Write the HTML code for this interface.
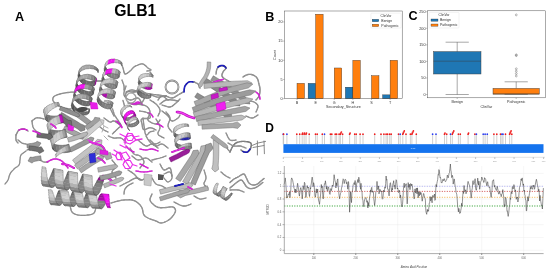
<!DOCTYPE html>
<html><head><meta charset="utf-8"><title>GLB1</title>
<style>html,body{margin:0;padding:0;background:#fff;width:550px;height:274px;overflow:hidden}
svg{display:block} text{font-family:'Liberation Sans', Arial, sans-serif}</style></head>
<body><svg width="550" height="274" viewBox="0 0 550 274">
<rect width="550" height="274" fill="#fff"/>
<text x="19.6" y="20.7" font-size="12.6" font-weight="bold" text-anchor="middle" fill="#000">A</text>
<text x="135.3" y="15.9" font-size="15.8" font-weight="bold" text-anchor="middle" fill="#000">GLB1</text>
<text x="269.8" y="20.7" font-size="12.6" font-weight="bold" text-anchor="middle" fill="#000">B</text>
<text x="413" y="20.4" font-size="12.6" font-weight="bold" text-anchor="middle" fill="#000">C</text>
<text x="269.6" y="131.8" font-size="12" font-weight="bold" text-anchor="middle" fill="#000">D</text>
<path d="M126.0,86.0 L125.7,87.0 L125.2,88.5 L124.6,90.2 L124.1,92.0 L123.9,93.6 L124.0,95.0 L124.5,96.1 L125.3,97.2 L126.4,98.2 L127.6,99.0 L128.8,99.6 L130.0,100.0 L131.3,100.0 L132.7,99.6 L134.1,98.9 L135.6,98.3 L136.9,98.0 L138.0,98.0 L138.9,98.6 L139.8,99.6 L140.5,100.9 L141.1,102.1 L141.6,103.3 L142.0,104.0" fill="none" stroke="#777777" stroke-width="1.30" stroke-linecap="round" stroke-linejoin="round"/><path d="M126.0,86.0 L125.7,87.0 L125.2,88.5 L124.6,90.2 L124.1,92.0 L123.9,93.6 L124.0,95.0 L124.5,96.1 L125.3,97.2 L126.4,98.2 L127.6,99.0 L128.8,99.6 L130.0,100.0 L131.3,100.0 L132.7,99.6 L134.1,98.9 L135.6,98.3 L136.9,98.0 L138.0,98.0 L138.9,98.6 L139.8,99.6 L140.5,100.9 L141.1,102.1 L141.6,103.3 L142.0,104.0" fill="none" stroke="#b4b4b4" stroke-width="0.50" stroke-linecap="round" stroke-linejoin="round"/>
<path d="M150.0,94.0 L150.7,94.4 L151.7,94.9 L152.9,95.6 L154.3,96.2 L155.6,96.7 L157.0,97.0 L158.5,97.1 L160.2,96.9 L161.9,96.7 L163.6,96.4 L165.0,96.2 L166.0,96.0" fill="none" stroke="#777777" stroke-width="1.30" stroke-linecap="round" stroke-linejoin="round"/><path d="M150.0,94.0 L150.7,94.4 L151.7,94.9 L152.9,95.6 L154.3,96.2 L155.6,96.7 L157.0,97.0 L158.5,97.1 L160.2,96.9 L161.9,96.7 L163.6,96.4 L165.0,96.2 L166.0,96.0" fill="none" stroke="#b4b4b4" stroke-width="0.50" stroke-linecap="round" stroke-linejoin="round"/>
<path d="M133.0,92.0 L133.8,91.7 L134.8,91.2 L136.0,90.7 L137.3,90.2 L138.7,90.0 L140.0,90.0 L141.4,90.5 L142.9,91.3 L144.4,92.4 L145.9,93.4 L147.1,94.4 L148.0,95.0" fill="none" stroke="#777777" stroke-width="1.30" stroke-linecap="round" stroke-linejoin="round"/><path d="M133.0,92.0 L133.8,91.7 L134.8,91.2 L136.0,90.7 L137.3,90.2 L138.7,90.0 L140.0,90.0 L141.4,90.5 L142.9,91.3 L144.4,92.4 L145.9,93.4 L147.1,94.4 L148.0,95.0" fill="none" stroke="#b4b4b4" stroke-width="0.50" stroke-linecap="round" stroke-linejoin="round"/>
<path d="M136.0,104.0 L137.2,104.2 L138.8,104.4 L140.8,104.6 L142.7,105.0 L144.6,105.4 L146.0,106.0 L147.1,106.7 L148.0,107.6 L148.8,108.6 L149.3,109.7 L149.8,110.8 L150.0,112.0 L149.9,113.3 L149.4,114.7 L148.8,116.1 L148.1,117.6 L147.8,118.9 L148.0,120.0 L148.8,121.0 L150.1,121.9 L151.6,122.8 L153.3,123.4 L154.8,123.8 L156.0,124.0 L156.9,123.8 L157.8,123.1 L158.5,122.2 L159.1,121.3 L159.6,120.5 L160.0,120.0" fill="none" stroke="#777777" stroke-width="1.30" stroke-linecap="round" stroke-linejoin="round"/><path d="M136.0,104.0 L137.2,104.2 L138.8,104.4 L140.8,104.6 L142.7,105.0 L144.6,105.4 L146.0,106.0 L147.1,106.7 L148.0,107.6 L148.8,108.6 L149.3,109.7 L149.8,110.8 L150.0,112.0 L149.9,113.3 L149.4,114.7 L148.8,116.1 L148.1,117.6 L147.8,118.9 L148.0,120.0 L148.8,121.0 L150.1,121.9 L151.6,122.8 L153.3,123.4 L154.8,123.8 L156.0,124.0 L156.9,123.8 L157.8,123.1 L158.5,122.2 L159.1,121.3 L159.6,120.5 L160.0,120.0" fill="none" stroke="#b4b4b4" stroke-width="0.50" stroke-linecap="round" stroke-linejoin="round"/>
<path d="M134.0,104.0 L134.4,103.7 L135.0,103.3 L135.8,102.9 L136.5,102.4 L137.3,102.1 L138.0,102.0 L138.7,102.1 L139.5,102.4 L140.2,102.9 L141.0,103.3 L141.6,103.7 L142.0,104.0" fill="none" stroke="#c010c0" stroke-width="1.40" stroke-linecap="round" stroke-linejoin="round"/><path d="M134.0,104.0 L134.4,103.7 L135.0,103.3 L135.8,102.9 L136.5,102.4 L137.3,102.1 L138.0,102.0 L138.7,102.1 L139.5,102.4 L140.2,102.9 L141.0,103.3 L141.6,103.7 L142.0,104.0" fill="none" stroke="#f040f0" stroke-width="0.55" stroke-linecap="round" stroke-linejoin="round"/>
<path d="M148.0,113.0 L148.3,113.1 L148.8,113.2 L149.4,113.3 L150.0,113.5 L150.5,113.7 L151.0,114.0 L151.4,114.4 L151.8,115.0 L152.2,115.6 L152.5,116.1 L152.8,116.7 L153.0,117.0" fill="none" stroke="#c010c0" stroke-width="1.40" stroke-linecap="round" stroke-linejoin="round"/><path d="M148.0,113.0 L148.3,113.1 L148.8,113.2 L149.4,113.3 L150.0,113.5 L150.5,113.7 L151.0,114.0 L151.4,114.4 L151.8,115.0 L152.2,115.6 L152.5,116.1 L152.8,116.7 L153.0,117.0" fill="none" stroke="#f040f0" stroke-width="0.55" stroke-linecap="round" stroke-linejoin="round"/>
<path d="M143.0,118.0 L143.1,118.9 L143.2,120.0 L143.4,121.4 L143.6,123.0 L143.8,124.5 L144.0,126.0 L144.3,127.6 L144.5,129.4 L144.8,131.2 L145.1,132.9 L145.5,134.2 L146.0,135.0 L146.6,135.2 L147.2,134.8 L147.9,134.1 L148.6,133.3 L149.3,132.5 L150.0,132.0 L150.7,131.7 L151.5,131.5 L152.2,131.3 L153.0,131.2 L153.6,131.1 L154.0,131.0" fill="none" stroke="#777777" stroke-width="1.30" stroke-linecap="round" stroke-linejoin="round"/><path d="M143.0,118.0 L143.1,118.9 L143.2,120.0 L143.4,121.4 L143.6,123.0 L143.8,124.5 L144.0,126.0 L144.3,127.6 L144.5,129.4 L144.8,131.2 L145.1,132.9 L145.5,134.2 L146.0,135.0 L146.6,135.2 L147.2,134.8 L147.9,134.1 L148.6,133.3 L149.3,132.5 L150.0,132.0 L150.7,131.7 L151.5,131.5 L152.2,131.3 L153.0,131.2 L153.6,131.1 L154.0,131.0" fill="none" stroke="#b4b4b4" stroke-width="0.50" stroke-linecap="round" stroke-linejoin="round"/>
<path d="M156.0,119.0 L156.5,119.9 L157.3,121.1 L158.1,122.6 L159.0,124.1 L159.6,125.6 L160.0,127.0 L159.9,128.3 L159.5,129.5 L158.9,130.8 L158.3,131.9 L157.9,133.0 L158.0,134.0 L158.6,134.9 L159.6,135.7 L160.9,136.4 L162.1,137.1 L163.3,137.6 L164.0,138.0" fill="none" stroke="#777777" stroke-width="1.30" stroke-linecap="round" stroke-linejoin="round"/><path d="M156.0,119.0 L156.5,119.9 L157.3,121.1 L158.1,122.6 L159.0,124.1 L159.6,125.6 L160.0,127.0 L159.9,128.3 L159.5,129.5 L158.9,130.8 L158.3,131.9 L157.9,133.0 L158.0,134.0 L158.6,134.9 L159.6,135.7 L160.9,136.4 L162.1,137.1 L163.3,137.6 L164.0,138.0" fill="none" stroke="#b4b4b4" stroke-width="0.50" stroke-linecap="round" stroke-linejoin="round"/>
<path d="M157.0,124.0 L157.3,124.1 L157.8,124.2 L158.3,124.4 L158.9,124.6 L159.5,124.8 L160.0,125.0 L160.5,125.3 L161.1,125.7 L161.7,126.1 L162.2,126.4 L162.7,126.8 L163.0,127.0" fill="none" stroke="#c010c0" stroke-width="1.40" stroke-linecap="round" stroke-linejoin="round"/><path d="M157.0,124.0 L157.3,124.1 L157.8,124.2 L158.3,124.4 L158.9,124.6 L159.5,124.8 L160.0,125.0 L160.5,125.3 L161.1,125.7 L161.7,126.1 L162.2,126.4 L162.7,126.8 L163.0,127.0" fill="none" stroke="#f040f0" stroke-width="0.55" stroke-linecap="round" stroke-linejoin="round"/>
<path d="M162.0,105.0 L162.9,105.3 L164.1,105.7 L165.6,106.2 L167.2,106.7 L168.7,107.0 L170.0,107.0 L171.1,106.7 L172.2,106.1 L173.2,105.4 L174.2,104.6 L175.1,103.7 L176.0,103.0 L176.8,102.3 L177.6,101.5 L178.4,100.8 L179.0,100.0 L179.6,99.4 L180.0,99.0" fill="none" stroke="#777777" stroke-width="1.30" stroke-linecap="round" stroke-linejoin="round"/><path d="M162.0,105.0 L162.9,105.3 L164.1,105.7 L165.6,106.2 L167.2,106.7 L168.7,107.0 L170.0,107.0 L171.1,106.7 L172.2,106.1 L173.2,105.4 L174.2,104.6 L175.1,103.7 L176.0,103.0 L176.8,102.3 L177.6,101.5 L178.4,100.8 L179.0,100.0 L179.6,99.4 L180.0,99.0" fill="none" stroke="#b4b4b4" stroke-width="0.50" stroke-linecap="round" stroke-linejoin="round"/>
<path d="M162.0,111.0 L162.7,111.5 L163.6,112.3 L164.8,113.2 L165.9,114.1 L167.0,115.1 L168.0,116.0 L168.8,116.9 L169.4,118.0 L170.0,119.0 L170.6,119.9 L171.2,120.6 L172.0,121.0 L172.9,121.0 L174.0,120.6 L175.1,120.0 L176.2,119.3 L177.2,118.6 L178.0,118.0 L178.6,117.5 L179.0,116.9 L179.4,116.3 L179.6,115.8 L179.8,115.3 L180.0,115.0" fill="none" stroke="#777777" stroke-width="1.30" stroke-linecap="round" stroke-linejoin="round"/><path d="M162.0,111.0 L162.7,111.5 L163.6,112.3 L164.8,113.2 L165.9,114.1 L167.0,115.1 L168.0,116.0 L168.8,116.9 L169.4,118.0 L170.0,119.0 L170.6,119.9 L171.2,120.6 L172.0,121.0 L172.9,121.0 L174.0,120.6 L175.1,120.0 L176.2,119.3 L177.2,118.6 L178.0,118.0 L178.6,117.5 L179.0,116.9 L179.4,116.3 L179.6,115.8 L179.8,115.3 L180.0,115.0" fill="none" stroke="#b4b4b4" stroke-width="0.50" stroke-linecap="round" stroke-linejoin="round"/>
<path d="M104.0,118.0 L104.7,118.5 L105.6,119.2 L106.8,120.1 L107.9,120.9 L109.0,121.6 L110.0,122.0 L110.8,122.1 L111.4,121.9 L112.0,121.5 L112.6,121.1 L113.2,120.9 L114.0,121.0 L115.0,121.4 L116.1,122.1 L117.2,122.9 L118.4,123.8 L119.3,124.5 L120.0,125.0" fill="none" stroke="#777777" stroke-width="1.30" stroke-linecap="round" stroke-linejoin="round"/><path d="M104.0,118.0 L104.7,118.5 L105.6,119.2 L106.8,120.1 L107.9,120.9 L109.0,121.6 L110.0,122.0 L110.8,122.1 L111.4,121.9 L112.0,121.5 L112.6,121.1 L113.2,120.9 L114.0,121.0 L115.0,121.4 L116.1,122.1 L117.2,122.9 L118.4,123.8 L119.3,124.5 L120.0,125.0" fill="none" stroke="#b4b4b4" stroke-width="0.50" stroke-linecap="round" stroke-linejoin="round"/>
<path d="M116.0,121.0 L116.3,121.2 L116.8,121.4 L117.3,121.8 L117.9,122.1 L118.5,122.5 L119.0,123.0 L119.5,123.6 L120.1,124.3 L120.7,125.1 L121.2,125.9 L121.7,126.5 L122.0,127.0" fill="none" stroke="#c010c0" stroke-width="1.40" stroke-linecap="round" stroke-linejoin="round"/><path d="M116.0,121.0 L116.3,121.2 L116.8,121.4 L117.3,121.8 L117.9,122.1 L118.5,122.5 L119.0,123.0 L119.5,123.6 L120.1,124.3 L120.7,125.1 L121.2,125.9 L121.7,126.5 L122.0,127.0" fill="none" stroke="#f040f0" stroke-width="0.55" stroke-linecap="round" stroke-linejoin="round"/>
<path d="M108.0,103.0 L108.3,103.8 L108.8,104.9 L109.3,106.1 L109.9,107.5 L110.5,108.8 L111.0,110.0 L111.5,111.1 L112.1,112.3 L112.7,113.4 L113.2,114.5 L113.7,115.4 L114.0,116.0" fill="none" stroke="#777777" stroke-width="1.30" stroke-linecap="round" stroke-linejoin="round"/><path d="M108.0,103.0 L108.3,103.8 L108.8,104.9 L109.3,106.1 L109.9,107.5 L110.5,108.8 L111.0,110.0 L111.5,111.1 L112.1,112.3 L112.7,113.4 L113.2,114.5 L113.7,115.4 L114.0,116.0" fill="none" stroke="#b4b4b4" stroke-width="0.50" stroke-linecap="round" stroke-linejoin="round"/>
<path d="M138.0,140.0 L138.9,140.7 L140.1,141.9 L141.6,143.1 L143.2,144.4 L144.7,145.4 L146.0,146.0 L147.1,146.1 L148.1,145.7 L149.1,145.1 L150.1,144.5 L151.0,144.1 L152.0,144.0 L153.1,144.4 L154.2,145.0 L155.4,145.9 L156.4,146.7 L157.3,147.5 L158.0,148.0" fill="none" stroke="#777777" stroke-width="1.30" stroke-linecap="round" stroke-linejoin="round"/><path d="M138.0,140.0 L138.9,140.7 L140.1,141.9 L141.6,143.1 L143.2,144.4 L144.7,145.4 L146.0,146.0 L147.1,146.1 L148.1,145.7 L149.1,145.1 L150.1,144.5 L151.0,144.1 L152.0,144.0 L153.1,144.4 L154.2,145.0 L155.4,145.9 L156.4,146.7 L157.3,147.5 L158.0,148.0" fill="none" stroke="#b4b4b4" stroke-width="0.50" stroke-linecap="round" stroke-linejoin="round"/>
<path d="M140.0,149.0 L140.7,149.1 L141.6,149.3 L142.6,149.6 L143.8,149.8 L144.9,149.9 L146.0,150.0 L147.0,149.9 L148.0,149.7 L149.0,149.4 L150.0,149.2 L151.0,149.0 L152.0,149.0 L153.1,149.2 L154.2,149.5 L155.4,149.9 L156.4,150.4 L157.3,150.7 L158.0,151.0" fill="none" stroke="#c010c0" stroke-width="1.40" stroke-linecap="round" stroke-linejoin="round"/><path d="M140.0,149.0 L140.7,149.1 L141.6,149.3 L142.6,149.6 L143.8,149.8 L144.9,149.9 L146.0,150.0 L147.0,149.9 L148.0,149.7 L149.0,149.4 L150.0,149.2 L151.0,149.0 L152.0,149.0 L153.1,149.2 L154.2,149.5 L155.4,149.9 L156.4,150.4 L157.3,150.7 L158.0,151.0" fill="none" stroke="#f040f0" stroke-width="0.55" stroke-linecap="round" stroke-linejoin="round"/>
<path d="M132.0,156.0 L132.6,156.5 L133.5,157.3 L134.5,158.1 L135.6,159.0 L136.8,159.6 L138.0,160.0 L139.2,159.9 L140.6,159.6 L142.0,159.0 L143.4,158.4 L144.8,158.1 L146.0,158.0 L147.2,158.4 L148.4,159.0 L149.5,159.9 L150.5,160.7 L151.4,161.5 L152.0,162.0" fill="none" stroke="#777777" stroke-width="1.30" stroke-linecap="round" stroke-linejoin="round"/><path d="M132.0,156.0 L132.6,156.5 L133.5,157.3 L134.5,158.1 L135.6,159.0 L136.8,159.6 L138.0,160.0 L139.2,159.9 L140.6,159.6 L142.0,159.0 L143.4,158.4 L144.8,158.1 L146.0,158.0 L147.2,158.4 L148.4,159.0 L149.5,159.9 L150.5,160.7 L151.4,161.5 L152.0,162.0" fill="none" stroke="#b4b4b4" stroke-width="0.50" stroke-linecap="round" stroke-linejoin="round"/>
<path d="M136.0,171.0 L136.9,171.1 L138.1,171.3 L139.5,171.6 L141.0,171.8 L142.6,171.9 L144.0,172.0 L145.4,171.9 L147.0,171.8 L148.5,171.6 L149.9,171.3 L151.1,171.1 L152.0,171.0" fill="none" stroke="#c010c0" stroke-width="1.40" stroke-linecap="round" stroke-linejoin="round"/><path d="M136.0,171.0 L136.9,171.1 L138.1,171.3 L139.5,171.6 L141.0,171.8 L142.6,171.9 L144.0,172.0 L145.4,171.9 L147.0,171.8 L148.5,171.6 L149.9,171.3 L151.1,171.1 L152.0,171.0" fill="none" stroke="#f040f0" stroke-width="0.55" stroke-linecap="round" stroke-linejoin="round"/>
<path d="M152.0,160.0 L152.9,159.8 L154.1,159.5 L155.6,159.1 L157.2,158.7 L158.7,158.4 L160.0,158.0 L161.2,157.6 L162.4,157.3 L163.5,156.9 L164.5,156.5 L165.4,156.2 L166.0,156.0" fill="none" stroke="#777777" stroke-width="1.30" stroke-linecap="round" stroke-linejoin="round"/><path d="M152.0,160.0 L152.9,159.8 L154.1,159.5 L155.6,159.1 L157.2,158.7 L158.7,158.4 L160.0,158.0 L161.2,157.6 L162.4,157.3 L163.5,156.9 L164.5,156.5 L165.4,156.2 L166.0,156.0" fill="none" stroke="#b4b4b4" stroke-width="0.50" stroke-linecap="round" stroke-linejoin="round"/>
<path d="M120.0,186.0 L120.9,185.6 L122.1,185.0 L123.5,184.2 L125.0,183.5 L126.6,182.7 L128.0,182.0 L129.4,181.3 L130.7,180.4 L132.1,179.6 L133.5,178.9 L134.8,178.3 L136.0,178.0 L137.2,178.0 L138.4,178.3 L139.5,178.8 L140.5,179.3 L141.4,179.7 L142.0,180.0" fill="none" stroke="#777777" stroke-width="1.30" stroke-linecap="round" stroke-linejoin="round"/><path d="M120.0,186.0 L120.9,185.6 L122.1,185.0 L123.5,184.2 L125.0,183.5 L126.6,182.7 L128.0,182.0 L129.4,181.3 L130.7,180.4 L132.1,179.6 L133.5,178.9 L134.8,178.3 L136.0,178.0 L137.2,178.0 L138.4,178.3 L139.5,178.8 L140.5,179.3 L141.4,179.7 L142.0,180.0" fill="none" stroke="#b4b4b4" stroke-width="0.50" stroke-linecap="round" stroke-linejoin="round"/>
<path d="M150.0,140.0 L150.5,140.5 L151.3,141.3 L152.2,142.1 L153.1,143.0 L154.1,143.6 L155.0,144.0 L155.9,144.0 L156.9,143.7 L157.8,143.2 L158.7,142.7 L159.5,142.3 L160.0,142.0" fill="none" stroke="#777777" stroke-width="1.30" stroke-linecap="round" stroke-linejoin="round"/><path d="M150.0,140.0 L150.5,140.5 L151.3,141.3 L152.2,142.1 L153.1,143.0 L154.1,143.6 L155.0,144.0 L155.9,144.0 L156.9,143.7 L157.8,143.2 L158.7,142.7 L159.5,142.3 L160.0,142.0" fill="none" stroke="#b4b4b4" stroke-width="0.50" stroke-linecap="round" stroke-linejoin="round"/>
<path d="M160.0,164.0 L160.4,164.7 L161.0,165.9 L161.6,167.1 L162.4,168.4 L163.2,169.4 L164.0,170.0 L164.9,170.0 L166.0,169.6 L167.1,168.9 L168.2,168.2 L169.2,167.8 L170.0,168.0 L170.6,168.8 L171.0,170.2 L171.4,171.9 L171.6,173.6 L171.8,175.0 L172.0,176.0" fill="none" stroke="#777777" stroke-width="1.30" stroke-linecap="round" stroke-linejoin="round"/><path d="M160.0,164.0 L160.4,164.7 L161.0,165.9 L161.6,167.1 L162.4,168.4 L163.2,169.4 L164.0,170.0 L164.9,170.0 L166.0,169.6 L167.1,168.9 L168.2,168.2 L169.2,167.8 L170.0,168.0 L170.6,168.8 L171.0,170.2 L171.4,171.9 L171.6,173.6 L171.8,175.0 L172.0,176.0" fill="none" stroke="#b4b4b4" stroke-width="0.50" stroke-linecap="round" stroke-linejoin="round"/>
<path d="M164.0,174.0 L164.7,173.7 L165.7,173.2 L166.9,172.6 L168.1,172.1 L169.2,171.9 L170.0,172.0 L170.6,172.6 L171.2,173.5 L171.6,174.6 L171.9,175.9 L172.1,177.0 L172.0,178.0 L171.7,178.9 L171.1,179.8 L170.4,180.6 L169.6,181.3 L168.7,181.8 L168.0,182.0 L167.3,181.8 L166.5,181.1 L165.8,180.2 L165.0,179.3 L164.4,178.5 L164.0,178.0" fill="none" stroke="#777777" stroke-width="1.20" stroke-linecap="round" stroke-linejoin="round"/><path d="M164.0,174.0 L164.7,173.7 L165.7,173.2 L166.9,172.6 L168.1,172.1 L169.2,171.9 L170.0,172.0 L170.6,172.6 L171.2,173.5 L171.6,174.6 L171.9,175.9 L172.1,177.0 L172.0,178.0 L171.7,178.9 L171.1,179.8 L170.4,180.6 L169.6,181.3 L168.7,181.8 L168.0,182.0 L167.3,181.8 L166.5,181.1 L165.8,180.2 L165.0,179.3 L164.4,178.5 L164.0,178.0" fill="none" stroke="#b4b4b4" stroke-width="0.45" stroke-linecap="round" stroke-linejoin="round"/>
<path d="M112.5,108.8 L112.7,109.5 L113.0,110.4 L113.3,111.5 L113.7,112.7 L114.1,113.9 L114.6,115.0 L115.2,116.1 L115.9,117.2 L116.6,118.3 L117.4,119.4 L118.1,120.4 L118.7,121.3 L119.2,122.1 L119.8,122.9 L120.3,123.5 L120.6,124.2 L120.8,124.8 L120.8,125.5 L120.5,126.2 L119.9,126.9 L119.1,127.6 L118.3,128.3 L117.5,129.0 L116.7,129.7 L116.0,130.4 L115.2,131.2 L114.3,132.0 L113.6,132.7 L113.0,133.4 L112.5,133.8" fill="none" stroke="#777777" stroke-width="1.30" stroke-linecap="round" stroke-linejoin="round"/><path d="M112.5,108.8 L112.7,109.5 L113.0,110.4 L113.3,111.5 L113.7,112.7 L114.1,113.9 L114.6,115.0 L115.2,116.1 L115.9,117.2 L116.6,118.3 L117.4,119.4 L118.1,120.4 L118.7,121.3 L119.2,122.1 L119.8,122.9 L120.3,123.5 L120.6,124.2 L120.8,124.8 L120.8,125.5 L120.5,126.2 L119.9,126.9 L119.1,127.6 L118.3,128.3 L117.5,129.0 L116.7,129.7 L116.0,130.4 L115.2,131.2 L114.3,132.0 L113.6,132.7 L113.0,133.4 L112.5,133.8" fill="none" stroke="#b4b4b4" stroke-width="0.50" stroke-linecap="round" stroke-linejoin="round"/>
<path d="M117.7,122.0 L118.0,122.3 L118.3,122.6 L118.7,123.1 L119.2,123.5 L119.6,124.0 L120.0,124.5 L120.4,125.0 L120.7,125.6 L121.1,126.2 L121.4,126.8 L121.7,127.3 L121.9,127.6" fill="none" stroke="#c010c0" stroke-width="1.50" stroke-linecap="round" stroke-linejoin="round"/><path d="M117.7,122.0 L118.0,122.3 L118.3,122.6 L118.7,123.1 L119.2,123.5 L119.6,124.0 L120.0,124.5 L120.4,125.0 L120.7,125.6 L121.1,126.2 L121.4,126.8 L121.7,127.3 L121.9,127.6" fill="none" stroke="#f040f0" stroke-width="0.60" stroke-linecap="round" stroke-linejoin="round"/>
<path d="M125.0,96.3 L125.2,95.8 L125.4,95.0 L125.6,94.1 L126.0,93.3 L126.4,92.5 L127.0,92.0 L127.7,91.8 L128.6,91.7 L129.6,91.7 L130.7,91.8 L131.8,92.0 L133.0,92.0 L134.4,92.0 L135.9,91.8 L137.5,91.7 L139.1,91.7 L140.5,91.8 L141.7,92.0 L142.6,92.4 L143.4,93.0 L144.0,93.8 L144.4,94.6 L144.7,95.4 L144.8,96.3 L144.7,97.3 L144.3,98.4 L143.8,99.6 L143.2,100.7 L142.5,101.8 L141.7,102.6 L140.8,103.2 L139.9,103.8 L138.8,104.1 L137.7,104.4 L136.6,104.6 L135.4,104.7 L134.1,104.6 L132.7,104.4 L131.3,104.0 L130.0,103.6 L128.8,103.2 L128.0,103.0" fill="none" stroke="#777777" stroke-width="1.30" stroke-linecap="round" stroke-linejoin="round"/><path d="M125.0,96.3 L125.2,95.8 L125.4,95.0 L125.6,94.1 L126.0,93.3 L126.4,92.5 L127.0,92.0 L127.7,91.8 L128.6,91.7 L129.6,91.7 L130.7,91.8 L131.8,92.0 L133.0,92.0 L134.4,92.0 L135.9,91.8 L137.5,91.7 L139.1,91.7 L140.5,91.8 L141.7,92.0 L142.6,92.4 L143.4,93.0 L144.0,93.8 L144.4,94.6 L144.7,95.4 L144.8,96.3 L144.7,97.3 L144.3,98.4 L143.8,99.6 L143.2,100.7 L142.5,101.8 L141.7,102.6 L140.8,103.2 L139.9,103.8 L138.8,104.1 L137.7,104.4 L136.6,104.6 L135.4,104.7 L134.1,104.6 L132.7,104.4 L131.3,104.0 L130.0,103.6 L128.8,103.2 L128.0,103.0" fill="none" stroke="#b4b4b4" stroke-width="0.50" stroke-linecap="round" stroke-linejoin="round"/>
<path d="M131.0,103.5 L131.4,103.6 L132.0,103.7 L132.7,103.8 L133.5,103.9 L134.3,104.0 L135.0,104.0 L135.8,103.9 L136.7,103.7 L137.6,103.5 L138.4,103.3 L139.1,103.1 L139.6,103.0" fill="none" stroke="#c010c0" stroke-width="1.50" stroke-linecap="round" stroke-linejoin="round"/><path d="M131.0,103.5 L131.4,103.6 L132.0,103.7 L132.7,103.8 L133.5,103.9 L134.3,104.0 L135.0,104.0 L135.8,103.9 L136.7,103.7 L137.6,103.5 L138.4,103.3 L139.1,103.1 L139.6,103.0" fill="none" stroke="#f040f0" stroke-width="0.60" stroke-linecap="round" stroke-linejoin="round"/>
<path d="M123.0,100.5 L123.1,100.9 L123.3,101.4 L123.4,102.0 L123.6,102.6 L123.8,103.3 L124.0,104.0 L124.2,104.8 L124.4,105.7 L124.6,106.6 L124.7,107.5 L124.9,108.3 L125.0,108.8" fill="none" stroke="#777777" stroke-width="1.30" stroke-linecap="round" stroke-linejoin="round"/><path d="M123.0,100.5 L123.1,100.9 L123.3,101.4 L123.4,102.0 L123.6,102.6 L123.8,103.3 L124.0,104.0 L124.2,104.8 L124.4,105.7 L124.6,106.6 L124.7,107.5 L124.9,108.3 L125.0,108.8" fill="none" stroke="#b4b4b4" stroke-width="0.50" stroke-linecap="round" stroke-linejoin="round"/>
<path d="M139.6,111.0 L140.6,111.2 L142.0,111.4 L143.7,111.7 L145.4,112.0 L146.9,112.5 L148.0,113.0 L148.8,113.7 L149.5,114.6 L150.0,115.6 L150.3,116.5 L150.3,117.4 L150.0,118.0 L149.1,118.4 L147.7,118.5 L146.0,118.5 L144.2,118.5 L142.7,118.6 L141.7,119.0 L141.2,119.6 L141.1,120.3 L141.2,121.2 L141.5,122.1 L141.8,123.1 L142.0,124.0 L142.2,125.0 L142.3,126.1 L142.5,127.3 L142.8,128.4 L143.2,129.2 L143.8,129.7 L144.5,129.7 L145.5,129.4 L146.6,128.9 L147.8,128.3 L148.9,127.8 L150.0,127.6 L151.1,127.8 L152.2,128.2 L153.4,128.7 L154.5,129.2 L155.4,129.7 L156.0,130.0" fill="none" stroke="#777777" stroke-width="1.30" stroke-linecap="round" stroke-linejoin="round"/><path d="M139.6,111.0 L140.6,111.2 L142.0,111.4 L143.7,111.7 L145.4,112.0 L146.9,112.5 L148.0,113.0 L148.8,113.7 L149.5,114.6 L150.0,115.6 L150.3,116.5 L150.3,117.4 L150.0,118.0 L149.1,118.4 L147.7,118.5 L146.0,118.5 L144.2,118.5 L142.7,118.6 L141.7,119.0 L141.2,119.6 L141.1,120.3 L141.2,121.2 L141.5,122.1 L141.8,123.1 L142.0,124.0 L142.2,125.0 L142.3,126.1 L142.5,127.3 L142.8,128.4 L143.2,129.2 L143.8,129.7 L144.5,129.7 L145.5,129.4 L146.6,128.9 L147.8,128.3 L148.9,127.8 L150.0,127.6 L151.1,127.8 L152.2,128.2 L153.4,128.7 L154.5,129.2 L155.4,129.7 L156.0,130.0" fill="none" stroke="#b4b4b4" stroke-width="0.50" stroke-linecap="round" stroke-linejoin="round"/>
<path d="M108.3,136.0 L108.9,136.2 L109.7,136.6 L110.7,137.0 L111.8,137.4 L112.9,137.8 L114.0,138.0 L115.1,138.1 L116.2,138.0 L117.4,137.9 L118.6,137.8 L119.7,137.8 L120.8,138.0 L121.8,138.5 L122.8,139.2 L123.8,140.0 L124.7,140.8 L125.5,141.5 L126.0,142.0" fill="none" stroke="#777777" stroke-width="1.30" stroke-linecap="round" stroke-linejoin="round"/><path d="M108.3,136.0 L108.9,136.2 L109.7,136.6 L110.7,137.0 L111.8,137.4 L112.9,137.8 L114.0,138.0 L115.1,138.1 L116.2,138.0 L117.4,137.9 L118.6,137.8 L119.7,137.8 L120.8,138.0 L121.8,138.5 L122.8,139.2 L123.8,140.0 L124.7,140.8 L125.5,141.5 L126.0,142.0" fill="none" stroke="#b4b4b4" stroke-width="0.50" stroke-linecap="round" stroke-linejoin="round"/>
<path d="M100.0,127.0 L100.4,127.3 L101.0,127.8 L101.8,128.4 L102.5,129.0 L103.3,129.5 L104.0,130.0 L104.7,130.4 L105.5,130.8 L106.2,131.2 L107.0,131.5 L107.6,131.8 L108.0,132.0" fill="none" stroke="#777777" stroke-width="1.30" stroke-linecap="round" stroke-linejoin="round"/><path d="M100.0,127.0 L100.4,127.3 L101.0,127.8 L101.8,128.4 L102.5,129.0 L103.3,129.5 L104.0,130.0 L104.7,130.4 L105.5,130.8 L106.2,131.2 L107.0,131.5 L107.6,131.8 L108.0,132.0" fill="none" stroke="#b4b4b4" stroke-width="0.50" stroke-linecap="round" stroke-linejoin="round"/>
<path d="M150.0,100.0 L150.7,100.4 L151.6,101.0 L152.8,101.6 L153.9,102.4 L155.0,103.2 L156.0,104.0 L156.9,104.9 L157.7,105.9 L158.5,106.9 L159.2,107.9 L159.7,109.0 L160.0,110.0 L160.0,111.1 L159.7,112.2 L159.2,113.4 L158.7,114.4 L158.3,115.3 L158.0,116.0" fill="none" stroke="#777777" stroke-width="1.30" stroke-linecap="round" stroke-linejoin="round"/><path d="M150.0,100.0 L150.7,100.4 L151.6,101.0 L152.8,101.6 L153.9,102.4 L155.0,103.2 L156.0,104.0 L156.9,104.9 L157.7,105.9 L158.5,106.9 L159.2,107.9 L159.7,109.0 L160.0,110.0 L160.0,111.1 L159.7,112.2 L159.2,113.4 L158.7,114.4 L158.3,115.3 L158.0,116.0" fill="none" stroke="#b4b4b4" stroke-width="0.50" stroke-linecap="round" stroke-linejoin="round"/>
<path d="M166.0,112.0 L166.5,112.6 L167.3,113.5 L168.1,114.5 L169.0,115.6 L169.6,116.8 L170.0,118.0 L169.9,119.2 L169.6,120.6 L169.0,122.0 L168.4,123.4 L168.1,124.8 L168.0,126.0 L168.4,127.2 L169.0,128.4 L169.9,129.5 L170.7,130.5 L171.5,131.4 L172.0,132.0" fill="none" stroke="#777777" stroke-width="1.30" stroke-linecap="round" stroke-linejoin="round"/><path d="M166.0,112.0 L166.5,112.6 L167.3,113.5 L168.1,114.5 L169.0,115.6 L169.6,116.8 L170.0,118.0 L169.9,119.2 L169.6,120.6 L169.0,122.0 L168.4,123.4 L168.1,124.8 L168.0,126.0 L168.4,127.2 L169.0,128.4 L169.9,129.5 L170.7,130.5 L171.5,131.4 L172.0,132.0" fill="none" stroke="#b4b4b4" stroke-width="0.50" stroke-linecap="round" stroke-linejoin="round"/>
<path d="M146.0,136.0 L146.4,136.7 L147.0,137.6 L147.6,138.8 L148.4,139.9 L149.2,141.0 L150.0,142.0 L150.9,142.9 L151.9,143.7 L152.9,144.5 L153.9,145.2 L155.0,145.7 L156.0,146.0 L157.0,145.9 L158.0,145.6 L159.0,145.0 L160.0,144.4 L161.0,144.1 L162.0,144.0 L163.1,144.4 L164.2,145.0 L165.4,145.9 L166.4,146.7 L167.3,147.5 L168.0,148.0" fill="none" stroke="#777777" stroke-width="1.30" stroke-linecap="round" stroke-linejoin="round"/><path d="M146.0,136.0 L146.4,136.7 L147.0,137.6 L147.6,138.8 L148.4,139.9 L149.2,141.0 L150.0,142.0 L150.9,142.9 L151.9,143.7 L152.9,144.5 L153.9,145.2 L155.0,145.7 L156.0,146.0 L157.0,145.9 L158.0,145.6 L159.0,145.0 L160.0,144.4 L161.0,144.1 L162.0,144.0 L163.1,144.4 L164.2,145.0 L165.4,145.9 L166.4,146.7 L167.3,147.5 L168.0,148.0" fill="none" stroke="#b4b4b4" stroke-width="0.50" stroke-linecap="round" stroke-linejoin="round"/>
<path d="M130.0,148.0 L130.4,148.7 L131.0,149.7 L131.6,150.9 L132.4,152.1 L133.2,153.2 L134.0,154.0 L134.9,154.5 L135.9,154.8 L137.0,155.0 L138.1,155.2 L139.1,155.5 L140.0,156.0 L140.9,156.8 L141.8,157.7 L142.6,158.8 L143.3,159.9 L143.8,161.0 L144.0,162.0 L143.8,163.1 L143.1,164.2 L142.2,165.4 L141.3,166.4 L140.5,167.3 L140.0,168.0" fill="none" stroke="#777777" stroke-width="1.30" stroke-linecap="round" stroke-linejoin="round"/><path d="M130.0,148.0 L130.4,148.7 L131.0,149.7 L131.6,150.9 L132.4,152.1 L133.2,153.2 L134.0,154.0 L134.9,154.5 L135.9,154.8 L137.0,155.0 L138.1,155.2 L139.1,155.5 L140.0,156.0 L140.9,156.8 L141.8,157.7 L142.6,158.8 L143.3,159.9 L143.8,161.0 L144.0,162.0 L143.8,163.1 L143.1,164.2 L142.2,165.4 L141.3,166.4 L140.5,167.3 L140.0,168.0" fill="none" stroke="#b4b4b4" stroke-width="0.50" stroke-linecap="round" stroke-linejoin="round"/>
<path d="M152.0,178.0 L152.4,178.7 L153.0,179.7 L153.6,180.9 L154.4,182.1 L155.2,183.2 L156.0,184.0 L156.9,184.5 L157.9,184.9 L158.9,185.1 L159.9,185.3 L161.0,185.6 L162.0,186.0 L163.1,186.6 L164.2,187.3 L165.4,188.1 L166.4,188.9 L167.3,189.5 L168.0,190.0" fill="none" stroke="#777777" stroke-width="1.30" stroke-linecap="round" stroke-linejoin="round"/><path d="M152.0,178.0 L152.4,178.7 L153.0,179.7 L153.6,180.9 L154.4,182.1 L155.2,183.2 L156.0,184.0 L156.9,184.5 L157.9,184.9 L158.9,185.1 L159.9,185.3 L161.0,185.6 L162.0,186.0 L163.1,186.6 L164.2,187.3 L165.4,188.1 L166.4,188.9 L167.3,189.5 L168.0,190.0" fill="none" stroke="#b4b4b4" stroke-width="0.50" stroke-linecap="round" stroke-linejoin="round"/>
<path d="M128.0,170.0 L128.7,170.4 L129.6,171.0 L130.6,171.6 L131.8,172.4 L132.9,173.2 L134.0,174.0 L135.0,175.0 L136.0,176.1 L137.0,177.4 L138.0,178.5 L139.0,179.4 L140.0,180.0 L141.1,180.1 L142.2,179.9 L143.4,179.4 L144.4,178.8 L145.3,178.3 L146.0,178.0" fill="none" stroke="#777777" stroke-width="1.30" stroke-linecap="round" stroke-linejoin="round"/><path d="M128.0,170.0 L128.7,170.4 L129.6,171.0 L130.6,171.6 L131.8,172.4 L132.9,173.2 L134.0,174.0 L135.0,175.0 L136.0,176.1 L137.0,177.4 L138.0,178.5 L139.0,179.4 L140.0,180.0 L141.1,180.1 L142.2,179.9 L143.4,179.4 L144.4,178.8 L145.3,178.3 L146.0,178.0" fill="none" stroke="#b4b4b4" stroke-width="0.50" stroke-linecap="round" stroke-linejoin="round"/>
<path d="M112.0,160.0 L112.5,160.7 L113.3,161.6 L114.2,162.6 L115.1,163.8 L115.8,164.9 L116.0,166.0 L115.7,167.0 L115.0,168.0 L114.0,169.0 L113.0,170.0 L112.3,171.0 L112.0,172.0 L112.2,173.1 L112.9,174.2 L113.8,175.4 L114.7,176.4 L115.5,177.3 L116.0,178.0" fill="none" stroke="#777777" stroke-width="1.30" stroke-linecap="round" stroke-linejoin="round"/><path d="M112.0,160.0 L112.5,160.7 L113.3,161.6 L114.2,162.6 L115.1,163.8 L115.8,164.9 L116.0,166.0 L115.7,167.0 L115.0,168.0 L114.0,169.0 L113.0,170.0 L112.3,171.0 L112.0,172.0 L112.2,173.1 L112.9,174.2 L113.8,175.4 L114.7,176.4 L115.5,177.3 L116.0,178.0" fill="none" stroke="#b4b4b4" stroke-width="0.50" stroke-linecap="round" stroke-linejoin="round"/>
<path d="M126.0,146.0 L126.4,146.5 L127.0,147.1 L127.8,147.9 L128.5,148.7 L129.3,149.4 L130.0,150.0 L130.7,150.5 L131.5,150.9 L132.2,151.2 L133.0,151.6 L133.6,151.8 L134.0,152.0" fill="none" stroke="#c010c0" stroke-width="1.50" stroke-linecap="round" stroke-linejoin="round"/><path d="M126.0,146.0 L126.4,146.5 L127.0,147.1 L127.8,147.9 L128.5,148.7 L129.3,149.4 L130.0,150.0 L130.7,150.5 L131.5,150.9 L132.2,151.2 L133.0,151.6 L133.6,151.8 L134.0,152.0" fill="none" stroke="#f040f0" stroke-width="0.60" stroke-linecap="round" stroke-linejoin="round"/>
<path d="M140.0,164.0 L140.4,164.2 L141.0,164.5 L141.8,164.9 L142.5,165.3 L143.3,165.6 L144.0,166.0 L144.7,166.4 L145.5,166.7 L146.2,167.1 L147.0,167.5 L147.6,167.8 L148.0,168.0" fill="none" stroke="#c010c0" stroke-width="1.50" stroke-linecap="round" stroke-linejoin="round"/><path d="M140.0,164.0 L140.4,164.2 L141.0,164.5 L141.8,164.9 L142.5,165.3 L143.3,165.6 L144.0,166.0 L144.7,166.4 L145.5,166.7 L146.2,167.1 L147.0,167.5 L147.6,167.8 L148.0,168.0" fill="none" stroke="#f040f0" stroke-width="0.60" stroke-linecap="round" stroke-linejoin="round"/>
<path d="M158.0,100.0 L158.4,99.5 L159.0,98.7 L159.6,97.8 L160.4,96.9 L161.2,96.2 L162.0,96.0 L163.0,96.2 L164.1,96.9 L165.2,97.8 L166.4,98.7 L167.3,99.5 L168.0,100.0" fill="none" stroke="#777777" stroke-width="1.30" stroke-linecap="round" stroke-linejoin="round"/><path d="M158.0,100.0 L158.4,99.5 L159.0,98.7 L159.6,97.8 L160.4,96.9 L161.2,96.2 L162.0,96.0 L163.0,96.2 L164.1,96.9 L165.2,97.8 L166.4,98.7 L167.3,99.5 L168.0,100.0" fill="none" stroke="#b4b4b4" stroke-width="0.50" stroke-linecap="round" stroke-linejoin="round"/>
<path d="M111.0,203.0 L111.8,202.8 L112.9,202.4 L114.1,202.1 L115.5,201.7 L116.8,201.3 L118.0,201.0 L119.0,200.8 L120.0,200.6 L120.9,200.4 L121.9,200.2 L122.9,200.1 L124.0,200.0 L125.2,199.9 L126.6,199.8 L128.0,199.8 L129.4,199.7 L130.8,199.8 L132.0,200.0 L133.1,200.3 L134.2,200.7 L135.2,201.2 L136.2,201.7 L137.1,202.3 L138.0,203.0 L138.8,203.7 L139.6,204.4 L140.2,205.2 L140.9,206.1 L141.5,207.0 L142.0,208.0 L142.4,209.1 L142.7,210.3 L142.9,211.6 L143.2,212.9 L143.5,214.0 L144.0,215.0 L144.6,215.8 L145.4,216.5 L146.2,217.0 L147.1,217.5 L148.0,218.0 L149.0,218.5 L150.1,219.0 L151.3,219.4 L152.5,219.8 L153.7,220.2 L154.9,220.6 L156.0,221.0 L156.9,221.4 L157.8,221.9 L158.6,222.3 L159.3,222.6 L160.1,222.9 L161.0,223.0 L162.0,222.9 L163.0,222.7 L164.0,222.4 L165.0,222.0 L166.0,221.5 L167.0,221.0 L167.9,220.5 L168.8,219.9 L169.7,219.2 L170.5,218.6 L171.3,217.8 L172.0,217.0 L172.7,216.1 L173.5,215.1 L174.2,214.0 L174.8,212.9 L175.3,211.9 L175.5,211.0 L175.5,210.2 L175.3,209.4 L174.9,208.6 L174.4,207.9 L173.7,207.4 L173.0,207.0 L172.1,206.8 L171.0,206.9 L169.8,207.0 L168.5,207.2 L167.2,207.4 L166.0,207.5 L164.8,207.6 L163.6,207.6 L162.4,207.7 L161.2,207.7 L160.1,207.7 L159.0,207.5 L158.0,207.3 L157.1,206.9 L156.3,206.6 L155.5,206.1 L154.8,205.6 L154.0,205.0 L153.2,204.3 L152.4,203.6 L151.6,202.7 L150.9,201.8 L150.3,200.9 L150.0,200.0 L150.0,199.0 L150.3,197.9 L150.8,196.7 L151.3,195.6 L151.7,194.7 L152.0,194.0" fill="none" stroke="#777777" stroke-width="1.35" stroke-linecap="round" stroke-linejoin="round"/><path d="M111.0,203.0 L111.8,202.8 L112.9,202.4 L114.1,202.1 L115.5,201.7 L116.8,201.3 L118.0,201.0 L119.0,200.8 L120.0,200.6 L120.9,200.4 L121.9,200.2 L122.9,200.1 L124.0,200.0 L125.2,199.9 L126.6,199.8 L128.0,199.8 L129.4,199.7 L130.8,199.8 L132.0,200.0 L133.1,200.3 L134.2,200.7 L135.2,201.2 L136.2,201.7 L137.1,202.3 L138.0,203.0 L138.8,203.7 L139.6,204.4 L140.2,205.2 L140.9,206.1 L141.5,207.0 L142.0,208.0 L142.4,209.1 L142.7,210.3 L142.9,211.6 L143.2,212.9 L143.5,214.0 L144.0,215.0 L144.6,215.8 L145.4,216.5 L146.2,217.0 L147.1,217.5 L148.0,218.0 L149.0,218.5 L150.1,219.0 L151.3,219.4 L152.5,219.8 L153.7,220.2 L154.9,220.6 L156.0,221.0 L156.9,221.4 L157.8,221.9 L158.6,222.3 L159.3,222.6 L160.1,222.9 L161.0,223.0 L162.0,222.9 L163.0,222.7 L164.0,222.4 L165.0,222.0 L166.0,221.5 L167.0,221.0 L167.9,220.5 L168.8,219.9 L169.7,219.2 L170.5,218.6 L171.3,217.8 L172.0,217.0 L172.7,216.1 L173.5,215.1 L174.2,214.0 L174.8,212.9 L175.3,211.9 L175.5,211.0 L175.5,210.2 L175.3,209.4 L174.9,208.6 L174.4,207.9 L173.7,207.4 L173.0,207.0 L172.1,206.8 L171.0,206.9 L169.8,207.0 L168.5,207.2 L167.2,207.4 L166.0,207.5 L164.8,207.6 L163.6,207.6 L162.4,207.7 L161.2,207.7 L160.1,207.7 L159.0,207.5 L158.0,207.3 L157.1,206.9 L156.3,206.6 L155.5,206.1 L154.8,205.6 L154.0,205.0 L153.2,204.3 L152.4,203.6 L151.6,202.7 L150.9,201.8 L150.3,200.9 L150.0,200.0 L150.0,199.0 L150.3,197.9 L150.8,196.7 L151.3,195.6 L151.7,194.7 L152.0,194.0" fill="none" stroke="#b4b4b4" stroke-width="0.53" stroke-linecap="round" stroke-linejoin="round"/>
<path d="M124.0,194.0 L124.1,193.4 L124.1,192.7 L124.2,191.8 L124.4,190.8 L124.6,189.8 L125.0,189.0 L125.5,188.3 L126.1,187.5 L126.8,186.8 L127.6,186.1 L128.3,185.5 L129.0,185.0 L129.7,184.5 L130.5,184.1 L131.2,183.8 L132.0,183.4 L132.6,183.2 L133.0,183.0" fill="none" stroke="#777777" stroke-width="1.30" stroke-linecap="round" stroke-linejoin="round"/><path d="M124.0,194.0 L124.1,193.4 L124.1,192.7 L124.2,191.8 L124.4,190.8 L124.6,189.8 L125.0,189.0 L125.5,188.3 L126.1,187.5 L126.8,186.8 L127.6,186.1 L128.3,185.5 L129.0,185.0 L129.7,184.5 L130.5,184.1 L131.2,183.8 L132.0,183.4 L132.6,183.2 L133.0,183.0" fill="none" stroke="#b4b4b4" stroke-width="0.50" stroke-linecap="round" stroke-linejoin="round"/>
<path d="M174.0,202.0 L174.7,202.3 L175.6,202.9 L176.7,203.4 L177.9,204.0 L179.0,204.6 L180.0,205.0 L180.9,205.3 L181.7,205.6 L182.5,205.8 L183.3,206.0 L184.1,206.0 L185.0,206.0 L186.0,205.8 L187.1,205.5 L188.3,205.1 L189.4,204.6 L190.3,204.3 L191.0,204.0" fill="none" stroke="#777777" stroke-width="1.30" stroke-linecap="round" stroke-linejoin="round"/><path d="M174.0,202.0 L174.7,202.3 L175.6,202.9 L176.7,203.4 L177.9,204.0 L179.0,204.6 L180.0,205.0 L180.9,205.3 L181.7,205.6 L182.5,205.8 L183.3,206.0 L184.1,206.0 L185.0,206.0 L186.0,205.8 L187.1,205.5 L188.3,205.1 L189.4,204.6 L190.3,204.3 L191.0,204.0" fill="none" stroke="#b4b4b4" stroke-width="0.50" stroke-linecap="round" stroke-linejoin="round"/>
<path d="M26.0,151.0 L25.4,151.4 L24.6,152.0 L23.6,152.7 L22.6,153.4 L21.7,154.2 L21.0,155.0 L20.6,155.8 L20.4,156.6 L20.2,157.4 L20.2,158.3 L20.1,159.2 L20.0,160.0 L19.9,160.8 L19.8,161.7 L19.8,162.6 L19.6,163.4 L19.4,164.2 L19.0,165.0 L18.4,165.7 L17.6,166.4 L16.7,167.0 L15.7,167.6 L14.8,168.3 L14.0,169.0 L13.3,169.8 L12.5,170.6 L11.8,171.4 L11.1,172.2 L10.5,173.1 L10.0,174.0 L9.6,175.0 L9.2,176.0 L8.9,177.1 L8.7,178.1 L8.4,179.1 L8.0,180.0 L7.5,180.8 L7.0,181.6 L6.4,182.4 L5.8,183.0 L5.3,183.6 L5.0,184.0" fill="none" stroke="#777777" stroke-width="1.20" stroke-linecap="round" stroke-linejoin="round"/><path d="M26.0,151.0 L25.4,151.4 L24.6,152.0 L23.6,152.7 L22.6,153.4 L21.7,154.2 L21.0,155.0 L20.6,155.8 L20.4,156.6 L20.2,157.4 L20.2,158.3 L20.1,159.2 L20.0,160.0 L19.9,160.8 L19.8,161.7 L19.8,162.6 L19.6,163.4 L19.4,164.2 L19.0,165.0 L18.4,165.7 L17.6,166.4 L16.7,167.0 L15.7,167.6 L14.8,168.3 L14.0,169.0 L13.3,169.8 L12.5,170.6 L11.8,171.4 L11.1,172.2 L10.5,173.1 L10.0,174.0 L9.6,175.0 L9.2,176.0 L8.9,177.1 L8.7,178.1 L8.4,179.1 L8.0,180.0 L7.5,180.8 L7.0,181.6 L6.4,182.4 L5.8,183.0 L5.3,183.6 L5.0,184.0" fill="none" stroke="#b4b4b4" stroke-width="0.45" stroke-linecap="round" stroke-linejoin="round"/>
<path d="M18.0,140.0 L18.4,140.3 L19.0,140.9 L19.8,141.4 L20.5,142.0 L21.3,142.6 L22.0,143.0 L22.7,143.3 L23.5,143.5 L24.2,143.7 L25.0,143.8 L25.6,143.9 L26.0,144.0" fill="none" stroke="#777777" stroke-width="1.30" stroke-linecap="round" stroke-linejoin="round"/><path d="M18.0,140.0 L18.4,140.3 L19.0,140.9 L19.8,141.4 L20.5,142.0 L21.3,142.6 L22.0,143.0 L22.7,143.3 L23.5,143.5 L24.2,143.7 L25.0,143.8 L25.6,143.9 L26.0,144.0" fill="none" stroke="#b4b4b4" stroke-width="0.50" stroke-linecap="round" stroke-linejoin="round"/>
<path d="M16.0,135.0 L16.3,134.4 L16.7,133.6 L17.2,132.6 L17.7,131.6 L18.3,130.7 L19.0,130.0 L19.7,129.6 L20.6,129.3 L21.4,129.1 L22.3,129.0 L23.2,128.9 L24.0,129.0 L24.8,129.2 L25.6,129.5 L26.3,129.9 L27.0,130.4 L27.6,130.7 L28.0,131.0" fill="none" stroke="#777777" stroke-width="1.30" stroke-linecap="round" stroke-linejoin="round"/><path d="M16.0,135.0 L16.3,134.4 L16.7,133.6 L17.2,132.6 L17.7,131.6 L18.3,130.7 L19.0,130.0 L19.7,129.6 L20.6,129.3 L21.4,129.1 L22.3,129.0 L23.2,128.9 L24.0,129.0 L24.8,129.2 L25.6,129.5 L26.3,129.9 L27.0,130.4 L27.6,130.7 L28.0,131.0" fill="none" stroke="#b4b4b4" stroke-width="0.50" stroke-linecap="round" stroke-linejoin="round"/>
<path d="M19.0,130.0 L19.4,129.9 L20.0,129.7 L20.8,129.4 L21.5,129.2 L22.3,129.1 L23.0,129.0 L23.7,129.1 L24.5,129.2 L25.2,129.4 L26.0,129.7 L26.6,129.9 L27.0,130.0" fill="none" stroke="#c010c0" stroke-width="1.40" stroke-linecap="round" stroke-linejoin="round"/><path d="M19.0,130.0 L19.4,129.9 L20.0,129.7 L20.8,129.4 L21.5,129.2 L22.3,129.1 L23.0,129.0 L23.7,129.1 L24.5,129.2 L25.2,129.4 L26.0,129.7 L26.6,129.9 L27.0,130.0" fill="none" stroke="#f040f0" stroke-width="0.55" stroke-linecap="round" stroke-linejoin="round"/>
<path d="M16.0,135.0 L16.0,135.6 L15.9,136.4 L15.9,137.3 L15.9,138.3 L15.9,139.2 L16.0,140.0 L16.2,140.7 L16.6,141.3 L17.0,141.8 L17.4,142.3 L17.8,142.7 L18.0,143.0" fill="none" stroke="#777777" stroke-width="1.30" stroke-linecap="round" stroke-linejoin="round"/><path d="M16.0,135.0 L16.0,135.6 L15.9,136.4 L15.9,137.3 L15.9,138.3 L15.9,139.2 L16.0,140.0 L16.2,140.7 L16.6,141.3 L17.0,141.8 L17.4,142.3 L17.8,142.7 L18.0,143.0" fill="none" stroke="#b4b4b4" stroke-width="0.50" stroke-linecap="round" stroke-linejoin="round"/>
<path d="M27.0,150.0 L27.3,149.9 L27.8,149.7 L28.3,149.4 L28.9,149.2 L29.5,149.1 L30.0,149.0 L30.5,149.1 L31.1,149.2 L31.7,149.4 L32.2,149.7 L32.7,149.9 L33.0,150.0" fill="none" stroke="#777777" stroke-width="1.30" stroke-linecap="round" stroke-linejoin="round"/><path d="M27.0,150.0 L27.3,149.9 L27.8,149.7 L28.3,149.4 L28.9,149.2 L29.5,149.1 L30.0,149.0 L30.5,149.1 L31.1,149.2 L31.7,149.4 L32.2,149.7 L32.7,149.9 L33.0,150.0" fill="none" stroke="#b4b4b4" stroke-width="0.50" stroke-linecap="round" stroke-linejoin="round"/>
<path d="M32.0,121.0 L32.4,120.6 L33.0,120.1 L33.8,119.5 L34.5,118.9 L35.3,118.4 L36.0,118.0 L36.7,117.8 L37.3,117.7 L38.0,117.8 L38.7,117.8 L39.3,117.9 L40.0,118.0 L40.7,118.1 L41.5,118.3 L42.2,118.5 L43.0,118.7 L43.6,118.9 L44.0,119.0" fill="none" stroke="#777777" stroke-width="1.30" stroke-linecap="round" stroke-linejoin="round"/><path d="M32.0,121.0 L32.4,120.6 L33.0,120.1 L33.8,119.5 L34.5,118.9 L35.3,118.4 L36.0,118.0 L36.7,117.8 L37.3,117.7 L38.0,117.8 L38.7,117.8 L39.3,117.9 L40.0,118.0 L40.7,118.1 L41.5,118.3 L42.2,118.5 L43.0,118.7 L43.6,118.9 L44.0,119.0" fill="none" stroke="#b4b4b4" stroke-width="0.50" stroke-linecap="round" stroke-linejoin="round"/>
<path d="M32.0,121.0 L32.1,121.7 L32.2,122.6 L32.3,123.8 L32.5,124.9 L32.7,126.0 L33.0,127.0 L33.4,127.8 L33.8,128.6 L34.3,129.2 L34.9,129.9 L35.4,130.5 L36.0,131.0 L36.7,131.5 L37.4,131.9 L38.2,132.2 L38.9,132.6 L39.6,132.8 L40.0,133.0" fill="none" stroke="#777777" stroke-width="1.30" stroke-linecap="round" stroke-linejoin="round"/><path d="M32.0,121.0 L32.1,121.7 L32.2,122.6 L32.3,123.8 L32.5,124.9 L32.7,126.0 L33.0,127.0 L33.4,127.8 L33.8,128.6 L34.3,129.2 L34.9,129.9 L35.4,130.5 L36.0,131.0 L36.7,131.5 L37.4,131.9 L38.2,132.2 L38.9,132.6 L39.6,132.8 L40.0,133.0" fill="none" stroke="#b4b4b4" stroke-width="0.50" stroke-linecap="round" stroke-linejoin="round"/>
<path d="M40.0,160.0 L40.4,160.2 L41.0,160.6 L41.8,161.0 L42.5,161.4 L43.3,161.8 L44.0,162.0 L44.7,162.1 L45.5,162.1 L46.2,162.1 L47.0,162.1 L47.6,162.0 L48.0,162.0" fill="none" stroke="#777777" stroke-width="1.30" stroke-linecap="round" stroke-linejoin="round"/><path d="M40.0,160.0 L40.4,160.2 L41.0,160.6 L41.8,161.0 L42.5,161.4 L43.3,161.8 L44.0,162.0 L44.7,162.1 L45.5,162.1 L46.2,162.1 L47.0,162.1 L47.6,162.0 L48.0,162.0" fill="none" stroke="#b4b4b4" stroke-width="0.50" stroke-linecap="round" stroke-linejoin="round"/>
<path d="M47.0,162.0 L47.4,161.8 L48.0,161.4 L48.8,161.1 L49.5,160.7 L50.3,160.3 L51.0,160.0 L51.7,159.8 L52.3,159.5 L52.9,159.3 L53.6,159.1 L54.3,159.0 L55.0,159.0 L55.8,159.0 L56.6,159.1 L57.5,159.2 L58.4,159.4 L59.2,159.7 L60.0,160.0 L60.7,160.4 L61.4,160.8 L62.1,161.2 L62.7,161.8 L63.3,162.4 L64.0,163.0 L64.7,163.8 L65.5,164.7 L66.2,165.7 L67.0,166.6 L67.6,167.4 L68.0,168.0" fill="none" stroke="#c010c0" stroke-width="1.50" stroke-linecap="round" stroke-linejoin="round"/><path d="M47.0,162.0 L47.4,161.8 L48.0,161.4 L48.8,161.1 L49.5,160.7 L50.3,160.3 L51.0,160.0 L51.7,159.8 L52.3,159.5 L52.9,159.3 L53.6,159.1 L54.3,159.0 L55.0,159.0 L55.8,159.0 L56.6,159.1 L57.5,159.2 L58.4,159.4 L59.2,159.7 L60.0,160.0 L60.7,160.4 L61.4,160.8 L62.1,161.2 L62.7,161.8 L63.3,162.4 L64.0,163.0 L64.7,163.8 L65.5,164.7 L66.2,165.7 L67.0,166.6 L67.6,167.4 L68.0,168.0" fill="none" stroke="#f040f0" stroke-width="0.60" stroke-linecap="round" stroke-linejoin="round"/>
<path d="M76.0,92.0 L75.1,92.0 L73.9,92.1 L72.5,92.2 L71.0,92.2 L69.4,92.4 L68.0,92.5 L66.6,92.7 L65.3,92.9 L63.9,93.1 L62.5,93.4 L61.2,93.7 L60.0,94.0 L58.8,94.3 L57.7,94.7 L56.6,95.1 L55.6,95.5 L54.7,96.0 L54.0,96.5 L53.5,97.1 L53.1,97.7 L52.9,98.4 L52.8,99.1 L52.8,99.8 L53.0,100.5 L53.3,101.2 L53.9,102.0 L54.5,102.8 L55.3,103.6 L56.1,104.3 L57.0,105.0 L58.0,105.6 L59.1,106.2 L60.3,106.7 L61.6,107.2 L62.8,107.6 L64.0,108.0 L65.2,108.3 L66.6,108.5 L67.9,108.7 L69.2,108.8 L70.2,108.9 L71.0,109.0" fill="none" stroke="#777777" stroke-width="1.30" stroke-linecap="round" stroke-linejoin="round"/><path d="M76.0,92.0 L75.1,92.0 L73.9,92.1 L72.5,92.2 L71.0,92.2 L69.4,92.4 L68.0,92.5 L66.6,92.7 L65.3,92.9 L63.9,93.1 L62.5,93.4 L61.2,93.7 L60.0,94.0 L58.8,94.3 L57.7,94.7 L56.6,95.1 L55.6,95.5 L54.7,96.0 L54.0,96.5 L53.5,97.1 L53.1,97.7 L52.9,98.4 L52.8,99.1 L52.8,99.8 L53.0,100.5 L53.3,101.2 L53.9,102.0 L54.5,102.8 L55.3,103.6 L56.1,104.3 L57.0,105.0 L58.0,105.6 L59.1,106.2 L60.3,106.7 L61.6,107.2 L62.8,107.6 L64.0,108.0 L65.2,108.3 L66.6,108.5 L67.9,108.7 L69.2,108.8 L70.2,108.9 L71.0,109.0" fill="none" stroke="#b4b4b4" stroke-width="0.50" stroke-linecap="round" stroke-linejoin="round"/>
<path d="M70.0,205.0 L70.2,205.8 L70.4,207.0 L70.6,208.3 L71.0,209.7 L71.4,211.0 L72.0,212.0 L72.7,212.8 L73.6,213.4 L74.5,213.9 L75.6,214.4 L76.7,214.7 L78.0,215.0 L79.5,215.2 L81.2,215.3 L83.0,215.3 L84.8,215.3 L86.5,215.2 L88.0,215.0 L89.3,214.8 L90.4,214.6 L91.5,214.4 L92.4,214.0 L93.3,213.6 L94.0,213.0 L94.6,212.2 L95.0,211.1 L95.4,209.9 L95.6,208.7 L95.8,207.7 L96.0,207.0" fill="none" stroke="#777777" stroke-width="1.30" stroke-linecap="round" stroke-linejoin="round"/><path d="M70.0,205.0 L70.2,205.8 L70.4,207.0 L70.6,208.3 L71.0,209.7 L71.4,211.0 L72.0,212.0 L72.7,212.8 L73.6,213.4 L74.5,213.9 L75.6,214.4 L76.7,214.7 L78.0,215.0 L79.5,215.2 L81.2,215.3 L83.0,215.3 L84.8,215.3 L86.5,215.2 L88.0,215.0 L89.3,214.8 L90.4,214.6 L91.5,214.4 L92.4,214.0 L93.3,213.6 L94.0,213.0 L94.6,212.2 L95.0,211.1 L95.4,209.9 L95.6,208.7 L95.8,207.7 L96.0,207.0" fill="none" stroke="#b4b4b4" stroke-width="0.50" stroke-linecap="round" stroke-linejoin="round"/>
<path d="M91.0,82.0 L91.7,81.9 L92.6,81.7 L93.6,81.5 L94.8,81.3 L95.9,81.1 L97.0,81.0 L98.0,81.0 L99.0,81.0 L100.1,81.0 L101.1,81.0 L102.1,81.0 L103.0,81.0 L103.9,80.9 L104.9,80.7 L105.9,80.5 L106.7,80.3 L107.5,80.1 L108.0,80.0" fill="none" stroke="#777777" stroke-width="1.40" stroke-linecap="round" stroke-linejoin="round"/><path d="M91.0,82.0 L91.7,81.9 L92.6,81.7 L93.6,81.5 L94.8,81.3 L95.9,81.1 L97.0,81.0 L98.0,81.0 L99.0,81.0 L100.1,81.0 L101.1,81.0 L102.1,81.0 L103.0,81.0 L103.9,80.9 L104.9,80.7 L105.9,80.5 L106.7,80.3 L107.5,80.1 L108.0,80.0" fill="none" stroke="#b4b4b4" stroke-width="0.55" stroke-linecap="round" stroke-linejoin="round"/>
<path d="M121.0,63.0 L121.2,63.5 L121.5,64.3 L121.9,65.1 L122.3,66.1 L122.6,67.1 L123.0,68.0 L123.3,69.0 L123.6,70.3 L123.8,71.5 L124.1,72.6 L124.5,73.5 L125.0,74.0 L125.7,74.0 L126.5,73.7 L127.4,73.1 L128.3,72.4 L129.2,71.7 L130.0,71.0 L130.7,70.4 L131.4,69.7 L132.1,68.9 L132.7,68.2 L133.3,67.6 L134.0,67.0 L134.7,66.5 L135.3,66.1 L135.9,65.8 L136.6,65.5 L137.3,65.3 L138.0,65.0 L138.8,64.7 L139.6,64.4 L140.4,64.1 L141.3,63.9 L142.2,63.9 L143.0,64.0 L143.9,64.4 L144.7,65.0 L145.6,65.8 L146.5,66.6 L147.3,67.4 L148.0,68.0 L148.7,68.5 L149.4,68.9 L150.1,69.2 L150.6,69.5 L150.9,69.7 L151.0,70.0 L150.7,70.2 L150.0,70.4 L149.2,70.6 L148.3,70.8 L147.5,70.9 L147.0,71.0" fill="none" stroke="#777777" stroke-width="1.30" stroke-linecap="round" stroke-linejoin="round"/><path d="M121.0,63.0 L121.2,63.5 L121.5,64.3 L121.9,65.1 L122.3,66.1 L122.6,67.1 L123.0,68.0 L123.3,69.0 L123.6,70.3 L123.8,71.5 L124.1,72.6 L124.5,73.5 L125.0,74.0 L125.7,74.0 L126.5,73.7 L127.4,73.1 L128.3,72.4 L129.2,71.7 L130.0,71.0 L130.7,70.4 L131.4,69.7 L132.1,68.9 L132.7,68.2 L133.3,67.6 L134.0,67.0 L134.7,66.5 L135.3,66.1 L135.9,65.8 L136.6,65.5 L137.3,65.3 L138.0,65.0 L138.8,64.7 L139.6,64.4 L140.4,64.1 L141.3,63.9 L142.2,63.9 L143.0,64.0 L143.9,64.4 L144.7,65.0 L145.6,65.8 L146.5,66.6 L147.3,67.4 L148.0,68.0 L148.7,68.5 L149.4,68.9 L150.1,69.2 L150.6,69.5 L150.9,69.7 L151.0,70.0 L150.7,70.2 L150.0,70.4 L149.2,70.6 L148.3,70.8 L147.5,70.9 L147.0,71.0" fill="none" stroke="#b4b4b4" stroke-width="0.50" stroke-linecap="round" stroke-linejoin="round"/>
<path d="M150.0,72.0 L153.0,76.0" fill="none" stroke="#777777" stroke-width="1.30" stroke-linecap="round" stroke-linejoin="round"/><path d="M150.0,72.0 L153.0,76.0" fill="none" stroke="#b4b4b4" stroke-width="0.50" stroke-linecap="round" stroke-linejoin="round"/>
<path d="M122.0,80.0 L122.2,80.7 L122.6,81.6 L123.0,82.8 L123.4,83.9 L123.8,85.0 L124.0,86.0 L124.1,86.8 L124.1,87.6 L124.1,88.4 L124.1,89.0 L124.0,89.6 L124.0,90.0" fill="none" stroke="#777777" stroke-width="1.30" stroke-linecap="round" stroke-linejoin="round"/><path d="M122.0,80.0 L122.2,80.7 L122.6,81.6 L123.0,82.8 L123.4,83.9 L123.8,85.0 L124.0,86.0 L124.1,86.8 L124.1,87.6 L124.1,88.4 L124.1,89.0 L124.0,89.6 L124.0,90.0" fill="none" stroke="#b4b4b4" stroke-width="0.50" stroke-linecap="round" stroke-linejoin="round"/>
<path d="M126.0,92.0 L126.6,91.7 L127.5,91.3 L128.5,90.9 L129.6,90.4 L130.8,90.1 L132.0,90.0 L133.2,90.1 L134.4,90.4 L135.8,90.8 L137.1,91.2 L138.5,91.6 L140.0,92.0 L141.6,92.3 L143.3,92.7 L145.0,93.1 L146.7,93.4 L148.4,93.7 L150.0,94.0 L151.4,94.2 L152.8,94.4 L154.1,94.6 L155.4,94.7 L156.7,94.8 L158.0,95.0 L159.4,95.2 L161.0,95.4 L162.5,95.6 L163.9,95.7 L165.1,95.9 L166.0,96.0" fill="none" stroke="#777777" stroke-width="1.30" stroke-linecap="round" stroke-linejoin="round"/><path d="M126.0,92.0 L126.6,91.7 L127.5,91.3 L128.5,90.9 L129.6,90.4 L130.8,90.1 L132.0,90.0 L133.2,90.1 L134.4,90.4 L135.8,90.8 L137.1,91.2 L138.5,91.6 L140.0,92.0 L141.6,92.3 L143.3,92.7 L145.0,93.1 L146.7,93.4 L148.4,93.7 L150.0,94.0 L151.4,94.2 L152.8,94.4 L154.1,94.6 L155.4,94.7 L156.7,94.8 L158.0,95.0 L159.4,95.2 L161.0,95.4 L162.5,95.6 L163.9,95.7 L165.1,95.9 L166.0,96.0" fill="none" stroke="#b4b4b4" stroke-width="0.50" stroke-linecap="round" stroke-linejoin="round"/>
<circle cx="131" cy="98" r="5" fill="none" stroke="#8a8a8a" stroke-width="1.2"/>
<circle cx="131" cy="98" r="5" fill="none" stroke="#c0c0c0" stroke-width="0.5"/>
<circle cx="172" cy="87" r="6.5" fill="none" stroke="#7a7a7a" stroke-width="1.8"/>
<circle cx="172" cy="87" r="6.5" fill="none" stroke="#c4c4c4" stroke-width="0.8"/>
<path d="M166.0,96.0 L166.7,96.3 L167.6,96.7 L168.6,97.2 L169.8,97.6 L170.9,97.9 L172.0,98.0 L173.0,97.8 L174.0,97.4 L175.1,96.8 L176.1,96.2 L177.1,95.6 L178.0,95.0 L178.9,94.5 L179.9,93.9 L180.9,93.3 L181.7,92.8 L182.5,92.3 L183.0,92.0" fill="none" stroke="#777777" stroke-width="1.40" stroke-linecap="round" stroke-linejoin="round"/><path d="M166.0,96.0 L166.7,96.3 L167.6,96.7 L168.6,97.2 L169.8,97.6 L170.9,97.9 L172.0,98.0 L173.0,97.8 L174.0,97.4 L175.1,96.8 L176.1,96.2 L177.1,95.6 L178.0,95.0 L178.9,94.5 L179.9,93.9 L180.9,93.3 L181.7,92.8 L182.5,92.3 L183.0,92.0" fill="none" stroke="#b4b4b4" stroke-width="0.55" stroke-linecap="round" stroke-linejoin="round"/>
<path d="M160.0,104.0 L160.7,103.5 L161.6,102.8 L162.6,102.0 L163.8,101.2 L164.9,100.5 L166.0,100.0 L167.0,99.8 L168.0,99.7 L169.0,99.7 L170.0,99.8 L171.0,99.9 L172.0,100.0 L173.1,100.1 L174.2,100.3 L175.4,100.5 L176.4,100.7 L177.3,100.9 L178.0,101.0" fill="none" stroke="#777777" stroke-width="1.40" stroke-linecap="round" stroke-linejoin="round"/><path d="M160.0,104.0 L160.7,103.5 L161.6,102.8 L162.6,102.0 L163.8,101.2 L164.9,100.5 L166.0,100.0 L167.0,99.8 L168.0,99.7 L169.0,99.7 L170.0,99.8 L171.0,99.9 L172.0,100.0 L173.1,100.1 L174.2,100.3 L175.4,100.5 L176.4,100.7 L177.3,100.9 L178.0,101.0" fill="none" stroke="#b4b4b4" stroke-width="0.55" stroke-linecap="round" stroke-linejoin="round"/>
<path d="M184.0,92.0 L184.1,91.3 L184.1,90.4 L184.2,89.2 L184.4,88.1 L184.6,87.0 L185.0,86.0 L185.5,85.2 L186.1,84.4 L186.8,83.6 L187.5,83.0 L188.2,82.4 L189.0,82.0 L189.8,81.8 L190.8,81.7 L191.8,81.8 L192.7,81.9 L193.4,82.0 L194.0,82.0" fill="none" stroke="#12129a" stroke-width="1.60" stroke-linecap="round" stroke-linejoin="round"/><path d="M184.0,92.0 L184.1,91.3 L184.1,90.4 L184.2,89.2 L184.4,88.1 L184.6,87.0 L185.0,86.0 L185.5,85.2 L186.1,84.4 L186.8,83.6 L187.5,83.0 L188.2,82.4 L189.0,82.0 L189.8,81.8 L190.8,81.7 L191.8,81.8 L192.7,81.9 L193.4,82.0 L194.0,82.0" fill="none" stroke="#2a2ae8" stroke-width="0.65" stroke-linecap="round" stroke-linejoin="round"/>
<path d="M194.0,82.0 L194.5,82.2 L195.1,82.4 L195.9,82.8 L196.7,83.1 L197.4,83.5 L198.0,84.0 L198.5,84.6 L198.9,85.3 L199.2,86.1 L199.6,86.9 L199.8,87.5 L200.0,88.0" fill="none" stroke="#777777" stroke-width="1.40" stroke-linecap="round" stroke-linejoin="round"/><path d="M194.0,82.0 L194.5,82.2 L195.1,82.4 L195.9,82.8 L196.7,83.1 L197.4,83.5 L198.0,84.0 L198.5,84.6 L198.9,85.3 L199.2,86.1 L199.6,86.9 L199.8,87.5 L200.0,88.0" fill="none" stroke="#b4b4b4" stroke-width="0.55" stroke-linecap="round" stroke-linejoin="round"/>
<path d="M216.0,74.0 L216.1,73.4 L216.2,72.6 L216.3,71.7 L216.5,70.7 L216.7,69.8 L217.0,69.0 L217.4,68.3 L217.8,67.7 L218.3,67.2 L218.9,66.7 L219.4,66.3 L220.0,66.0 L220.6,65.8 L221.3,65.7 L222.1,65.7 L222.8,65.7 L223.4,65.8 L224.0,66.0 L224.5,66.2 L225.0,66.4 L225.4,66.8 L225.8,67.1 L226.0,67.5 L226.0,68.0 L225.8,68.6 L225.3,69.2 L224.7,69.9 L224.0,70.6 L223.4,71.3 L223.0,72.0 L222.7,72.7 L222.4,73.4 L222.1,74.1 L222.0,74.7 L221.9,75.4 L222.0,76.0 L222.2,76.5 L222.6,77.0 L223.0,77.5 L223.6,78.0 L224.2,78.5 L225.0,79.0 L226.0,79.7 L227.3,80.4 L228.7,81.2 L230.0,81.9 L231.2,82.6 L232.0,83.0" fill="none" stroke="#777777" stroke-width="1.40" stroke-linecap="round" stroke-linejoin="round"/><path d="M216.0,74.0 L216.1,73.4 L216.2,72.6 L216.3,71.7 L216.5,70.7 L216.7,69.8 L217.0,69.0 L217.4,68.3 L217.8,67.7 L218.3,67.2 L218.9,66.7 L219.4,66.3 L220.0,66.0 L220.6,65.8 L221.3,65.7 L222.1,65.7 L222.8,65.7 L223.4,65.8 L224.0,66.0 L224.5,66.2 L225.0,66.4 L225.4,66.8 L225.8,67.1 L226.0,67.5 L226.0,68.0 L225.8,68.6 L225.3,69.2 L224.7,69.9 L224.0,70.6 L223.4,71.3 L223.0,72.0 L222.7,72.7 L222.4,73.4 L222.1,74.1 L222.0,74.7 L221.9,75.4 L222.0,76.0 L222.2,76.5 L222.6,77.0 L223.0,77.5 L223.6,78.0 L224.2,78.5 L225.0,79.0 L226.0,79.7 L227.3,80.4 L228.7,81.2 L230.0,81.9 L231.2,82.6 L232.0,83.0" fill="none" stroke="#b4b4b4" stroke-width="0.55" stroke-linecap="round" stroke-linejoin="round"/>
<path d="M218.0,67.0 L218.3,66.8 L218.8,66.5 L219.3,66.2 L219.9,65.9 L220.5,65.7 L221.0,65.5 L221.5,65.5 L222.0,65.5 L222.6,65.5 L223.1,65.6 L223.6,65.8 L224.0,66.0 L224.4,66.3 L224.8,66.6 L225.2,67.0 L225.5,67.4 L225.8,67.8 L226.0,68.0" fill="none" stroke="#12129a" stroke-width="1.60" stroke-linecap="round" stroke-linejoin="round"/><path d="M218.0,67.0 L218.3,66.8 L218.8,66.5 L219.3,66.2 L219.9,65.9 L220.5,65.7 L221.0,65.5 L221.5,65.5 L222.0,65.5 L222.6,65.5 L223.1,65.6 L223.6,65.8 L224.0,66.0 L224.4,66.3 L224.8,66.6 L225.2,67.0 L225.5,67.4 L225.8,67.8 L226.0,68.0" fill="none" stroke="#2a2ae8" stroke-width="0.65" stroke-linecap="round" stroke-linejoin="round"/>
<path d="M243.0,77.0 L243.5,76.7 L244.3,76.2 L245.2,75.7 L246.1,75.2 L247.1,74.8 L248.0,74.5 L248.8,74.4 L249.7,74.4 L250.6,74.4 L251.4,74.5 L252.2,74.7 L253.0,75.0 L253.7,75.3 L254.5,75.7 L255.2,76.2 L255.9,76.7 L256.5,77.3 L257.0,78.0 L257.5,78.8 L257.9,79.8 L258.2,80.8 L258.5,81.9 L258.7,83.0 L259.0,84.0 L259.2,85.0 L259.5,86.0 L259.7,87.0 L259.9,88.0 L260.0,89.0 L260.0,90.0 L260.0,91.0 L259.9,92.1 L259.8,93.1 L259.6,94.1 L259.3,95.1 L259.0,96.0 L258.6,96.8 L258.0,97.6 L257.4,98.4 L256.9,99.0 L256.3,99.6 L256.0,100.0" fill="none" stroke="#777777" stroke-width="1.40" stroke-linecap="round" stroke-linejoin="round"/><path d="M243.0,77.0 L243.5,76.7 L244.3,76.2 L245.2,75.7 L246.1,75.2 L247.1,74.8 L248.0,74.5 L248.8,74.4 L249.7,74.4 L250.6,74.4 L251.4,74.5 L252.2,74.7 L253.0,75.0 L253.7,75.3 L254.5,75.7 L255.2,76.2 L255.9,76.7 L256.5,77.3 L257.0,78.0 L257.5,78.8 L257.9,79.8 L258.2,80.8 L258.5,81.9 L258.7,83.0 L259.0,84.0 L259.2,85.0 L259.5,86.0 L259.7,87.0 L259.9,88.0 L260.0,89.0 L260.0,90.0 L260.0,91.0 L259.9,92.1 L259.8,93.1 L259.6,94.1 L259.3,95.1 L259.0,96.0 L258.6,96.8 L258.0,97.6 L257.4,98.4 L256.9,99.0 L256.3,99.6 L256.0,100.0" fill="none" stroke="#b4b4b4" stroke-width="0.55" stroke-linecap="round" stroke-linejoin="round"/>
<path d="M256.0,92.0 L256.3,92.3 L256.9,92.7 L257.4,93.2 L258.0,93.8 L258.6,94.4 L259.0,95.0 L259.3,95.7 L259.5,96.4 L259.7,97.2 L259.8,97.9 L259.9,98.6 L260.0,99.0" fill="none" stroke="#c010c0" stroke-width="1.60" stroke-linecap="round" stroke-linejoin="round"/><path d="M256.0,92.0 L256.3,92.3 L256.9,92.7 L257.4,93.2 L258.0,93.8 L258.6,94.4 L259.0,95.0 L259.3,95.7 L259.5,96.4 L259.7,97.2 L259.8,97.9 L259.9,98.6 L260.0,99.0" fill="none" stroke="#f040f0" stroke-width="0.65" stroke-linecap="round" stroke-linejoin="round"/>
<path d="M242.0,103.0 L242.7,102.7 L243.6,102.4 L244.6,101.9 L245.8,101.5 L246.9,101.2 L248.0,101.0 L249.0,101.0 L250.1,101.0 L251.1,101.1 L252.1,101.3 L253.1,101.6 L254.0,102.0 L254.9,102.5 L255.7,103.0 L256.5,103.7 L257.2,104.4 L257.7,105.2 L258.0,106.0 L258.0,107.0 L257.7,108.1 L257.2,109.2 L256.7,110.4 L256.3,111.3 L256.0,112.0" fill="none" stroke="#777777" stroke-width="1.30" stroke-linecap="round" stroke-linejoin="round"/><path d="M242.0,103.0 L242.7,102.7 L243.6,102.4 L244.6,101.9 L245.8,101.5 L246.9,101.2 L248.0,101.0 L249.0,101.0 L250.1,101.0 L251.1,101.1 L252.1,101.3 L253.1,101.6 L254.0,102.0 L254.9,102.5 L255.7,103.0 L256.5,103.7 L257.2,104.4 L257.7,105.2 L258.0,106.0 L258.0,107.0 L257.7,108.1 L257.2,109.2 L256.7,110.4 L256.3,111.3 L256.0,112.0" fill="none" stroke="#b4b4b4" stroke-width="0.50" stroke-linecap="round" stroke-linejoin="round"/>
<path d="M246.0,116.0 L246.7,116.3 L247.6,116.7 L248.6,117.2 L249.8,117.6 L250.9,117.9 L252.0,118.0 L253.1,117.8 L254.2,117.3 L255.4,116.6 L256.4,116.0 L257.3,115.4 L258.0,115.0" fill="none" stroke="#777777" stroke-width="1.30" stroke-linecap="round" stroke-linejoin="round"/><path d="M246.0,116.0 L246.7,116.3 L247.6,116.7 L248.6,117.2 L249.8,117.6 L250.9,117.9 L252.0,118.0 L253.1,117.8 L254.2,117.3 L255.4,116.6 L256.4,116.0 L257.3,115.4 L258.0,115.0" fill="none" stroke="#b4b4b4" stroke-width="0.50" stroke-linecap="round" stroke-linejoin="round"/>
<path d="M221.0,172.0 L221.6,172.5 L222.3,173.1 L223.2,173.9 L224.2,174.7 L225.2,175.4 L226.0,176.0 L226.8,176.5 L227.6,176.9 L228.3,177.2 L229.0,177.6 L229.6,177.8 L230.0,178.0" fill="none" stroke="#777777" stroke-width="1.30" stroke-linecap="round" stroke-linejoin="round"/><path d="M221.0,172.0 L221.6,172.5 L222.3,173.1 L223.2,173.9 L224.2,174.7 L225.2,175.4 L226.0,176.0 L226.8,176.5 L227.6,176.9 L228.3,177.2 L229.0,177.6 L229.6,177.8 L230.0,178.0" fill="none" stroke="#b4b4b4" stroke-width="0.50" stroke-linecap="round" stroke-linejoin="round"/>
<path d="M230.0,152.0 L230.3,151.3 L230.7,150.4 L231.2,149.2 L231.8,148.0 L232.4,146.9 L233.0,146.0 L233.6,145.2 L234.2,144.6 L234.8,143.9 L235.4,143.4 L236.2,142.9 L237.0,142.5 L238.0,142.1 L239.0,141.9 L240.2,141.6 L241.4,141.5 L242.5,141.4 L243.7,141.4 L244.9,141.5 L246.2,141.6 L247.5,141.8 L248.7,142.0 L249.7,142.4 L250.5,142.8 L251.0,143.3 L251.2,144.0 L251.3,144.7 L251.3,145.5 L251.1,146.3 L251.0,147.0 L250.8,147.7 L250.6,148.4 L250.3,149.2 L249.9,149.9 L249.5,150.5 L249.0,151.0 L248.4,151.4 L247.8,151.8 L247.1,152.1 L246.4,152.3 L245.7,152.4 L245.0,152.4 L244.3,152.2 L243.5,151.8 L242.8,151.3 L242.0,150.8 L241.4,150.3 L241.0,150.0" fill="none" stroke="#5e5e5e" stroke-width="1.40" stroke-linecap="round" stroke-linejoin="round"/><path d="M230.0,152.0 L230.3,151.3 L230.7,150.4 L231.2,149.2 L231.8,148.0 L232.4,146.9 L233.0,146.0 L233.6,145.2 L234.2,144.6 L234.8,143.9 L235.4,143.4 L236.2,142.9 L237.0,142.5 L238.0,142.1 L239.0,141.9 L240.2,141.6 L241.4,141.5 L242.5,141.4 L243.7,141.4 L244.9,141.5 L246.2,141.6 L247.5,141.8 L248.7,142.0 L249.7,142.4 L250.5,142.8 L251.0,143.3 L251.2,144.0 L251.3,144.7 L251.3,145.5 L251.1,146.3 L251.0,147.0 L250.8,147.7 L250.6,148.4 L250.3,149.2 L249.9,149.9 L249.5,150.5 L249.0,151.0 L248.4,151.4 L247.8,151.8 L247.1,152.1 L246.4,152.3 L245.7,152.4 L245.0,152.4 L244.3,152.2 L243.5,151.8 L242.8,151.3 L242.0,150.8 L241.4,150.3 L241.0,150.0" fill="none" stroke="#aaaaaa" stroke-width="0.55" stroke-linecap="round" stroke-linejoin="round"/>
<path d="M250.0,149.0 L249.7,149.4 L249.3,150.0 L248.8,150.6 L248.2,151.3 L247.6,151.8 L247.0,152.2 L246.3,152.3 L245.6,152.3 L244.8,152.1 L244.1,151.9 L243.4,151.7 L243.0,151.6" fill="none" stroke="#12129a" stroke-width="1.50" stroke-linecap="round" stroke-linejoin="round"/><path d="M250.0,149.0 L249.7,149.4 L249.3,150.0 L248.8,150.6 L248.2,151.3 L247.6,151.8 L247.0,152.2 L246.3,152.3 L245.6,152.3 L244.8,152.1 L244.1,151.9 L243.4,151.7 L243.0,151.6" fill="none" stroke="#2a2ae8" stroke-width="0.60" stroke-linecap="round" stroke-linejoin="round"/>
<path d="M252.0,145.5 L258.0,143.0 L265.6,141.4" fill="none" stroke="#7a7a7a" stroke-width="0.9" stroke-linecap="round" stroke-linejoin="round"/>
<path d="M257.4,141.0 L257.4,155.0" fill="none" stroke="#7a7a7a" stroke-width="0.9" stroke-linecap="round" stroke-linejoin="round"/>
<path d="M264.0,141.0 L264.4,153.7" fill="none" stroke="#7a7a7a" stroke-width="0.9" stroke-linecap="round" stroke-linejoin="round"/>
<path d="M253.0,147.5 L264.0,145.5" fill="none" stroke="#7a7a7a" stroke-width="0.9" stroke-linecap="round" stroke-linejoin="round"/>
<path d="M230.0,182.5 L230.4,182.1 L231.0,181.5 L231.8,180.9 L232.5,180.2 L233.3,179.5 L234.0,179.0 L234.6,178.6 L235.3,178.3 L235.9,178.0 L236.5,177.7 L237.2,177.4 L238.0,177.0 L238.9,176.5 L239.9,175.8 L240.9,175.1 L242.0,174.5 L242.9,174.1 L243.7,174.0 L244.3,174.2 L244.8,174.8 L245.2,175.5 L245.6,176.3 L246.0,177.2 L246.4,178.0 L246.8,178.8 L247.2,179.7 L247.6,180.6 L248.0,181.5 L248.5,182.3 L249.0,183.0 L249.6,183.5 L250.2,184.0 L250.9,184.4 L251.6,184.7 L252.3,184.9 L253.0,185.0 L253.7,185.0 L254.5,185.0 L255.2,184.8 L256.0,184.6 L256.7,184.3 L257.4,184.0 L258.1,183.6 L258.7,183.1 L259.3,182.6 L259.9,182.0 L260.4,181.5 L261.0,181.0 L261.6,180.5 L262.2,180.0 L262.7,179.5 L263.2,179.1 L263.7,178.7 L264.0,178.4" fill="none" stroke="#777777" stroke-width="1.40" stroke-linecap="round" stroke-linejoin="round"/><path d="M230.0,182.5 L230.4,182.1 L231.0,181.5 L231.8,180.9 L232.5,180.2 L233.3,179.5 L234.0,179.0 L234.6,178.6 L235.3,178.3 L235.9,178.0 L236.5,177.7 L237.2,177.4 L238.0,177.0 L238.9,176.5 L239.9,175.8 L240.9,175.1 L242.0,174.5 L242.9,174.1 L243.7,174.0 L244.3,174.2 L244.8,174.8 L245.2,175.5 L245.6,176.3 L246.0,177.2 L246.4,178.0 L246.8,178.8 L247.2,179.7 L247.6,180.6 L248.0,181.5 L248.5,182.3 L249.0,183.0 L249.6,183.5 L250.2,184.0 L250.9,184.4 L251.6,184.7 L252.3,184.9 L253.0,185.0 L253.7,185.0 L254.5,185.0 L255.2,184.8 L256.0,184.6 L256.7,184.3 L257.4,184.0 L258.1,183.6 L258.7,183.1 L259.3,182.6 L259.9,182.0 L260.4,181.5 L261.0,181.0 L261.6,180.5 L262.2,180.0 L262.7,179.5 L263.2,179.1 L263.7,178.7 L264.0,178.4" fill="none" stroke="#b4b4b4" stroke-width="0.55" stroke-linecap="round" stroke-linejoin="round"/>
<path d="M230.0,188.0 L230.7,187.4 L231.6,186.6 L232.7,185.7 L233.9,184.7 L235.0,183.8 L236.0,183.0 L236.9,182.3 L237.8,181.6 L238.7,181.0 L239.5,180.5 L240.3,180.1 L241.0,180.0 L241.6,180.1 L242.2,180.5 L242.7,181.1 L243.1,181.7 L243.6,182.4 L244.0,183.0 L244.4,183.6 L244.8,184.2 L245.2,184.9 L245.5,185.5 L245.9,186.1 L246.4,186.6 L246.9,187.0 L247.5,187.4 L248.1,187.8 L248.7,188.1 L249.3,188.3 L250.0,188.5 L250.7,188.6 L251.5,188.6 L252.2,188.5 L253.0,188.4 L253.8,188.2 L254.6,188.0 L255.4,187.7 L256.1,187.3 L256.9,186.9 L257.6,186.4 L258.3,186.0 L259.0,185.5 L259.7,185.0 L260.5,184.4 L261.2,183.8 L261.8,183.3 L262.4,182.8 L262.8,182.5" fill="none" stroke="#777777" stroke-width="1.40" stroke-linecap="round" stroke-linejoin="round"/><path d="M230.0,188.0 L230.7,187.4 L231.6,186.6 L232.7,185.7 L233.9,184.7 L235.0,183.8 L236.0,183.0 L236.9,182.3 L237.8,181.6 L238.7,181.0 L239.5,180.5 L240.3,180.1 L241.0,180.0 L241.6,180.1 L242.2,180.5 L242.7,181.1 L243.1,181.7 L243.6,182.4 L244.0,183.0 L244.4,183.6 L244.8,184.2 L245.2,184.9 L245.5,185.5 L245.9,186.1 L246.4,186.6 L246.9,187.0 L247.5,187.4 L248.1,187.8 L248.7,188.1 L249.3,188.3 L250.0,188.5 L250.7,188.6 L251.5,188.6 L252.2,188.5 L253.0,188.4 L253.8,188.2 L254.6,188.0 L255.4,187.7 L256.1,187.3 L256.9,186.9 L257.6,186.4 L258.3,186.0 L259.0,185.5 L259.7,185.0 L260.5,184.4 L261.2,183.8 L261.8,183.3 L262.4,182.8 L262.8,182.5" fill="none" stroke="#b4b4b4" stroke-width="0.55" stroke-linecap="round" stroke-linejoin="round"/>
<path d="M221.0,143.0 L221.6,143.4 L222.3,144.0 L223.2,144.7 L224.2,145.4 L225.2,146.2 L226.0,147.0 L226.8,147.8 L227.6,148.8 L228.3,149.8 L229.0,150.7 L229.6,151.4 L230.0,152.0" fill="none" stroke="#777777" stroke-width="1.30" stroke-linecap="round" stroke-linejoin="round"/><path d="M221.0,143.0 L221.6,143.4 L222.3,144.0 L223.2,144.7 L224.2,145.4 L225.2,146.2 L226.0,147.0 L226.8,147.8 L227.6,148.8 L228.3,149.8 L229.0,150.7 L229.6,151.4 L230.0,152.0" fill="none" stroke="#b4b4b4" stroke-width="0.50" stroke-linecap="round" stroke-linejoin="round"/>
<path d="M204.0,170.0 L204.3,170.9 L204.7,172.1 L205.1,173.6 L205.6,175.2 L205.9,176.7 L206.0,178.0 L205.8,179.1 L205.4,180.2 L204.9,181.2 L204.4,182.2 L204.0,183.1 L204.0,184.0 L204.4,184.8 L205.0,185.6 L205.9,186.4 L206.7,187.0 L207.5,187.6 L208.0,188.0" fill="none" stroke="#777777" stroke-width="1.30" stroke-linecap="round" stroke-linejoin="round"/><path d="M204.0,170.0 L204.3,170.9 L204.7,172.1 L205.1,173.6 L205.6,175.2 L205.9,176.7 L206.0,178.0 L205.8,179.1 L205.4,180.2 L204.9,181.2 L204.4,182.2 L204.0,183.1 L204.0,184.0 L204.4,184.8 L205.0,185.6 L205.9,186.4 L206.7,187.0 L207.5,187.6 L208.0,188.0" fill="none" stroke="#b4b4b4" stroke-width="0.50" stroke-linecap="round" stroke-linejoin="round"/>
<path d="M230.0,190.0 L230.9,190.0 L232.1,189.9 L233.6,189.9 L235.2,189.9 L236.7,189.9 L238.0,190.0 L239.2,190.2 L240.4,190.6 L241.5,191.0 L242.5,191.4 L243.4,191.8 L244.0,192.0" fill="none" stroke="#777777" stroke-width="1.30" stroke-linecap="round" stroke-linejoin="round"/><path d="M230.0,190.0 L230.9,190.0 L232.1,189.9 L233.6,189.9 L235.2,189.9 L236.7,189.9 L238.0,190.0 L239.2,190.2 L240.4,190.6 L241.5,191.0 L242.5,191.4 L243.4,191.8 L244.0,192.0" fill="none" stroke="#b4b4b4" stroke-width="0.50" stroke-linecap="round" stroke-linejoin="round"/>
<path d="M194.0,196.0 L194.7,196.4 L195.6,196.9 L196.6,197.6 L197.8,198.2 L198.9,198.7 L200.0,199.0 L201.1,199.1 L202.2,198.9 L203.4,198.7 L204.4,198.4 L205.3,198.2 L206.0,198.0" fill="none" stroke="#777777" stroke-width="1.30" stroke-linecap="round" stroke-linejoin="round"/><path d="M194.0,196.0 L194.7,196.4 L195.6,196.9 L196.6,197.6 L197.8,198.2 L198.9,198.7 L200.0,199.0 L201.1,199.1 L202.2,198.9 L203.4,198.7 L204.4,198.4 L205.3,198.2 L206.0,198.0" fill="none" stroke="#b4b4b4" stroke-width="0.50" stroke-linecap="round" stroke-linejoin="round"/>
<path d="M226.0,133.0 L226.4,133.8 L227.0,135.1 L227.6,136.5 L228.4,137.9 L229.2,139.2 L230.0,140.0 L231.0,140.4 L232.1,140.5 L233.2,140.4 L234.4,140.3 L235.3,140.1 L236.0,140.0" fill="none" stroke="#777777" stroke-width="1.30" stroke-linecap="round" stroke-linejoin="round"/><path d="M226.0,133.0 L226.4,133.8 L227.0,135.1 L227.6,136.5 L228.4,137.9 L229.2,139.2 L230.0,140.0 L231.0,140.4 L232.1,140.5 L233.2,140.4 L234.4,140.3 L235.3,140.1 L236.0,140.0" fill="none" stroke="#b4b4b4" stroke-width="0.50" stroke-linecap="round" stroke-linejoin="round"/>
<path d="M228.0,143.0 L228.7,143.4 L229.6,143.9 L230.6,144.5 L231.8,145.1 L232.9,145.6 L234.0,146.0 L235.0,146.2 L236.0,146.1 L237.0,146.1 L238.0,146.0 L239.0,145.9 L240.0,146.0 L241.1,146.2 L242.2,146.6 L243.4,147.0 L244.4,147.4 L245.3,147.8 L246.0,148.0" fill="none" stroke="#777777" stroke-width="1.30" stroke-linecap="round" stroke-linejoin="round"/><path d="M228.0,143.0 L228.7,143.4 L229.6,143.9 L230.6,144.5 L231.8,145.1 L232.9,145.6 L234.0,146.0 L235.0,146.2 L236.0,146.1 L237.0,146.1 L238.0,146.0 L239.0,145.9 L240.0,146.0 L241.1,146.2 L242.2,146.6 L243.4,147.0 L244.4,147.4 L245.3,147.8 L246.0,148.0" fill="none" stroke="#b4b4b4" stroke-width="0.50" stroke-linecap="round" stroke-linejoin="round"/>
<path d="M202.5,82.3 205.7,84.4 210.4,87.4 215.5,90.9 220.4,94.2 225.3,97.9 230.4,101.9 235.1,105.6 240.0,106.0 240.0,106.0 238.5,101.3 233.8,97.6 228.6,93.5 223.6,89.8 218.6,86.3 213.4,82.8 208.7,79.8 205.5,77.7Z" fill="#8a8a8a" stroke="#505050" stroke-width="0.45" stroke-linejoin="round"/>
<path d="M210.7,80.2 214.4,82.3 219.6,85.3 225.4,88.7 230.6,92.1 235.6,95.7 240.7,99.7 245.2,103.4 250.0,104.0 250.0,104.0 248.4,99.5 243.8,95.8 238.6,91.7 233.4,87.9 228.0,84.5 222.1,81.0 216.9,77.9 213.3,75.8Z" fill="#969696" stroke="#555" stroke-width="0.45" stroke-linejoin="round"/>
<path d="M194.7,97.1 197.9,99.1 202.6,101.9 207.8,105.0 212.7,108.1 217.5,111.3 222.7,114.8 226.4,119.3 232.0,118.0 232.0,118.0 231.1,112.4 225.5,110.6 220.3,107.1 215.3,103.9 210.4,100.8 205.2,97.6 200.5,94.8 197.3,92.9Z" fill="#8e8e8e" stroke="#555" stroke-width="0.45" stroke-linejoin="round"/>
<path d="M207.2,61.9 207.2,63.2 207.1,65.0 207.0,66.9 206.7,68.7 206.3,70.3 205.8,72.0 205.1,73.6 204.4,75.2 203.6,76.6 202.6,78.0 201.5,79.5 200.5,81.1 199.5,82.8 198.5,84.5 198.8,86.6 199.0,88.0 199.0,88.0 200.2,87.3 202.0,86.2 202.7,84.5 203.5,82.9 204.4,81.5 205.5,80.1 206.6,78.5 207.6,76.8 208.4,75.0 209.2,73.2 209.8,71.3 210.3,69.3 210.6,67.3 210.7,65.1 210.8,63.3 210.8,62.1Z" fill="#b4b4b4" stroke="#6e6e6e" stroke-width="0.45" stroke-linejoin="round"/>
<path d="M211.0,84.0 L211.5,83.7 L212.2,83.3 L213.1,82.9 L214.0,82.4 L215.0,81.9 L216.0,81.5 L217.1,81.1 L218.4,80.7 L219.8,80.3 L221.1,80.0 L222.2,79.7 L223.0,79.5" fill="none" stroke="#c010c0" stroke-width="1.80" stroke-linecap="round" stroke-linejoin="round"/><path d="M211.0,84.0 L211.5,83.7 L212.2,83.3 L213.1,82.9 L214.0,82.4 L215.0,81.9 L216.0,81.5 L217.1,81.1 L218.4,80.7 L219.8,80.3 L221.1,80.0 L222.2,79.7 L223.0,79.5" fill="none" stroke="#f040f0" stroke-width="0.75" stroke-linecap="round" stroke-linejoin="round"/>
<path d="M204.2,88.5 208.5,88.1 214.7,87.6 221.6,87.0 228.2,86.5 234.7,86.2 241.6,85.9 247.8,85.7 252.0,83.0 252.0,83.0 247.6,80.7 241.4,80.9 234.4,81.2 227.8,81.5 221.2,82.0 214.3,82.6 208.1,83.1 203.8,83.5Z" fill="#b8b8b8" stroke="#6e6e6e" stroke-width="0.45" stroke-linejoin="round"/>
<path d="M196.0,106.4 201.2,104.1 208.7,100.9 217.0,97.4 224.8,94.5 232.7,92.0 241.0,89.8 248.4,87.9 253.0,84.0 253.0,84.0 247.1,82.8 239.6,84.7 231.2,87.0 223.2,89.5 215.1,92.6 206.7,96.1 199.2,99.4 194.0,101.6Z" fill="#a8a8a8" stroke="#6e6e6e" stroke-width="0.45" stroke-linejoin="round"/>
<path d="M193.9,112.4 199.4,110.4 207.4,107.4 216.3,104.3 224.8,101.5 233.3,99.1 242.5,96.8 250.8,94.9 256.0,91.0 256.0,91.0 249.6,89.8 241.3,91.8 232.0,94.1 223.2,96.5 214.6,99.3 205.6,102.6 197.6,105.5 192.1,107.6Z" fill="#9c9c9c" stroke="#6e6e6e" stroke-width="0.45" stroke-linejoin="round"/>
<path d="M194.8,117.5 200.2,115.8 207.9,113.4 216.6,110.8 224.7,108.5 232.6,106.5 241.0,104.5 248.4,102.7 253.0,99.0 253.0,99.0 247.2,97.7 239.8,99.4 231.4,101.4 223.3,103.5 215.1,105.8 206.4,108.5 198.6,110.9 193.2,112.5Z" fill="#b6b6b6" stroke="#6e6e6e" stroke-width="0.45" stroke-linejoin="round"/>
<path d="M196.6,121.5 201.6,120.4 208.9,118.9 217.0,117.1 224.5,115.5 231.7,114.1 239.2,112.7 245.9,111.4 250.0,108.0 250.0,108.0 244.9,106.3 238.3,107.6 230.8,109.0 223.5,110.5 215.9,112.0 207.8,113.8 200.5,115.4 195.4,116.5Z" fill="#a4a4a4" stroke="#6e6e6e" stroke-width="0.45" stroke-linejoin="round"/>
<path d="M198.3,125.5 202.6,124.9 208.8,124.2 215.7,123.3 222.3,122.5 228.9,121.7 235.8,120.8 242.0,120.0 246.0,117.0 246.0,117.0 241.4,115.1 235.2,115.8 228.3,116.7 221.7,117.5 215.1,118.3 208.2,119.2 202.0,120.0 197.7,120.5Z" fill="#bcbcbc" stroke="#6e6e6e" stroke-width="0.45" stroke-linejoin="round"/>
<path d="M202.1,129.2 205.7,129.1 210.9,128.8 216.7,128.5 222.1,128.2 227.4,128.0 232.9,127.7 237.8,128.4 241.0,125.0 241.0,125.0 237.4,121.9 232.6,123.2 227.1,123.5 221.9,123.8 216.5,124.0 210.7,124.3 205.5,124.6 201.9,124.8Z" fill="#a8a8a8" stroke="#6e6e6e" stroke-width="0.45" stroke-linejoin="round"/>
<path d="M216,104 225,101.5 226,109 217,111.5Z" fill="#f020f0" stroke="#b000b0" stroke-width="0.4"/>
<path d="M211,95 218,93 218.5,97.5 211.5,99.5Z" fill="#c818c8" stroke="#900090" stroke-width="0.4"/>
<path d="M219,88.5 227,87 227.5,90 219.5,91.5Z" fill="#c818c8" stroke="#900090" stroke-width="0.4"/>
<path d="M177.0,112.0 L177.5,112.1 L178.3,112.2 L179.1,112.3 L180.1,112.5 L181.1,112.7 L182.0,113.0 L182.9,113.4 L183.9,113.9 L184.9,114.4 L186.0,115.0 L187.0,115.5 L188.0,116.0 L189.1,116.4 L190.2,116.8 L191.4,117.2 L192.4,117.5 L193.3,117.8 L194.0,118.0" fill="none" stroke="#c010c0" stroke-width="2.70" stroke-linecap="round" stroke-linejoin="round"/><path d="M177.0,112.0 L177.5,112.1 L178.3,112.2 L179.1,112.3 L180.1,112.5 L181.1,112.7 L182.0,113.0 L182.9,113.4 L183.9,113.9 L184.9,114.4 L186.0,115.0 L187.0,115.5 L188.0,116.0 L189.1,116.4 L190.2,116.8 L191.4,117.2 L192.4,117.5 L193.3,117.8 L194.0,118.0" fill="none" stroke="#f040f0" stroke-width="1.20" stroke-linecap="round" stroke-linejoin="round"/>
<path d="M83.5,79.1 82.5,83.5 85.8,85.3 86.8,80.9Z" fill="#686868" stroke="#686868" stroke-width="0.3"/><path d="M83.5,79.1 L86.8,80.9 M82.5,83.5 L85.8,85.3" stroke="#393939" stroke-width="0.45" fill="none"/>
<path d="M80.8,76.6 79.8,81.0 82.5,83.5 83.5,79.1Z" fill="#5c5c5c" stroke="#5c5c5c" stroke-width="0.3"/><path d="M80.8,76.6 L83.5,79.1 M79.8,81.0 L82.5,83.5" stroke="#323232" stroke-width="0.45" fill="none"/>
<path d="M86.8,80.9 85.8,85.3 89.3,86.2 90.3,81.8Z" fill="#6e6e6e" stroke="#6e6e6e" stroke-width="0.3"/><path d="M86.8,80.9 L90.3,81.8 M85.8,85.3 L89.3,86.2" stroke="#3c3c3c" stroke-width="0.45" fill="none"/>
<path d="M79.2,73.7 78.3,78.1 79.8,81.0 80.8,76.6Z" fill="#4f4f4f" stroke="#4f4f4f" stroke-width="0.3"/><path d="M79.2,73.7 L80.8,76.6 M78.3,78.1 L79.8,81.0" stroke="#2b2b2b" stroke-width="0.45" fill="none"/>
<path d="M90.3,81.8 89.3,86.2 92.5,86.2 93.4,81.8Z" fill="#6e6e6e" stroke="#6e6e6e" stroke-width="0.3"/><path d="M90.3,81.8 L93.4,81.8 M89.3,86.2 L92.5,86.2" stroke="#3c3c3c" stroke-width="0.45" fill="none"/>
<path d="M98.4,71.3 98.1,72.9 97.7,71.1 98.1,69.6Z" fill="#636363" stroke="#636363" stroke-width="0.3"/><path d="M98.4,71.3 L98.1,69.6 M98.1,72.9 L97.7,71.1" stroke="#363636" stroke-width="0.45" fill="none"/>
<path d="M79.1,70.7 78.1,75.1 78.3,78.1 79.2,73.7Z" fill="#4a4a4a" stroke="#4a4a4a" stroke-width="0.3"/><path d="M79.1,70.7 L79.2,73.7 M78.1,75.1 L78.3,78.1" stroke="#282828" stroke-width="0.45" fill="none"/>
<path d="M93.4,81.8 92.5,86.2 94.7,85.4 95.7,81.0Z" fill="#696969" stroke="#696969" stroke-width="0.3"/><path d="M93.4,81.8 L95.7,81.0 M92.5,86.2 L94.7,85.4" stroke="#393939" stroke-width="0.45" fill="none"/>
<path d="M98.1,69.3 97.7,71.4 95.9,69.7 96.4,67.6Z" fill="#6b6b6b" stroke="#6b6b6b" stroke-width="0.3"/><path d="M98.1,69.3 L96.4,67.6 M97.7,71.4 L95.9,69.7" stroke="#3a3a3a" stroke-width="0.45" fill="none"/>
<path d="M80.4,68.1 79.4,72.5 78.1,75.1 79.1,70.7Z" fill="#8f8f8f" stroke="#8f8f8f" stroke-width="0.3"/><path d="M80.4,68.1 L79.1,70.7 M79.4,72.5 L78.1,75.1" stroke="#4e4e4e" stroke-width="0.45" fill="none"/>
<path d="M81.5,89.1 80.6,93.5 84.0,95.2 84.9,90.8Z" fill="#686868" stroke="#686868" stroke-width="0.3"/><path d="M81.5,89.1 L84.9,90.8 M80.6,93.5 L84.0,95.2" stroke="#393939" stroke-width="0.45" fill="none"/>
<path d="M95.7,81.0 94.7,85.4 95.6,83.9 96.6,79.5Z" fill="#a70aa7" stroke="#a70aa7" stroke-width="0.3"/><path d="M95.7,81.0 L96.6,79.5 M94.7,85.4 L95.6,83.9" stroke="#5b055b" stroke-width="0.45" fill="none"/>
<path d="M78.8,86.7 77.8,91.1 80.6,93.5 81.5,89.1Z" fill="#5e5e5e" stroke="#5e5e5e" stroke-width="0.3"/><path d="M78.8,86.7 L81.5,89.1 M77.8,91.1 L80.6,93.5" stroke="#333333" stroke-width="0.45" fill="none"/>
<path d="M84.9,90.8 84.0,95.2 87.5,96.1 88.5,91.7Z" fill="#6e6e6e" stroke="#6e6e6e" stroke-width="0.3"/><path d="M84.9,90.8 L88.5,91.7 M84.0,95.2 L87.5,96.1" stroke="#3c3c3c" stroke-width="0.45" fill="none"/>
<path d="M82.9,66.0 81.9,70.4 79.4,72.5 80.4,68.1Z" fill="#a1a1a1" stroke="#a1a1a1" stroke-width="0.3"/><path d="M82.9,66.0 L80.4,68.1 M81.9,70.4 L79.4,72.5" stroke="#585858" stroke-width="0.45" fill="none"/>
<path d="M96.4,67.4 95.9,69.9 93.0,68.6 93.5,66.1Z" fill="#868686" stroke="#868686" stroke-width="0.3"/><path d="M96.4,67.4 L93.5,66.1 M95.9,69.9 L93.0,68.6" stroke="#494949" stroke-width="0.45" fill="none"/>
<path d="M77.1,83.8 76.1,88.2 77.8,91.1 78.8,86.7Z" fill="#505050" stroke="#505050" stroke-width="0.3"/><path d="M77.1,83.8 L78.8,86.7 M76.1,88.2 L77.8,91.1" stroke="#2c2c2c" stroke-width="0.45" fill="none"/>
<path d="M88.5,91.7 87.5,96.1 90.5,96.0 91.5,91.6Z" fill="#6d6d6d" stroke="#6d6d6d" stroke-width="0.3"/><path d="M88.5,91.7 L91.5,91.6 M87.5,96.1 L90.5,96.0" stroke="#3b3b3b" stroke-width="0.45" fill="none"/>
<path d="M86.3,65.0 85.4,69.1 82.0,70.3 82.9,66.2Z" fill="#aaaaaa" stroke="#aaaaaa" stroke-width="0.3"/><path d="M86.3,65.0 L82.9,66.2 M85.4,69.1 L82.0,70.3" stroke="#5d5d5d" stroke-width="0.45" fill="none"/>
<path d="M93.6,65.8 92.9,68.9 89.3,68.3 90.0,65.2Z" fill="#9d9d9d" stroke="#9d9d9d" stroke-width="0.3"/><path d="M93.6,65.8 L90.0,65.2 M92.9,68.9 L89.3,68.3" stroke="#565656" stroke-width="0.45" fill="none"/>
<path d="M90.0,65.0 89.2,68.6 85.4,68.8 86.2,65.2Z" fill="#a9a9a9" stroke="#a9a9a9" stroke-width="0.3"/><path d="M90.0,65.0 L86.2,65.2 M89.2,68.6 L85.4,68.8" stroke="#5c5c5c" stroke-width="0.45" fill="none"/>
<path d="M96.6,79.5 95.6,83.9 95.1,82.2 96.1,77.8Z" fill="#ab0aab" stroke="#ab0aab" stroke-width="0.3"/><path d="M96.6,79.5 L96.1,77.8 M95.6,83.9 L95.1,82.2" stroke="#5e055e" stroke-width="0.45" fill="none"/>
<path d="M76.8,80.8 75.9,85.2 76.1,88.2 77.1,83.8Z" fill="#4a4a4a" stroke="#4a4a4a" stroke-width="0.3"/><path d="M76.8,80.8 L77.1,83.8 M75.9,85.2 L76.1,88.2" stroke="#282828" stroke-width="0.45" fill="none"/>
<path d="M91.5,91.6 90.5,96.0 92.6,95.0 93.6,90.6Z" fill="#686868" stroke="#686868" stroke-width="0.3"/><path d="M91.5,91.6 L93.6,90.6 M90.5,96.0 L92.6,95.0" stroke="#393939" stroke-width="0.45" fill="none"/>
<path d="M78.0,78.1 77.0,82.5 75.9,85.2 76.8,80.8Z" fill="#8d8d8d" stroke="#8d8d8d" stroke-width="0.3"/><path d="M78.0,78.1 L76.8,80.8 M77.0,82.5 L75.9,85.2" stroke="#4d4d4d" stroke-width="0.45" fill="none"/>
<path d="M96.1,77.8 95.1,82.2 93.2,80.5 94.2,76.1Z" fill="#6d6d6d" stroke="#6d6d6d" stroke-width="0.3"/><path d="M96.1,77.8 L94.2,76.1 M95.1,82.2 L93.2,80.5" stroke="#3b3b3b" stroke-width="0.45" fill="none"/>
<path d="M79.6,99.1 78.7,103.5 82.1,105.1 83.1,100.7Z" fill="#696969" stroke="#696969" stroke-width="0.3"/><path d="M79.6,99.1 L83.1,100.7 M78.7,103.5 L82.1,105.1" stroke="#393939" stroke-width="0.45" fill="none"/>
<path d="M76.8,96.7 75.8,101.1 78.7,103.5 79.6,99.1Z" fill="#5f5f5f" stroke="#5f5f5f" stroke-width="0.3"/><path d="M76.8,96.7 L79.6,99.1 M75.8,101.1 L78.7,103.5" stroke="#343434" stroke-width="0.45" fill="none"/>
<path d="M93.6,90.6 92.6,95.0 93.4,93.6 94.4,89.1Z" fill="#5e5e5e" stroke="#5e5e5e" stroke-width="0.3"/><path d="M93.6,90.6 L94.4,89.1 M92.6,95.0 L93.4,93.6" stroke="#333333" stroke-width="0.45" fill="none"/>
<path d="M83.1,100.7 82.1,105.1 85.6,105.9 86.6,101.5Z" fill="#6e6e6e" stroke="#6e6e6e" stroke-width="0.3"/><path d="M83.1,100.7 L86.6,101.5 M82.1,105.1 L85.6,105.9" stroke="#3c3c3c" stroke-width="0.45" fill="none"/>
<path d="M80.4,76.0 79.4,80.4 77.0,82.5 78.0,78.1Z" fill="#a0a0a0" stroke="#a0a0a0" stroke-width="0.3"/><path d="M80.4,76.0 L78.0,78.1 M79.4,80.4 L77.0,82.5" stroke="#585858" stroke-width="0.45" fill="none"/>
<path d="M94.2,76.1 93.2,80.5 90.2,79.3 91.2,74.9Z" fill="#888888" stroke="#888888" stroke-width="0.3"/><path d="M94.2,76.1 L91.2,74.9 M93.2,80.5 L90.2,79.3" stroke="#4a4a4a" stroke-width="0.45" fill="none"/>
<path d="M75.0,93.9 74.0,98.3 75.8,101.1 76.8,96.7Z" fill="#515151" stroke="#515151" stroke-width="0.3"/><path d="M75.0,93.9 L76.8,96.7 M74.0,98.3 L75.8,101.1" stroke="#2c2c2c" stroke-width="0.45" fill="none"/>
<path d="M83.8,74.7 82.8,79.1 79.4,80.4 80.4,76.0Z" fill="#aaaaaa" stroke="#aaaaaa" stroke-width="0.3"/><path d="M83.8,74.7 L80.4,76.0 M82.8,79.1 L79.4,80.4" stroke="#5d5d5d" stroke-width="0.45" fill="none"/>
<path d="M86.6,101.5 85.6,105.9 88.5,105.7 89.5,101.3Z" fill="#6d6d6d" stroke="#6d6d6d" stroke-width="0.3"/><path d="M86.6,101.5 L89.5,101.3 M85.6,105.9 L88.5,105.7" stroke="#3b3b3b" stroke-width="0.45" fill="none"/>
<path d="M91.2,74.9 90.2,79.3 86.6,78.7 87.6,74.3Z" fill="#9e9e9e" stroke="#9e9e9e" stroke-width="0.3"/><path d="M91.2,74.9 L87.6,74.3 M90.2,79.3 L86.6,78.7" stroke="#565656" stroke-width="0.45" fill="none"/>
<path d="M87.6,74.3 86.6,78.7 82.8,79.1 83.8,74.7Z" fill="#aaaaaa" stroke="#aaaaaa" stroke-width="0.3"/><path d="M87.6,74.3 L83.8,74.7 M86.6,78.7 L82.8,79.1" stroke="#5d5d5d" stroke-width="0.45" fill="none"/>
<path d="M74.6,90.9 73.6,95.3 74.0,98.3 75.0,93.9Z" fill="#4a4a4a" stroke="#4a4a4a" stroke-width="0.3"/><path d="M74.6,90.9 L75.0,93.9 M73.6,95.3 L74.0,98.3" stroke="#282828" stroke-width="0.45" fill="none"/>
<path d="M94.4,89.1 93.4,93.6 92.8,91.8 93.8,87.4Z" fill="#636363" stroke="#636363" stroke-width="0.3"/><path d="M94.4,89.1 L93.8,87.4 M93.4,93.6 L92.8,91.8" stroke="#363636" stroke-width="0.45" fill="none"/>
<path d="M89.5,101.3 88.5,105.7 90.5,104.7 91.5,100.3Z" fill="#676767" stroke="#676767" stroke-width="0.3"/><path d="M89.5,101.3 L91.5,100.3 M88.5,105.7 L90.5,104.7" stroke="#383838" stroke-width="0.45" fill="none"/>
<path d="M75.6,88.1 74.6,92.5 73.6,95.3 74.6,90.9Z" fill="#8a8a8a" stroke="#8a8a8a" stroke-width="0.3"/><path d="M75.6,88.1 L74.6,90.9 M74.6,92.5 L73.6,95.3" stroke="#4b4b4b" stroke-width="0.45" fill="none"/>
<path d="M93.8,87.4 92.8,91.8 90.8,90.2 91.8,85.8Z" fill="#707070" stroke="#707070" stroke-width="0.3"/><path d="M93.8,87.4 L91.8,85.8 M92.8,91.8 L90.8,90.2" stroke="#3d3d3d" stroke-width="0.45" fill="none"/>
<path d="M77.7,109.2 76.8,113.3 80.3,114.9 81.2,110.8Z" fill="#6a6a6a" stroke="#6a6a6a" stroke-width="0.3"/><path d="M77.7,109.2 L81.2,110.8 M76.8,113.3 L80.3,114.9" stroke="#3a3a3a" stroke-width="0.45" fill="none"/>
<path d="M74.8,106.7 73.8,111.2 76.8,113.5 77.7,109.1Z" fill="#606060" stroke="#606060" stroke-width="0.3"/><path d="M74.8,106.7 L77.7,109.1 M73.8,111.2 L76.8,113.5" stroke="#343434" stroke-width="0.45" fill="none"/>
<path d="M77.9,85.9 77.0,90.3 74.6,92.5 75.6,88.1Z" fill="#e80fe8" stroke="#e80fe8" stroke-width="0.3"/><path d="M77.9,85.9 L75.6,88.1 M77.0,90.3 L74.6,92.5" stroke="#7f087f" stroke-width="0.45" fill="none"/>
<path d="M91.5,100.3 90.5,104.7 91.2,103.2 92.2,98.8Z" fill="#5d5d5d" stroke="#5d5d5d" stroke-width="0.3"/><path d="M91.5,100.3 L92.2,98.8 M90.5,104.7 L91.2,103.2" stroke="#333333" stroke-width="0.45" fill="none"/>
<path d="M81.1,111.0 80.3,114.6 83.8,115.3 84.6,111.7Z" fill="#6e6e6e" stroke="#6e6e6e" stroke-width="0.3"/><path d="M81.1,111.0 L84.6,111.7 M80.3,114.6 L83.8,115.3" stroke="#3c3c3c" stroke-width="0.45" fill="none"/>
<path d="M72.9,103.9 72.0,108.3 73.8,111.2 74.8,106.7Z" fill="#535353" stroke="#535353" stroke-width="0.3"/><path d="M72.9,103.9 L74.8,106.7 M72.0,108.3 L73.8,111.2" stroke="#2d2d2d" stroke-width="0.45" fill="none"/>
<path d="M91.8,85.8 90.8,90.2 87.7,89.0 88.7,84.6Z" fill="#8b8b8b" stroke="#8b8b8b" stroke-width="0.3"/><path d="M91.8,85.8 L88.7,84.6 M90.8,90.2 L87.7,89.0" stroke="#4c4c4c" stroke-width="0.45" fill="none"/>
<path d="M81.2,84.6 80.2,89.0 77.0,90.3 77.9,85.9Z" fill="#f412f4" stroke="#f412f4" stroke-width="0.3"/><path d="M81.2,84.6 L77.9,85.9 M80.2,89.0 L77.0,90.3" stroke="#860986" stroke-width="0.45" fill="none"/>
<path d="M84.5,112.0 83.8,115.0 86.7,114.8 87.4,111.7Z" fill="#6d6d6d" stroke="#6d6d6d" stroke-width="0.3"/><path d="M84.5,112.0 L87.4,111.7 M83.8,115.0 L86.7,114.8" stroke="#3b3b3b" stroke-width="0.45" fill="none"/>
<path d="M88.7,84.6 87.7,89.0 84.0,88.5 85.0,84.1Z" fill="#a0a0a0" stroke="#a0a0a0" stroke-width="0.3"/><path d="M88.7,84.6 L85.0,84.1 M87.7,89.0 L84.0,88.5" stroke="#585858" stroke-width="0.45" fill="none"/>
<path d="M85.0,84.1 84.0,88.5 80.2,89.0 81.2,84.6Z" fill="#f513f5" stroke="#f513f5" stroke-width="0.3"/><path d="M85.0,84.1 L81.2,84.6 M84.0,88.5 L80.2,89.0" stroke="#860a86" stroke-width="0.45" fill="none"/>
<path d="M72.4,100.9 71.4,105.3 72.0,108.3 72.9,103.9Z" fill="#4a4a4a" stroke="#4a4a4a" stroke-width="0.3"/><path d="M72.4,100.9 L72.9,103.9 M71.4,105.3 L72.0,108.3" stroke="#282828" stroke-width="0.45" fill="none"/>
<path d="M92.2,98.8 91.2,103.2 90.4,101.4 91.4,97.0Z" fill="#636363" stroke="#636363" stroke-width="0.3"/><path d="M92.2,98.8 L91.4,97.0 M91.2,103.2 L90.4,101.4" stroke="#363636" stroke-width="0.45" fill="none"/>
<path d="M87.4,111.9 86.8,114.5 88.7,113.5 89.2,110.9Z" fill="#676767" stroke="#676767" stroke-width="0.3"/><path d="M87.4,111.9 L89.2,110.9 M86.8,114.5 L88.7,113.5" stroke="#383838" stroke-width="0.45" fill="none"/>
<path d="M73.3,98.1 72.3,102.5 71.4,105.3 72.4,100.9Z" fill="#888888" stroke="#888888" stroke-width="0.3"/><path d="M73.3,98.1 L72.4,100.9 M72.3,102.5 L71.4,105.3" stroke="#4a4a4a" stroke-width="0.45" fill="none"/>
<path d="M91.4,97.0 90.4,101.4 88.3,99.8 89.3,95.4Z" fill="#737373" stroke="#737373" stroke-width="0.3"/><path d="M91.4,97.0 L89.3,95.4 M90.4,101.4 L88.3,99.8" stroke="#3f3f3f" stroke-width="0.45" fill="none"/>
<path d="M75.5,95.9 74.5,100.3 72.3,102.5 73.3,98.1Z" fill="#9d9d9d" stroke="#9d9d9d" stroke-width="0.3"/><path d="M75.5,95.9 L73.3,98.1 M74.5,100.3 L72.3,102.5" stroke="#565656" stroke-width="0.45" fill="none"/>
<path d="M89.2,111.1 88.7,113.2 89.3,111.6 89.7,109.6Z" fill="#5c5c5c" stroke="#5c5c5c" stroke-width="0.3"/><path d="M89.2,111.1 L89.7,109.6 M88.7,113.2 L89.3,111.6" stroke="#323232" stroke-width="0.45" fill="none"/>
<path d="M89.3,95.4 88.3,99.8 85.2,98.7 86.2,94.3Z" fill="#8d8d8d" stroke="#8d8d8d" stroke-width="0.3"/><path d="M89.3,95.4 L86.2,94.3 M88.3,99.8 L85.2,98.7" stroke="#4d4d4d" stroke-width="0.45" fill="none"/>
<path d="M78.7,94.4 77.7,98.8 74.5,100.3 75.5,95.9Z" fill="#a8a8a8" stroke="#a8a8a8" stroke-width="0.3"/><path d="M78.7,94.4 L75.5,95.9 M77.7,98.8 L74.5,100.3" stroke="#5c5c5c" stroke-width="0.45" fill="none"/>
<path d="M86.2,94.3 85.2,98.7 81.5,98.3 82.4,93.9Z" fill="#a2a2a2" stroke="#a2a2a2" stroke-width="0.3"/><path d="M86.2,94.3 L82.4,93.9 M85.2,98.7 L81.5,98.3" stroke="#595959" stroke-width="0.45" fill="none"/>
<path d="M82.4,93.9 81.5,98.3 77.7,98.8 78.7,94.4Z" fill="#ababab" stroke="#ababab" stroke-width="0.3"/><path d="M82.4,93.9 L78.7,94.4 M81.5,98.3 L77.7,98.8" stroke="#5e5e5e" stroke-width="0.45" fill="none"/>
<path d="M89.7,109.8 89.3,111.4 88.4,109.6 88.8,108.1Z" fill="#636363" stroke="#636363" stroke-width="0.3"/><path d="M89.7,109.8 L88.8,108.1 M89.3,111.4 L88.4,109.6" stroke="#363636" stroke-width="0.45" fill="none"/>
<ellipse cx="82" cy="109.5" rx="6" ry="2.4" transform="rotate(-8 82 109.5)" fill="#4a4a4a"/>
<path d="M109.0,71.3 108.0,75.9 110.8,77.5 111.9,73.0Z" fill="#7c7c7c" stroke="#7c7c7c" stroke-width="0.3"/><path d="M109.0,71.3 L111.9,73.0 M108.0,75.9 L110.8,77.5" stroke="#444444" stroke-width="0.45" fill="none"/>
<path d="M106.7,69.1 105.7,73.6 108.0,75.9 109.0,71.3Z" fill="#6e6e6e" stroke="#6e6e6e" stroke-width="0.3"/><path d="M106.7,69.1 L109.0,71.3 M105.7,73.6 L108.0,75.9" stroke="#3c3c3c" stroke-width="0.45" fill="none"/>
<path d="M111.9,73.0 110.8,77.5 113.8,78.5 114.9,74.0Z" fill="#848484" stroke="#848484" stroke-width="0.3"/><path d="M111.9,73.0 L114.9,74.0 M110.8,77.5 L113.8,78.5" stroke="#484848" stroke-width="0.45" fill="none"/>
<path d="M105.4,66.6 104.4,71.1 105.7,73.6 106.7,69.1Z" fill="#5e5e5e" stroke="#5e5e5e" stroke-width="0.3"/><path d="M105.4,66.6 L106.7,69.1 M104.4,71.1 L105.7,73.6" stroke="#333333" stroke-width="0.45" fill="none"/>
<path d="M114.9,74.0 113.8,78.5 116.5,78.7 117.5,74.1Z" fill="#848484" stroke="#848484" stroke-width="0.3"/><path d="M114.9,74.0 L117.5,74.1 M113.8,78.5 L116.5,78.7" stroke="#484848" stroke-width="0.45" fill="none"/>
<path d="M122.2,64.1 121.8,65.7 121.5,64.4 121.8,62.8Z" fill="#767676" stroke="#767676" stroke-width="0.3"/><path d="M122.2,64.1 L121.8,62.8 M121.8,65.7 L121.5,64.4" stroke="#404040" stroke-width="0.45" fill="none"/>
<path d="M105.3,64.0 104.3,68.5 104.4,71.1 105.4,66.6Z" fill="#595959" stroke="#595959" stroke-width="0.3"/><path d="M105.3,64.0 L105.4,66.6 M104.3,68.5 L104.4,71.1" stroke="#303030" stroke-width="0.45" fill="none"/>
<path d="M117.5,74.1 116.5,78.7 118.3,78.1 119.4,73.6Z" fill="#7e7e7e" stroke="#7e7e7e" stroke-width="0.3"/><path d="M117.5,74.1 L119.4,73.6 M116.5,78.7 L118.3,78.1" stroke="#454545" stroke-width="0.45" fill="none"/>
<path d="M121.9,62.5 121.4,64.6 119.9,63.3 120.3,61.2Z" fill="#808080" stroke="#808080" stroke-width="0.3"/><path d="M121.9,62.5 L120.3,61.2 M121.4,64.6 L119.9,63.3" stroke="#464646" stroke-width="0.45" fill="none"/>
<path d="M106.5,61.7 105.4,66.2 104.3,68.5 105.3,64.0Z" fill="#ababab" stroke="#ababab" stroke-width="0.3"/><path d="M106.5,61.7 L105.3,64.0 M105.4,66.2 L104.3,68.5" stroke="#5e5e5e" stroke-width="0.45" fill="none"/>
<path d="M119.4,73.6 118.3,78.1 119.1,77.1 120.2,72.6Z" fill="#737373" stroke="#737373" stroke-width="0.3"/><path d="M119.4,73.6 L120.2,72.6 M118.3,78.1 L119.1,77.1" stroke="#3f3f3f" stroke-width="0.45" fill="none"/>
<path d="M106.9,81.6 105.8,86.1 108.7,87.7 109.8,83.2Z" fill="#7d7d7d" stroke="#7d7d7d" stroke-width="0.3"/><path d="M106.9,81.6 L109.8,83.2 M105.8,86.1 L108.7,87.7" stroke="#444444" stroke-width="0.45" fill="none"/>
<path d="M108.7,60.0 107.6,64.5 105.4,66.2 106.5,61.7Z" fill="#c1c1c1" stroke="#c1c1c1" stroke-width="0.3"/><path d="M108.7,60.0 L106.5,61.7 M107.6,64.5 L105.4,66.2" stroke="#6a6a6a" stroke-width="0.45" fill="none"/>
<path d="M120.4,61.0 119.8,63.6 117.3,62.6 117.9,60.0Z" fill="#a0a0a0" stroke="#a0a0a0" stroke-width="0.3"/><path d="M120.4,61.0 L117.9,60.0 M119.8,63.6 L117.3,62.6" stroke="#585858" stroke-width="0.45" fill="none"/>
<path d="M104.5,79.4 103.5,83.9 105.8,86.1 106.9,81.6Z" fill="#707070" stroke="#707070" stroke-width="0.3"/><path d="M104.5,79.4 L106.9,81.6 M103.5,83.9 L105.8,86.1" stroke="#3d3d3d" stroke-width="0.45" fill="none"/>
<path d="M109.8,83.2 108.7,87.7 111.7,88.6 112.8,84.1Z" fill="#848484" stroke="#848484" stroke-width="0.3"/><path d="M109.8,83.2 L112.8,84.1 M108.7,87.7 L111.7,88.6" stroke="#484848" stroke-width="0.45" fill="none"/>
<path d="M103.2,76.8 102.1,81.4 103.5,83.9 104.5,79.4Z" fill="#606060" stroke="#606060" stroke-width="0.3"/><path d="M103.2,76.8 L104.5,79.4 M102.1,81.4 L103.5,83.9" stroke="#343434" stroke-width="0.45" fill="none"/>
<path d="M111.6,59.1 110.6,63.3 107.7,64.3 108.6,60.1Z" fill="#f513f5" stroke="#f513f5" stroke-width="0.3"/><path d="M111.6,59.1 L108.6,60.1 M110.6,63.3 L107.7,64.3" stroke="#860a86" stroke-width="0.45" fill="none"/>
<path d="M117.9,59.7 117.2,62.9 114.1,62.5 114.8,59.3Z" fill="#bcbcbc" stroke="#bcbcbc" stroke-width="0.3"/><path d="M117.9,59.7 L114.8,59.3 M117.2,62.9 L114.1,62.5" stroke="#676767" stroke-width="0.45" fill="none"/>
<path d="M112.8,84.1 111.7,88.6 114.3,88.7 115.4,84.2Z" fill="#838383" stroke="#838383" stroke-width="0.3"/><path d="M112.8,84.1 L115.4,84.2 M111.7,88.6 L114.3,88.7" stroke="#484848" stroke-width="0.45" fill="none"/>
<path d="M114.9,59.0 114.0,62.7 110.7,63.0 111.6,59.3Z" fill="#f513f5" stroke="#f513f5" stroke-width="0.3"/><path d="M114.9,59.0 L111.6,59.3 M114.0,62.7 L110.7,63.0" stroke="#860a86" stroke-width="0.45" fill="none"/>
<path d="M120.2,72.6 119.1,77.1 118.7,75.8 119.7,71.3Z" fill="#767676" stroke="#767676" stroke-width="0.3"/><path d="M120.2,72.6 L119.7,71.3 M119.1,77.1 L118.7,75.8" stroke="#404040" stroke-width="0.45" fill="none"/>
<path d="M103.0,74.3 101.9,78.8 102.1,81.4 103.2,76.8Z" fill="#595959" stroke="#595959" stroke-width="0.3"/><path d="M103.0,74.3 L103.2,76.8 M101.9,78.8 L102.1,81.4" stroke="#303030" stroke-width="0.45" fill="none"/>
<path d="M115.4,84.2 114.3,88.7 116.1,88.1 117.2,83.6Z" fill="#7d7d7d" stroke="#7d7d7d" stroke-width="0.3"/><path d="M115.4,84.2 L117.2,83.6 M114.3,88.7 L116.1,88.1" stroke="#444444" stroke-width="0.45" fill="none"/>
<path d="M104.0,72.0 103.0,76.5 101.9,78.8 103.0,74.3Z" fill="#a9a9a9" stroke="#a9a9a9" stroke-width="0.3"/><path d="M104.0,72.0 L103.0,74.3 M103.0,76.5 L101.9,78.8" stroke="#5c5c5c" stroke-width="0.45" fill="none"/>
<path d="M119.7,71.3 118.7,75.8 117.1,74.5 118.1,70.0Z" fill="#828282" stroke="#828282" stroke-width="0.3"/><path d="M119.7,71.3 L118.1,70.0 M118.7,75.8 L117.1,74.5" stroke="#474747" stroke-width="0.45" fill="none"/>
<path d="M104.7,91.8 103.7,96.3 106.6,97.9 107.7,93.3Z" fill="#b10ab1" stroke="#b10ab1" stroke-width="0.3"/><path d="M104.7,91.8 L107.7,93.3 M103.7,96.3 L106.6,97.9" stroke="#610561" stroke-width="0.45" fill="none"/>
<path d="M117.2,83.6 116.1,88.1 116.8,87.1 117.9,82.5Z" fill="#727272" stroke="#727272" stroke-width="0.3"/><path d="M117.2,83.6 L117.9,82.5 M116.1,88.1 L116.8,87.1" stroke="#3e3e3e" stroke-width="0.45" fill="none"/>
<path d="M106.1,70.1 105.1,74.7 103.0,76.5 104.0,72.0Z" fill="#bfbfbf" stroke="#bfbfbf" stroke-width="0.3"/><path d="M106.1,70.1 L104.0,72.0 M105.1,74.7 L103.0,76.5" stroke="#696969" stroke-width="0.45" fill="none"/>
<path d="M102.4,89.6 101.3,94.2 103.7,96.3 104.7,91.8Z" fill="#a60aa6" stroke="#a60aa6" stroke-width="0.3"/><path d="M102.4,89.6 L104.7,91.8 M101.3,94.2 L103.7,96.3" stroke="#5b055b" stroke-width="0.45" fill="none"/>
<path d="M118.1,70.0 117.1,74.5 114.5,73.6 115.5,69.0Z" fill="#a3a3a3" stroke="#a3a3a3" stroke-width="0.3"/><path d="M118.1,70.0 L115.5,69.0 M117.1,74.5 L114.5,73.6" stroke="#595959" stroke-width="0.45" fill="none"/>
<path d="M107.7,93.3 106.6,97.9 109.6,98.7 110.6,94.2Z" fill="#848484" stroke="#848484" stroke-width="0.3"/><path d="M107.7,93.3 L110.6,94.2 M106.6,97.9 L109.6,98.7" stroke="#484848" stroke-width="0.45" fill="none"/>
<path d="M100.9,87.1 99.8,91.7 101.3,94.2 102.4,89.6Z" fill="#616161" stroke="#616161" stroke-width="0.3"/><path d="M100.9,87.1 L102.4,89.6 M99.8,91.7 L101.3,94.2" stroke="#353535" stroke-width="0.45" fill="none"/>
<path d="M109.1,69.0 108.0,73.6 105.1,74.7 106.1,70.1Z" fill="#f513f5" stroke="#f513f5" stroke-width="0.3"/><path d="M109.1,69.0 L106.1,70.1 M108.0,73.6 L105.1,74.7" stroke="#860a86" stroke-width="0.45" fill="none"/>
<path d="M115.5,69.0 114.5,73.6 111.3,73.2 112.4,68.7Z" fill="#bebebe" stroke="#bebebe" stroke-width="0.3"/><path d="M115.5,69.0 L112.4,68.7 M114.5,73.6 L111.3,73.2" stroke="#686868" stroke-width="0.45" fill="none"/>
<path d="M112.4,68.7 111.3,73.2 108.0,73.6 109.1,69.0Z" fill="#f513f5" stroke="#f513f5" stroke-width="0.3"/><path d="M112.4,68.7 L109.1,69.0 M111.3,73.2 L108.0,73.6" stroke="#860a86" stroke-width="0.45" fill="none"/>
<path d="M110.6,94.2 109.6,98.7 112.1,98.8 113.2,94.2Z" fill="#838383" stroke="#838383" stroke-width="0.3"/><path d="M110.6,94.2 L113.2,94.2 M109.6,98.7 L112.1,98.8" stroke="#484848" stroke-width="0.45" fill="none"/>
<path d="M117.9,82.5 116.8,87.1 116.3,85.8 117.3,81.2Z" fill="#767676" stroke="#767676" stroke-width="0.3"/><path d="M117.9,82.5 L117.3,81.2 M116.8,87.1 L116.3,85.8" stroke="#404040" stroke-width="0.45" fill="none"/>
<path d="M100.6,84.5 99.5,89.1 99.8,91.7 100.9,87.1Z" fill="#595959" stroke="#595959" stroke-width="0.3"/><path d="M100.6,84.5 L100.9,87.1 M99.5,89.1 L99.8,91.7" stroke="#303030" stroke-width="0.45" fill="none"/>
<path d="M113.2,94.2 112.1,98.8 113.9,98.1 114.9,93.6Z" fill="#7c7c7c" stroke="#7c7c7c" stroke-width="0.3"/><path d="M113.2,94.2 L114.9,93.6 M112.1,98.8 L113.9,98.1" stroke="#444444" stroke-width="0.45" fill="none"/>
<path d="M101.5,82.2 100.5,86.7 99.5,89.1 100.6,84.5Z" fill="#a7a7a7" stroke="#a7a7a7" stroke-width="0.3"/><path d="M101.5,82.2 L100.6,84.5 M100.5,86.7 L99.5,89.1" stroke="#5b5b5b" stroke-width="0.45" fill="none"/>
<path d="M117.3,81.2 116.3,85.8 114.5,84.5 115.6,80.0Z" fill="#858585" stroke="#858585" stroke-width="0.3"/><path d="M117.3,81.2 L115.6,80.0 M116.3,85.8 L114.5,84.5" stroke="#494949" stroke-width="0.45" fill="none"/>
<path d="M102.6,102.0 101.6,106.5 104.5,108.0 105.6,103.5Z" fill="#7f7f7f" stroke="#7f7f7f" stroke-width="0.3"/><path d="M102.6,102.0 L105.6,103.5 M101.6,106.5 L104.5,108.0" stroke="#454545" stroke-width="0.45" fill="none"/>
<path d="M103.6,80.3 102.5,84.9 100.5,86.7 101.5,82.2Z" fill="#bebebe" stroke="#bebebe" stroke-width="0.3"/><path d="M103.6,80.3 L101.5,82.2 M102.5,84.9 L100.5,86.7" stroke="#686868" stroke-width="0.45" fill="none"/>
<path d="M100.2,99.9 99.1,104.4 101.6,106.5 102.6,102.0Z" fill="#727272" stroke="#727272" stroke-width="0.3"/><path d="M100.2,99.9 L102.6,102.0 M99.1,104.4 L101.6,106.5" stroke="#3e3e3e" stroke-width="0.45" fill="none"/>
<path d="M114.9,93.6 113.9,98.1 114.5,97.0 115.5,92.5Z" fill="#717171" stroke="#717171" stroke-width="0.3"/><path d="M114.9,93.6 L115.5,92.5 M113.9,98.1 L114.5,97.0" stroke="#3e3e3e" stroke-width="0.45" fill="none"/>
<path d="M115.6,80.0 114.5,84.5 111.9,83.6 112.9,79.1Z" fill="#a5a5a5" stroke="#a5a5a5" stroke-width="0.3"/><path d="M115.6,80.0 L112.9,79.1 M114.5,84.5 L111.9,83.6" stroke="#5a5a5a" stroke-width="0.45" fill="none"/>
<path d="M105.6,103.5 104.5,108.0 107.5,108.8 108.5,104.3Z" fill="#848484" stroke="#848484" stroke-width="0.3"/><path d="M105.6,103.5 L108.5,104.3 M104.5,108.0 L107.5,108.8" stroke="#484848" stroke-width="0.45" fill="none"/>
<path d="M98.6,97.4 97.6,101.9 99.1,104.4 100.2,99.9Z" fill="#626262" stroke="#626262" stroke-width="0.3"/><path d="M98.6,97.4 L100.2,99.9 M97.6,101.9 L99.1,104.4" stroke="#353535" stroke-width="0.45" fill="none"/>
<path d="M106.5,79.2 105.4,83.7 102.5,84.9 103.6,80.3Z" fill="#cbcbcb" stroke="#cbcbcb" stroke-width="0.3"/><path d="M106.5,79.2 L103.6,80.3 M105.4,83.7 L102.5,84.9" stroke="#6f6f6f" stroke-width="0.45" fill="none"/>
<path d="M112.9,79.1 111.9,83.6 108.7,83.3 109.7,78.7Z" fill="#bfbfbf" stroke="#bfbfbf" stroke-width="0.3"/><path d="M112.9,79.1 L109.7,78.7 M111.9,83.6 L108.7,83.3" stroke="#696969" stroke-width="0.45" fill="none"/>
<path d="M109.7,78.7 108.7,83.3 105.4,83.7 106.5,79.2Z" fill="#cccccc" stroke="#cccccc" stroke-width="0.3"/><path d="M109.7,78.7 L106.5,79.2 M108.7,83.3 L105.4,83.7" stroke="#707070" stroke-width="0.45" fill="none"/>
<path d="M108.5,104.3 107.5,108.8 110.0,108.8 111.0,104.3Z" fill="#838383" stroke="#838383" stroke-width="0.3"/><path d="M108.5,104.3 L111.0,104.3 M107.5,108.8 L110.0,108.8" stroke="#484848" stroke-width="0.45" fill="none"/>
<path d="M98.2,94.8 97.2,99.3 97.6,101.9 98.6,97.4Z" fill="#595959" stroke="#595959" stroke-width="0.3"/><path d="M98.2,94.8 L98.6,97.4 M97.2,99.3 L97.6,101.9" stroke="#303030" stroke-width="0.45" fill="none"/>
<path d="M115.5,92.5 114.5,97.0 113.8,95.7 114.9,91.2Z" fill="#767676" stroke="#767676" stroke-width="0.3"/><path d="M115.5,92.5 L114.9,91.2 M114.5,97.0 L113.8,95.7" stroke="#404040" stroke-width="0.45" fill="none"/>
<path d="M111.0,104.4 110.0,108.6 111.7,108.0 112.6,103.8Z" fill="#7c7c7c" stroke="#7c7c7c" stroke-width="0.3"/><path d="M111.0,104.4 L112.6,103.8 M110.0,108.6 L111.7,108.0" stroke="#444444" stroke-width="0.45" fill="none"/>
<path d="M99.1,92.4 98.0,97.0 97.2,99.3 98.2,94.8Z" fill="#a5a5a5" stroke="#a5a5a5" stroke-width="0.3"/><path d="M99.1,92.4 L98.2,94.8 M98.0,97.0 L97.2,99.3" stroke="#5a5a5a" stroke-width="0.45" fill="none"/>
<path d="M114.9,91.2 113.8,95.7 112.0,94.5 113.1,89.9Z" fill="#878787" stroke="#878787" stroke-width="0.3"/><path d="M114.9,91.2 L113.1,89.9 M113.8,95.7 L112.0,94.5" stroke="#4a4a4a" stroke-width="0.45" fill="none"/>
<path d="M101.1,90.5 100.0,95.1 98.0,97.0 99.1,92.4Z" fill="#bdbdbd" stroke="#bdbdbd" stroke-width="0.3"/><path d="M101.1,90.5 L99.1,92.4 M100.0,95.1 L98.0,97.0" stroke="#676767" stroke-width="0.45" fill="none"/>
<path d="M112.6,104.0 111.7,107.7 112.2,106.6 113.1,102.9Z" fill="#6f6f6f" stroke="#6f6f6f" stroke-width="0.3"/><path d="M112.6,104.0 L113.1,102.9 M111.7,107.7 L112.2,106.6" stroke="#3d3d3d" stroke-width="0.45" fill="none"/>
<path d="M113.1,89.9 112.0,94.5 109.3,93.6 110.4,89.1Z" fill="#a7a7a7" stroke="#a7a7a7" stroke-width="0.3"/><path d="M113.1,89.9 L110.4,89.1 M112.0,94.5 L109.3,93.6" stroke="#5b5b5b" stroke-width="0.45" fill="none"/>
<path d="M103.9,89.3 102.8,93.8 100.0,95.1 101.1,90.5Z" fill="#cacaca" stroke="#cacaca" stroke-width="0.3"/><path d="M103.9,89.3 L101.1,90.5 M102.8,93.8 L100.0,95.1" stroke="#6f6f6f" stroke-width="0.45" fill="none"/>
<path d="M110.4,89.1 109.3,93.6 106.1,93.3 107.1,88.8Z" fill="#c1c1c1" stroke="#c1c1c1" stroke-width="0.3"/><path d="M110.4,89.1 L107.1,88.8 M109.3,93.6 L106.1,93.3" stroke="#6a6a6a" stroke-width="0.45" fill="none"/>
<path d="M107.1,88.8 106.1,93.3 102.8,93.8 103.9,89.3Z" fill="#cdcdcd" stroke="#cdcdcd" stroke-width="0.3"/><path d="M107.1,88.8 L103.9,89.3 M106.1,93.3 L102.8,93.8" stroke="#707070" stroke-width="0.45" fill="none"/>
<path d="M113.0,103.2 112.3,106.3 111.5,105.0 112.3,101.8Z" fill="#767676" stroke="#767676" stroke-width="0.3"/><path d="M113.0,103.2 L112.3,101.8 M112.3,106.3 L111.5,105.0" stroke="#404040" stroke-width="0.45" fill="none"/>
<path d="M112.2,102.1 111.6,104.7 109.7,103.5 110.3,100.9Z" fill="#8a8a8a" stroke="#8a8a8a" stroke-width="0.3"/><path d="M112.2,102.1 L110.3,100.9 M111.6,104.7 L109.7,103.5" stroke="#4b4b4b" stroke-width="0.45" fill="none"/>
<path d="M110.3,101.1 109.8,103.2 107.0,102.4 107.5,100.3Z" fill="#aaaaaa" stroke="#aaaaaa" stroke-width="0.3"/><path d="M110.3,101.1 L107.5,100.3 M109.8,103.2 L107.0,102.4" stroke="#5d5d5d" stroke-width="0.45" fill="none"/>
<path d="M107.4,100.6 107.1,102.2 103.8,101.9 104.2,100.4Z" fill="#c3c3c3" stroke="#c3c3c3" stroke-width="0.3"/><path d="M107.4,100.6 L104.2,100.4 M107.1,102.2 L103.8,101.9" stroke="#6b6b6b" stroke-width="0.45" fill="none"/>
<path d="M142.8,83.4 142.4,87.7 145.0,88.8 145.5,84.5Z" fill="#808080" stroke="#808080" stroke-width="0.3"/><path d="M142.8,83.4 L145.5,84.5 M142.4,87.7 L145.0,88.8" stroke="#464646" stroke-width="0.45" fill="none"/>
<path d="M145.5,84.5 145.0,88.8 147.7,89.4 148.1,85.0Z" fill="#b80ab8" stroke="#b80ab8" stroke-width="0.3"/><path d="M145.5,84.5 L148.1,85.0 M145.0,88.8 L147.7,89.4" stroke="#650565" stroke-width="0.45" fill="none"/>
<path d="M140.6,81.9 140.2,86.2 142.4,87.7 142.8,83.4Z" fill="#727272" stroke="#727272" stroke-width="0.3"/><path d="M140.6,81.9 L142.8,83.4 M140.2,86.2 L142.4,87.7" stroke="#3e3e3e" stroke-width="0.45" fill="none"/>
<path d="M139.2,80.0 138.8,84.4 140.2,86.2 140.6,81.9Z" fill="#626262" stroke="#626262" stroke-width="0.3"/><path d="M139.2,80.0 L140.6,81.9 M138.8,84.4 L140.2,86.2" stroke="#353535" stroke-width="0.45" fill="none"/>
<path d="M148.1,85.0 147.7,89.4 149.9,89.4 150.3,85.1Z" fill="#b60ab6" stroke="#b60ab6" stroke-width="0.3"/><path d="M148.1,85.0 L150.3,85.1 M147.7,89.4 L149.9,89.4" stroke="#640564" stroke-width="0.45" fill="none"/>
<path d="M153.0,75.9 152.9,77.5 152.4,76.7 152.6,75.2Z" fill="#767676" stroke="#767676" stroke-width="0.3"/><path d="M153.0,75.9 L152.6,75.2 M152.9,77.5 L152.4,76.7" stroke="#404040" stroke-width="0.45" fill="none"/>
<path d="M138.8,78.1 138.3,82.4 138.8,84.4 139.2,80.0Z" fill="#595959" stroke="#595959" stroke-width="0.3"/><path d="M138.8,78.1 L139.2,80.0 M138.3,82.4 L138.8,84.4" stroke="#303030" stroke-width="0.45" fill="none"/>
<path d="M150.3,85.1 149.9,89.4 151.3,89.0 151.8,84.7Z" fill="#af0aaf" stroke="#af0aaf" stroke-width="0.3"/><path d="M150.3,85.1 L151.8,84.7 M149.9,89.4 L151.3,89.0" stroke="#600560" stroke-width="0.45" fill="none"/>
<path d="M142.2,93.3 141.8,97.4 144.5,98.4 144.9,94.3Z" fill="#818181" stroke="#818181" stroke-width="0.3"/><path d="M142.2,93.3 L144.9,94.3 M141.8,97.4 L144.5,98.4" stroke="#464646" stroke-width="0.45" fill="none"/>
<path d="M140.0,91.7 139.5,96.1 141.8,97.5 142.3,93.2Z" fill="#747474" stroke="#747474" stroke-width="0.3"/><path d="M140.0,91.7 L142.3,93.2 M139.5,96.1 L141.8,97.5" stroke="#3f3f3f" stroke-width="0.45" fill="none"/>
<path d="M139.4,76.2 139.0,80.6 138.3,82.4 138.8,78.1Z" fill="#a5a5a5" stroke="#a5a5a5" stroke-width="0.3"/><path d="M139.4,76.2 L138.8,78.1 M139.0,80.6 L138.3,82.4" stroke="#5a5a5a" stroke-width="0.45" fill="none"/>
<path d="M144.9,94.6 144.5,98.1 147.1,98.6 147.5,95.1Z" fill="#858585" stroke="#858585" stroke-width="0.3"/><path d="M144.9,94.6 L147.5,95.1 M144.5,98.1 L147.1,98.6" stroke="#494949" stroke-width="0.45" fill="none"/>
<path d="M152.6,75.0 152.4,77.0 150.9,76.3 151.1,74.3Z" fill="#868686" stroke="#868686" stroke-width="0.3"/><path d="M152.6,75.0 L151.1,74.3 M152.4,77.0 L150.9,76.3" stroke="#494949" stroke-width="0.45" fill="none"/>
<path d="M151.8,84.7 151.3,89.0 151.8,88.4 152.2,84.0Z" fill="#a50aa5" stroke="#a50aa5" stroke-width="0.3"/><path d="M151.8,84.7 L152.2,84.0 M151.3,89.0 L151.8,88.4" stroke="#5a055a" stroke-width="0.45" fill="none"/>
<path d="M138.4,89.9 138.0,94.3 139.5,96.1 140.0,91.7Z" fill="#646464" stroke="#646464" stroke-width="0.3"/><path d="M138.4,89.9 L140.0,91.7 M138.0,94.3 L139.5,96.1" stroke="#373737" stroke-width="0.45" fill="none"/>
<path d="M147.4,95.3 147.1,98.4 149.3,98.3 149.6,95.3Z" fill="#828282" stroke="#828282" stroke-width="0.3"/><path d="M147.4,95.3 L149.6,95.3 M147.1,98.4 L149.3,98.3" stroke="#474747" stroke-width="0.45" fill="none"/>
<path d="M141.0,74.7 140.6,79.0 139.0,80.6 139.4,76.2Z" fill="#bdbdbd" stroke="#bdbdbd" stroke-width="0.3"/><path d="M141.0,74.7 L139.4,76.2 M140.6,79.0 L139.0,80.6" stroke="#676767" stroke-width="0.45" fill="none"/>
<path d="M151.1,74.1 150.9,76.6 148.6,76.2 148.8,73.7Z" fill="#a6a6a6" stroke="#a6a6a6" stroke-width="0.3"/><path d="M151.1,74.1 L148.8,73.7 M150.9,76.6 L148.6,76.2" stroke="#5b5b5b" stroke-width="0.45" fill="none"/>
<path d="M137.8,88.0 137.4,92.3 138.0,94.3 138.4,89.9Z" fill="#595959" stroke="#595959" stroke-width="0.3"/><path d="M137.8,88.0 L138.4,89.9 M137.4,92.3 L138.0,94.3" stroke="#303030" stroke-width="0.45" fill="none"/>
<path d="M143.4,73.7 143.0,77.7 140.6,78.8 141.0,74.8Z" fill="#cbcbcb" stroke="#cbcbcb" stroke-width="0.3"/><path d="M143.4,73.7 L141.0,74.8 M143.0,77.7 L140.6,78.8" stroke="#6f6f6f" stroke-width="0.45" fill="none"/>
<path d="M152.2,84.0 151.8,88.4 151.2,87.6 151.6,83.3Z" fill="#ab0aab" stroke="#ab0aab" stroke-width="0.3"/><path d="M152.2,84.0 L151.6,83.3 M151.8,88.4 L151.2,87.6" stroke="#5e055e" stroke-width="0.45" fill="none"/>
<path d="M148.9,73.5 148.6,76.5 145.8,76.6 146.1,73.6Z" fill="#c2c2c2" stroke="#c2c2c2" stroke-width="0.3"/><path d="M148.9,73.5 L146.1,73.6 M148.6,76.5 L145.8,76.6" stroke="#6a6a6a" stroke-width="0.45" fill="none"/>
<path d="M146.2,73.3 145.8,76.8 143.0,77.5 143.4,73.9Z" fill="#cfcfcf" stroke="#cfcfcf" stroke-width="0.3"/><path d="M146.2,73.3 L143.4,73.9 M145.8,76.8 L143.0,77.5" stroke="#717171" stroke-width="0.45" fill="none"/>
<path d="M149.5,95.5 149.3,98.1 150.6,97.6 150.9,95.1Z" fill="#7a7a7a" stroke="#7a7a7a" stroke-width="0.3"/><path d="M149.5,95.5 L150.9,95.1 M149.3,98.1 L150.6,97.6" stroke="#434343" stroke-width="0.45" fill="none"/>
<path d="M138.3,86.1 137.9,90.4 137.4,92.3 137.8,88.0Z" fill="#a1a1a1" stroke="#a1a1a1" stroke-width="0.3"/><path d="M138.3,86.1 L137.8,88.0 M137.9,90.4 L137.4,92.3" stroke="#585858" stroke-width="0.45" fill="none"/>
<path d="M151.6,83.3 151.2,87.6 149.5,87.0 150.0,82.7Z" fill="#8b8b8b" stroke="#8b8b8b" stroke-width="0.3"/><path d="M151.6,83.3 L150.0,82.7 M151.2,87.6 L149.5,87.0" stroke="#4c4c4c" stroke-width="0.45" fill="none"/>
<path d="M150.8,95.4 150.6,97.4 150.9,96.7 151.1,94.7Z" fill="#6d6d6d" stroke="#6d6d6d" stroke-width="0.3"/><path d="M150.8,95.4 L151.1,94.7 M150.6,97.4 L150.9,96.7" stroke="#3b3b3b" stroke-width="0.45" fill="none"/>
<path d="M139.8,84.5 139.4,88.8 137.9,90.4 138.3,86.1Z" fill="#bababa" stroke="#bababa" stroke-width="0.3"/><path d="M139.8,84.5 L138.3,86.1 M139.4,88.8 L137.9,90.4" stroke="#666666" stroke-width="0.45" fill="none"/>
<path d="M150.0,82.7 149.5,87.0 147.2,86.7 147.6,82.4Z" fill="#ababab" stroke="#ababab" stroke-width="0.3"/><path d="M150.0,82.7 L147.6,82.4 M149.5,87.0 L147.2,86.7" stroke="#5e5e5e" stroke-width="0.45" fill="none"/>
<path d="M142.1,83.3 141.6,87.6 139.4,88.8 139.8,84.5Z" fill="#cacaca" stroke="#cacaca" stroke-width="0.3"/><path d="M142.1,83.3 L139.8,84.5 M141.6,87.6 L139.4,88.8" stroke="#6f6f6f" stroke-width="0.45" fill="none"/>
<path d="M147.6,82.4 147.2,86.7 144.4,86.9 144.8,82.6Z" fill="#c6c6c6" stroke="#c6c6c6" stroke-width="0.3"/><path d="M147.6,82.4 L144.8,82.6 M147.2,86.7 L144.4,86.9" stroke="#6c6c6c" stroke-width="0.45" fill="none"/>
<path d="M144.8,82.6 144.4,86.9 141.6,87.6 142.1,83.3Z" fill="#cfcfcf" stroke="#cfcfcf" stroke-width="0.3"/><path d="M144.8,82.6 L142.1,83.3 M144.4,86.9 L141.6,87.6" stroke="#717171" stroke-width="0.45" fill="none"/>
<path d="M151.1,94.9 150.9,96.4 150.1,95.7 150.3,94.2Z" fill="#767676" stroke="#767676" stroke-width="0.3"/><path d="M151.1,94.9 L150.3,94.2 M150.9,96.4 L150.1,95.7" stroke="#404040" stroke-width="0.45" fill="none"/>
<path d="M58.5,117.6 60.6,118.8 63.7,120.6 67.1,122.6 70.5,124.6 73.9,126.7 77.7,129.0 80.8,131.5 85.0,130.0 85.0,130.0 84.5,125.5 80.8,123.9 77.1,121.6 73.5,119.4 70.2,117.4 66.7,115.4 63.6,113.6 61.5,112.4Z" fill="#8a8a8a" stroke="#4d4d4d" stroke-width="0.45" stroke-linejoin="round"/>
<path d="M72.6,114.1 74.4,115.3 77.0,117.1 79.8,119.1 82.5,121.0 85.2,123.1 88.1,125.4 90.6,127.4 94.0,127.0 94.0,127.0 93.8,123.6 91.2,121.5 88.3,119.2 85.5,117.0 82.7,115.0 79.8,112.9 77.2,111.2 75.4,109.9Z" fill="#9c9c9c" stroke="#555" stroke-width="0.45" stroke-linejoin="round"/>
<path d="M87.3,129.8 88.6,128.9 90.4,127.6 92.4,126.2 94.3,124.8 96.2,123.5 99.0,123.1 99.6,120.1 100.0,118.0 100.0,118.0 97.9,117.7 94.8,117.3 93.6,119.8 91.7,121.2 89.8,122.5 87.8,124.0 86.0,125.3 84.7,126.2Z" fill="#a0a0a0" stroke="#606060" stroke-width="0.45" stroke-linejoin="round"/>
<path d="M83.6,140.8 85.6,138.9 88.4,136.3 91.6,133.4 94.6,130.8 97.5,128.3 100.7,125.7 103.6,123.6 104.0,120.0 104.0,120.0 100.4,119.6 97.7,122.0 94.5,124.6 91.4,127.2 88.4,129.9 85.2,132.8 82.3,135.4 80.4,137.2Z" fill="#d0d0d0" stroke="#808080" stroke-width="0.45" stroke-linejoin="round"/>
<path d="M56.5,118.0 57.8,118.9 59.6,120.2 61.6,121.7 63.5,123.0 65.5,124.4 66.6,127.1 69.8,126.4 72.0,126.0 72.0,126.0 71.7,123.8 71.3,120.6 68.4,120.3 66.5,119.0 64.5,117.6 62.5,116.2 60.7,114.9 59.5,114.0Z" fill="#6e6e6e" stroke="#404040" stroke-width="0.45" stroke-linejoin="round"/>
<path d="M62.9,130.2 64.7,131.1 67.3,132.4 70.1,133.9 72.9,135.2 75.6,136.6 78.5,138.0 81.2,139.0 84.0,138.0 84.0,138.0 83.2,135.2 80.7,133.6 77.9,132.1 75.1,130.8 72.4,129.4 69.5,128.0 66.9,126.7 65.1,125.8Z" fill="#a6a6a6" stroke="#5a5a5a" stroke-width="0.45" stroke-linejoin="round"/>
<path d="M68.6,142.2 70.4,141.6 73.0,140.9 75.9,140.0 78.7,139.1 81.5,138.1 84.5,136.9 86.9,135.5 88.0,133.0 88.0,133.0 85.5,132.0 82.8,132.7 79.9,133.9 77.3,134.9 74.6,135.7 71.7,136.6 69.2,137.3 67.4,137.8Z" fill="#b8b8b8" stroke="#666" stroke-width="0.45" stroke-linejoin="round"/>
<path d="M59.3,109.9 61.1,110.6 63.6,111.6 66.5,112.8 69.3,113.9 72.0,115.0 74.9,116.1 77.6,116.8 80.0,116.0 80.0,116.0 78.8,113.8 76.4,112.4 73.5,111.2 70.7,110.1 68.0,109.0 65.1,107.9 62.5,106.9 60.7,106.1Z" fill="#909090" stroke="#505050" stroke-width="0.45" stroke-linejoin="round"/>
<path d="M68,124 74,127 73,131 68,130Z" fill="#e81ee8" stroke="#c010c0" stroke-width="0.4"/>
<path d="M90,102 97,103 98,109 91,109Z" fill="#e81ee8" stroke="#c010c0" stroke-width="0.4"/>
<path d="M75.5,164.0 78.1,162.0 81.7,159.2 85.7,156.0 89.5,153.0 93.4,150.0 97.4,146.8 101.6,144.6 102.0,140.0 102.0,140.0 97.4,139.3 94.3,142.8 90.3,146.0 86.5,149.0 82.6,152.0 78.6,155.2 75.0,158.1 72.5,160.0Z" fill="#c4c4c4" stroke="#707070" stroke-width="0.45" stroke-linejoin="round"/>
<path d="M77.5,169.0 80.0,167.2 83.6,164.7 87.6,161.8 91.5,159.0 95.3,156.3 99.3,153.4 103.4,151.5 104.0,147.0 104.0,147.0 99.6,146.1 96.4,149.3 92.4,152.2 88.5,155.0 84.7,157.7 80.7,160.6 77.1,163.2 74.5,165.0Z" fill="#b4b4b4" stroke="#6a6a6a" stroke-width="0.45" stroke-linejoin="round"/>
<path d="M81.3,172.9 83.4,171.4 86.5,169.3 90.0,167.0 93.2,164.9 96.4,163.0 99.9,160.9 103.0,159.3 104.0,156.0 104.0,156.0 100.7,155.2 97.6,157.1 94.1,159.1 90.8,161.1 87.5,163.2 84.0,165.6 80.9,167.7 78.7,169.1Z" fill="#a8a8a8" stroke="#666" stroke-width="0.45" stroke-linejoin="round"/>
<path d="M71.0,152.0 73.2,150.9 76.3,149.4 79.7,147.7 83.0,146.0 86.3,144.4 89.8,142.6 92.9,141.1 94.0,138.0 94.0,138.0 90.8,137.0 87.7,138.6 84.3,140.3 81.0,142.0 77.7,143.6 74.2,145.4 71.2,146.9 69.0,148.0Z" fill="#9a9a9a" stroke="#5a5a5a" stroke-width="0.45" stroke-linejoin="round"/>
<path d="M89,154 95,153 96,162 90,163Z" fill="#2d2dd8" stroke="#12129a" stroke-width="0.4"/>
<path d="M90.0,142.0 L90.7,142.2 L91.6,142.5 L92.6,142.9 L93.8,143.3 L94.9,143.6 L96.0,144.0 L97.0,144.3 L98.1,144.5 L99.1,144.8 L100.1,145.0 L101.1,145.4 L102.0,146.0 L102.8,146.8 L103.6,147.9 L104.4,149.1 L105.0,150.3 L105.6,151.3 L106.0,152.0" fill="none" stroke="#c010c0" stroke-width="1.90" stroke-linecap="round" stroke-linejoin="round"/><path d="M90.0,142.0 L90.7,142.2 L91.6,142.5 L92.6,142.9 L93.8,143.3 L94.9,143.6 L96.0,144.0 L97.0,144.3 L98.1,144.5 L99.1,144.8 L100.1,145.0 L101.1,145.4 L102.0,146.0 L102.8,146.8 L103.6,147.9 L104.4,149.1 L105.0,150.3 L105.6,151.3 L106.0,152.0" fill="none" stroke="#f040f0" stroke-width="0.80" stroke-linecap="round" stroke-linejoin="round"/>
<path d="M98.0,158.0 L98.4,158.2 L99.1,158.5 L99.8,158.8 L100.6,159.2 L101.3,159.6 L102.0,160.0 L102.6,160.5 L103.2,161.0 L103.8,161.6 L104.3,162.2 L104.7,162.7 L105.0,163.0" fill="none" stroke="#c010c0" stroke-width="1.70" stroke-linecap="round" stroke-linejoin="round"/><path d="M98.0,158.0 L98.4,158.2 L99.1,158.5 L99.8,158.8 L100.6,159.2 L101.3,159.6 L102.0,160.0 L102.6,160.5 L103.2,161.0 L103.8,161.6 L104.3,162.2 L104.7,162.7 L105.0,163.0" fill="none" stroke="#f040f0" stroke-width="0.70" stroke-linecap="round" stroke-linejoin="round"/>
<path d="M62.0,164.0 L62.7,164.1 L63.6,164.2 L64.6,164.3 L65.8,164.5 L66.9,164.7 L68.0,165.0 L69.1,165.4 L70.2,166.0 L71.4,166.6 L72.4,167.1 L73.3,167.7 L74.0,168.0" fill="none" stroke="#c010c0" stroke-width="2.10" stroke-linecap="round" stroke-linejoin="round"/><path d="M62.0,164.0 L62.7,164.1 L63.6,164.2 L64.6,164.3 L65.8,164.5 L66.9,164.7 L68.0,165.0 L69.1,165.4 L70.2,166.0 L71.4,166.6 L72.4,167.1 L73.3,167.7 L74.0,168.0" fill="none" stroke="#f040f0" stroke-width="0.90" stroke-linecap="round" stroke-linejoin="round"/>
<path d="M50.5,115.9 52.3,123.2 55.8,123.5 54.0,116.2Z" fill="#848484" stroke="#848484" stroke-width="0.3"/><path d="M50.5,115.9 L54.0,116.2 M52.3,123.2 L55.8,123.5" stroke="#484848" stroke-width="0.45" fill="none"/>
<path d="M54.0,116.2 55.8,123.5 59.1,123.3 57.3,116.0Z" fill="#868686" stroke="#868686" stroke-width="0.3"/><path d="M54.0,116.2 L57.3,116.0 M55.8,123.5 L59.1,123.3" stroke="#494949" stroke-width="0.45" fill="none"/>
<path d="M47.3,115.0 49.1,122.3 52.3,123.2 50.5,115.9Z" fill="#787878" stroke="#787878" stroke-width="0.3"/><path d="M47.3,115.0 L50.5,115.9 M49.1,122.3 L52.3,123.2" stroke="#424242" stroke-width="0.45" fill="none"/>
<path d="M57.3,116.0 59.1,123.3 61.7,123.0 59.9,115.7Z" fill="#7e7e7e" stroke="#7e7e7e" stroke-width="0.3"/><path d="M57.3,116.0 L59.9,115.7 M59.1,123.3 L61.7,123.0" stroke="#454545" stroke-width="0.45" fill="none"/>
<path d="M44.9,113.7 46.7,121.0 49.1,122.3 47.3,115.0Z" fill="#696969" stroke="#696969" stroke-width="0.3"/><path d="M44.9,113.7 L47.3,115.0 M46.7,121.0 L49.1,122.3" stroke="#393939" stroke-width="0.45" fill="none"/>
<path d="M43.7,111.9 45.4,119.2 46.7,121.0 44.9,113.7Z" fill="#5a5a5a" stroke="#5a5a5a" stroke-width="0.3"/><path d="M43.7,111.9 L44.9,113.7 M45.4,119.2 L46.7,121.0" stroke="#313131" stroke-width="0.45" fill="none"/>
<path d="M59.9,115.7 61.7,123.0 63.3,122.5 61.5,115.2Z" fill="#747474" stroke="#747474" stroke-width="0.3"/><path d="M59.9,115.7 L61.5,115.2 M61.7,123.0 L63.3,122.5" stroke="#3f3f3f" stroke-width="0.45" fill="none"/>
<path d="M59.0,102.7 59.6,105.3 58.9,105.3 58.3,102.7Z" fill="#767676" stroke="#767676" stroke-width="0.3"/><path d="M59.0,102.7 L58.3,102.7 M59.6,105.3 L58.9,105.3" stroke="#404040" stroke-width="0.45" fill="none"/>
<path d="M54.8,130.6 56.5,137.9 60.0,138.1 58.3,130.8Z" fill="#858585" stroke="#858585" stroke-width="0.3"/><path d="M54.8,130.6 L58.3,130.8 M56.5,137.9 L60.0,138.1" stroke="#494949" stroke-width="0.45" fill="none"/>
<path d="M51.5,129.9 53.2,137.2 56.5,137.9 54.8,130.6Z" fill="#7b7b7b" stroke="#7b7b7b" stroke-width="0.3"/><path d="M51.5,129.9 L54.8,130.6 M53.2,137.2 L56.5,137.9" stroke="#434343" stroke-width="0.45" fill="none"/>
<path d="M58.3,130.8 60.0,138.1 63.2,137.9 61.5,130.6Z" fill="#858585" stroke="#858585" stroke-width="0.3"/><path d="M58.3,130.8 L61.5,130.6 M60.0,138.1 L63.2,137.9" stroke="#494949" stroke-width="0.45" fill="none"/>
<path d="M48.9,128.6 50.6,135.9 53.2,137.2 51.5,129.9Z" fill="#6d6d6d" stroke="#6d6d6d" stroke-width="0.3"/><path d="M48.9,128.6 L51.5,129.9 M50.6,135.9 L53.2,137.2" stroke="#3b3b3b" stroke-width="0.45" fill="none"/>
<path d="M43.7,109.7 45.4,117.0 45.4,119.2 43.7,111.9Z" fill="#959595" stroke="#959595" stroke-width="0.3"/><path d="M43.7,109.7 L43.7,111.9 M45.4,117.0 L45.4,119.2" stroke="#515151" stroke-width="0.45" fill="none"/>
<path d="M61.5,115.2 63.3,122.5 63.6,122.2 61.9,114.9Z" fill="#666666" stroke="#666666" stroke-width="0.3"/><path d="M61.5,115.2 L61.9,114.9 M63.3,122.5 L63.6,122.2" stroke="#383838" stroke-width="0.45" fill="none"/>
<path d="M61.5,130.6 63.2,137.9 65.6,137.5 63.9,130.2Z" fill="#7c7c7c" stroke="#7c7c7c" stroke-width="0.3"/><path d="M61.5,130.6 L63.9,130.2 M63.2,137.9 L65.6,137.5" stroke="#444444" stroke-width="0.45" fill="none"/>
<path d="M58.2,102.3 59.0,105.7 57.1,106.1 56.3,102.8Z" fill="#949494" stroke="#949494" stroke-width="0.3"/><path d="M58.2,102.3 L56.3,102.8 M59.0,105.7 L57.1,106.1" stroke="#515151" stroke-width="0.45" fill="none"/>
<path d="M47.3,126.9 49.1,134.2 50.6,135.9 48.9,128.6Z" fill="#5d5d5d" stroke="#5d5d5d" stroke-width="0.3"/><path d="M47.3,126.9 L48.9,128.6 M49.1,134.2 L50.6,135.9" stroke="#333333" stroke-width="0.45" fill="none"/>
<path d="M45.0,107.5 46.7,114.7 45.4,116.9 43.7,109.8Z" fill="#afafaf" stroke="#afafaf" stroke-width="0.3"/><path d="M45.0,107.5 L43.7,109.8 M46.7,114.7 L45.4,116.9" stroke="#606060" stroke-width="0.45" fill="none"/>
<path d="M59.0,145.3 60.8,152.6 64.3,152.7 62.5,145.4Z" fill="#868686" stroke="#868686" stroke-width="0.3"/><path d="M59.0,145.3 L62.5,145.4 M60.8,152.6 L64.3,152.7" stroke="#494949" stroke-width="0.45" fill="none"/>
<path d="M63.9,130.2 65.6,137.5 67.0,137.1 65.2,129.8Z" fill="#717171" stroke="#717171" stroke-width="0.3"/><path d="M63.9,130.2 L65.2,129.8 M65.6,137.5 L67.0,137.1" stroke="#3e3e3e" stroke-width="0.45" fill="none"/>
<path d="M56.2,102.4 57.2,106.5 54.6,107.5 53.6,103.4Z" fill="#b1b1b1" stroke="#b1b1b1" stroke-width="0.3"/><path d="M56.2,102.4 L53.6,103.4 M57.2,106.5 L54.6,107.5" stroke="#616161" stroke-width="0.45" fill="none"/>
<path d="M55.6,144.7 57.4,152.0 60.8,152.6 59.0,145.3Z" fill="#7e7e7e" stroke="#7e7e7e" stroke-width="0.3"/><path d="M55.6,144.7 L59.0,145.3 M57.4,152.0 L60.8,152.6" stroke="#454545" stroke-width="0.45" fill="none"/>
<path d="M61.9,114.9 63.6,122.2 62.7,122.3 60.9,115.0Z" fill="#af0aaf" stroke="#af0aaf" stroke-width="0.3"/><path d="M61.9,114.9 L60.9,115.0 M63.6,122.2 L62.7,122.3" stroke="#600560" stroke-width="0.45" fill="none"/>
<path d="M47.4,105.6 48.9,112.1 46.6,114.3 45.1,107.9Z" fill="#c3c3c3" stroke="#c3c3c3" stroke-width="0.3"/><path d="M47.4,105.6 L45.1,107.9 M48.9,112.1 L46.6,114.3" stroke="#6b6b6b" stroke-width="0.45" fill="none"/>
<path d="M62.5,145.4 64.3,152.7 67.3,152.4 65.6,145.1Z" fill="#838383" stroke="#838383" stroke-width="0.3"/><path d="M62.5,145.4 L65.6,145.1 M64.3,152.7 L67.3,152.4" stroke="#484848" stroke-width="0.45" fill="none"/>
<path d="M47.1,124.8 48.8,132.1 49.1,134.2 47.3,126.9Z" fill="#8e8e8e" stroke="#8e8e8e" stroke-width="0.3"/><path d="M47.1,124.8 L47.3,126.9 M48.8,132.1 L49.1,134.2" stroke="#4e4e4e" stroke-width="0.45" fill="none"/>
<path d="M52.9,143.6 54.6,150.9 57.4,152.0 55.6,144.7Z" fill="#707070" stroke="#707070" stroke-width="0.3"/><path d="M52.9,143.6 L55.6,144.7 M54.6,150.9 L57.4,152.0" stroke="#3d3d3d" stroke-width="0.45" fill="none"/>
<path d="M53.5,103.0 54.7,107.8 51.6,109.3 50.4,104.5Z" fill="#cbcbcb" stroke="#cbcbcb" stroke-width="0.3"/><path d="M53.5,103.0 L50.4,104.5 M54.7,107.8 L51.6,109.3" stroke="#6f6f6f" stroke-width="0.45" fill="none"/>
<path d="M50.4,104.1 51.7,109.7 48.8,111.7 47.4,106.0Z" fill="#d1d1d1" stroke="#d1d1d1" stroke-width="0.3"/><path d="M50.4,104.1 L47.4,106.0 M51.7,109.7 L48.8,111.7" stroke="#727272" stroke-width="0.45" fill="none"/>
<path d="M65.6,145.1 67.3,152.4 69.5,152.0 67.8,144.7Z" fill="#7a7a7a" stroke="#7a7a7a" stroke-width="0.3"/><path d="M65.6,145.1 L67.8,144.7 M67.3,152.4 L69.5,152.0" stroke="#434343" stroke-width="0.45" fill="none"/>
<path d="M65.2,129.8 67.0,137.1 67.0,136.8 65.3,129.5Z" fill="#636363" stroke="#636363" stroke-width="0.3"/><path d="M65.2,129.8 L65.3,129.5 M67.0,137.1 L67.0,136.8" stroke="#363636" stroke-width="0.45" fill="none"/>
<path d="M51.1,141.9 52.8,149.2 54.6,150.9 52.9,143.6Z" fill="#616161" stroke="#616161" stroke-width="0.3"/><path d="M51.1,141.9 L52.9,143.6 M52.8,149.2 L54.6,150.9" stroke="#353535" stroke-width="0.45" fill="none"/>
<path d="M60.9,115.0 62.7,122.3 60.6,122.9 58.9,115.6Z" fill="#ca0aca" stroke="#ca0aca" stroke-width="0.3"/><path d="M60.9,115.0 L58.9,115.6 M62.7,122.3 L60.6,122.9" stroke="#6f056f" stroke-width="0.45" fill="none"/>
<path d="M48.1,122.5 49.9,129.8 48.8,132.1 47.1,124.8Z" fill="#aaaaaa" stroke="#aaaaaa" stroke-width="0.3"/><path d="M48.1,122.5 L47.1,124.8 M49.9,129.8 L48.8,132.1" stroke="#5d5d5d" stroke-width="0.45" fill="none"/>
<path d="M58.9,115.6 60.6,122.9 57.8,124.0 56.1,116.7Z" fill="#b8b8b8" stroke="#b8b8b8" stroke-width="0.3"/><path d="M58.9,115.6 L56.1,116.7 M60.6,122.9 L57.8,124.0" stroke="#656565" stroke-width="0.45" fill="none"/>
<path d="M50.2,120.3 51.9,127.6 49.9,129.8 48.1,122.5Z" fill="#bfbfbf" stroke="#bfbfbf" stroke-width="0.3"/><path d="M50.2,120.3 L48.1,122.5 M51.9,127.6 L49.9,129.8" stroke="#696969" stroke-width="0.45" fill="none"/>
<path d="M67.8,144.7 69.5,152.0 70.6,151.6 68.8,144.3Z" fill="#6f6f6f" stroke="#6f6f6f" stroke-width="0.3"/><path d="M67.8,144.7 L68.8,144.3 M69.5,152.0 L70.6,151.6" stroke="#3d3d3d" stroke-width="0.45" fill="none"/>
<path d="M50.5,139.9 52.3,147.2 52.8,149.2 51.1,141.9Z" fill="#595959" stroke="#595959" stroke-width="0.3"/><path d="M50.5,139.9 L51.1,141.9 M52.3,147.2 L52.8,149.2" stroke="#303030" stroke-width="0.45" fill="none"/>
<path d="M65.3,129.5 67.0,136.8 65.8,137.0 64.0,129.7Z" fill="#828282" stroke="#828282" stroke-width="0.3"/><path d="M65.3,129.5 L64.0,129.7 M67.0,136.8 L65.8,137.0" stroke="#474747" stroke-width="0.45" fill="none"/>
<path d="M56.1,116.7 57.8,124.0 54.8,125.6 53.0,118.3Z" fill="#cecece" stroke="#cecece" stroke-width="0.3"/><path d="M56.1,116.7 L53.0,118.3 M57.8,124.0 L54.8,125.6" stroke="#717171" stroke-width="0.45" fill="none"/>
<path d="M53.0,118.3 54.8,125.6 51.9,127.6 50.2,120.3Z" fill="#cfcfcf" stroke="#cfcfcf" stroke-width="0.3"/><path d="M53.0,118.3 L50.2,120.3 M54.8,125.6 L51.9,127.6" stroke="#717171" stroke-width="0.45" fill="none"/>
<path d="M51.3,137.6 53.0,144.9 52.3,147.2 50.5,139.9Z" fill="#a5a5a5" stroke="#a5a5a5" stroke-width="0.3"/><path d="M51.3,137.6 L50.5,139.9 M53.0,144.9 L52.3,147.2" stroke="#5a5a5a" stroke-width="0.45" fill="none"/>
<path d="M68.9,144.4 70.6,151.5 70.3,151.4 68.6,144.2Z" fill="#767676" stroke="#767676" stroke-width="0.3"/><path d="M68.9,144.4 L68.6,144.2 M70.6,151.5 L70.3,151.4" stroke="#404040" stroke-width="0.45" fill="none"/>
<path d="M64.0,129.7 65.8,137.0 63.6,137.7 61.8,130.4Z" fill="#a1a1a1" stroke="#a1a1a1" stroke-width="0.3"/><path d="M64.0,129.7 L61.8,130.4 M65.8,137.0 L63.6,137.7" stroke="#585858" stroke-width="0.45" fill="none"/>
<path d="M53.2,135.4 54.9,142.7 53.0,144.9 51.3,137.6Z" fill="#bbbbbb" stroke="#bbbbbb" stroke-width="0.3"/><path d="M53.2,135.4 L51.3,137.6 M54.9,142.7 L53.0,144.9" stroke="#666666" stroke-width="0.45" fill="none"/>
<path d="M61.8,130.4 63.6,137.7 60.7,138.9 58.9,131.6Z" fill="#bebebe" stroke="#bebebe" stroke-width="0.3"/><path d="M61.8,130.4 L58.9,131.6 M63.6,137.7 L60.7,138.9" stroke="#686868" stroke-width="0.45" fill="none"/>
<path d="M55.9,133.3 57.6,140.6 54.9,142.7 53.2,135.4Z" fill="#cccccc" stroke="#cccccc" stroke-width="0.3"/><path d="M55.9,133.3 L53.2,135.4 M57.6,140.6 L54.9,142.7" stroke="#707070" stroke-width="0.45" fill="none"/>
<path d="M58.9,131.6 60.7,138.9 57.6,140.6 55.9,133.3Z" fill="#d0d0d0" stroke="#d0d0d0" stroke-width="0.3"/><path d="M58.9,131.6 L55.9,133.3 M60.7,138.9 L57.6,140.6" stroke="#727272" stroke-width="0.45" fill="none"/>
<path d="M68.7,144.6 70.3,151.0 68.8,151.3 67.3,144.9Z" fill="#898989" stroke="#898989" stroke-width="0.3"/><path d="M68.7,144.6 L67.3,144.9 M70.3,151.0 L68.8,151.3" stroke="#4b4b4b" stroke-width="0.45" fill="none"/>
<path d="M67.3,145.2 68.7,150.9 66.3,151.7 64.9,146.0Z" fill="#a7a7a7" stroke="#a7a7a7" stroke-width="0.3"/><path d="M67.3,145.2 L64.9,146.0 M68.7,150.9 L66.3,151.7" stroke="#5b5b5b" stroke-width="0.45" fill="none"/>
<path d="M56.8,152.8 57.4,155.4 55.7,157.7 55.1,155.1Z" fill="#b7b7b7" stroke="#b7b7b7" stroke-width="0.3"/><path d="M56.8,152.8 L55.1,155.1 M57.4,155.4 L55.7,157.7" stroke="#646464" stroke-width="0.45" fill="none"/>
<path d="M65.0,146.4 66.2,151.3 63.2,152.6 62.1,147.7Z" fill="#c3c3c3" stroke="#c3c3c3" stroke-width="0.3"/><path d="M65.0,146.4 L62.1,147.7 M66.2,151.3 L63.2,152.6" stroke="#6b6b6b" stroke-width="0.45" fill="none"/>
<path d="M59.2,150.3 60.0,153.6 57.5,155.8 56.7,152.4Z" fill="#c9c9c9" stroke="#c9c9c9" stroke-width="0.3"/><path d="M59.2,150.3 L56.7,152.4 M60.0,153.6 L57.5,155.8" stroke="#6e6e6e" stroke-width="0.45" fill="none"/>
<path d="M62.1,148.1 63.1,152.2 60.1,154.0 59.1,149.9Z" fill="#d1d1d1" stroke="#d1d1d1" stroke-width="0.3"/><path d="M62.1,148.1 L59.1,149.9 M63.1,152.2 L60.1,154.0" stroke="#727272" stroke-width="0.45" fill="none"/>
<path d="M36.7,137.2 38.2,137.4 40.2,137.7 42.5,138.0 44.7,138.2 46.9,138.5 49.1,139.9 51.4,138.2 53.0,137.0 53.0,137.0 51.7,135.4 49.9,133.2 47.5,134.0 45.3,133.8 43.1,133.5 40.8,133.2 38.7,132.9 37.3,132.8Z" fill="#6a6a6a" stroke="#3a3a3a" stroke-width="0.45" stroke-linejoin="round"/>
<path d="M27.2,148.0 28.5,147.8 30.3,147.6 32.4,147.3 34.4,147.0 36.4,146.5 38.7,146.5 40.1,144.5 41.0,143.0 41.0,143.0 39.4,142.3 37.2,141.3 35.4,142.6 33.6,143.0 31.8,143.4 29.8,143.6 28.0,143.9 26.8,144.0Z" fill="#9a9a9a" stroke="#555" stroke-width="0.45" stroke-linejoin="round"/>
<path d="M28.7,150.2 30.0,150.4 31.7,150.6 33.7,150.9 35.6,151.2 37.6,151.7 39.6,153.5 42.2,152.0 44.0,151.0 44.0,151.0 42.9,149.2 41.3,146.7 38.6,147.3 36.4,146.8 34.4,146.4 32.3,146.1 30.5,145.9 29.3,145.8Z" fill="#707070" stroke="#404040" stroke-width="0.45" stroke-linejoin="round"/>
<path d="M40.7,155.8 39.6,155.9 38.1,156.2 36.3,156.4 34.5,156.8 32.6,157.3 30.2,157.1 28.9,159.4 28.0,161.0 28.0,161.0 29.6,161.8 32.0,163.1 33.8,161.6 35.5,161.2 37.1,160.9 38.8,160.6 40.3,160.4 41.3,160.2Z" fill="#9a9a9a" stroke="#555" stroke-width="0.45" stroke-linejoin="round"/>
<path d="M33.0,131.0 L33.3,131.1 L33.7,131.2 L34.2,131.4 L34.8,131.6 L35.4,131.8 L36.0,132.0 L36.7,132.3 L37.4,132.7 L38.2,133.1 L38.9,133.4 L39.6,133.8 L40.0,134.0" fill="none" stroke="#c010c0" stroke-width="1.60" stroke-linecap="round" stroke-linejoin="round"/><path d="M33.0,131.0 L33.3,131.1 L33.7,131.2 L34.2,131.4 L34.8,131.6 L35.4,131.8 L36.0,132.0 L36.7,132.3 L37.4,132.7 L38.2,133.1 L38.9,133.4 L39.6,133.8 L40.0,134.0" fill="none" stroke="#f040f0" stroke-width="0.65" stroke-linecap="round" stroke-linejoin="round"/>
<path d="M51.0,124.0 L51.3,124.2 L51.8,124.5 L52.4,124.9 L53.0,125.3 L53.5,125.6 L54.0,126.0 L54.4,126.4 L54.8,126.7 L55.2,127.1 L55.5,127.5 L55.8,127.8 L56.0,128.0" fill="none" stroke="#c010c0" stroke-width="1.70" stroke-linecap="round" stroke-linejoin="round"/><path d="M51.0,124.0 L51.3,124.2 L51.8,124.5 L52.4,124.9 L53.0,125.3 L53.5,125.6 L54.0,126.0 L54.4,126.4 L54.8,126.7 L55.2,127.1 L55.5,127.5 L55.8,127.8 L56.0,128.0" fill="none" stroke="#f040f0" stroke-width="0.70" stroke-linecap="round" stroke-linejoin="round"/>
<path d="M127.2,117.8 128.6,120.7 131.2,120.2 129.8,117.4Z" fill="#838383" stroke="#838383" stroke-width="0.3"/><path d="M127.2,117.8 L129.8,117.4 M128.6,120.7 L131.2,120.2" stroke="#484848" stroke-width="0.45" fill="none"/>
<path d="M124.7,117.5 126.1,120.3 128.6,120.7 127.2,117.8Z" fill="#7b7b7b" stroke="#7b7b7b" stroke-width="0.3"/><path d="M124.7,117.5 L127.2,117.8 M126.1,120.3 L128.6,120.7" stroke="#434343" stroke-width="0.45" fill="none"/>
<path d="M131.6,106.6 132.1,107.6 131.0,106.6 130.5,105.6Z" fill="#818181" stroke="#818181" stroke-width="0.3"/><path d="M131.6,106.6 L130.5,105.6 M132.1,107.6 L131.0,106.6" stroke="#464646" stroke-width="0.45" fill="none"/>
<path d="M129.8,117.4 131.2,120.2 133.4,119.2 132.0,116.4Z" fill="#b60ab6" stroke="#b60ab6" stroke-width="0.3"/><path d="M129.8,117.4 L132.0,116.4 M131.2,120.2 L133.4,119.2" stroke="#640564" stroke-width="0.45" fill="none"/>
<path d="M122.5,116.4 123.9,119.2 126.1,120.3 124.7,117.5Z" fill="#6e6e6e" stroke="#6e6e6e" stroke-width="0.3"/><path d="M122.5,116.4 L124.7,117.5 M123.9,119.2 L126.1,120.3" stroke="#3c3c3c" stroke-width="0.45" fill="none"/>
<path d="M132.0,116.4 133.4,119.2 135.0,117.7 133.6,114.9Z" fill="#b10ab1" stroke="#b10ab1" stroke-width="0.3"/><path d="M132.0,116.4 L133.6,114.9 M133.4,119.2 L135.0,117.7" stroke="#610561" stroke-width="0.45" fill="none"/>
<path d="M121.1,114.7 122.5,117.5 123.9,119.2 122.5,116.4Z" fill="#5f5f5f" stroke="#5f5f5f" stroke-width="0.3"/><path d="M121.1,114.7 L122.5,116.4 M122.5,117.5 L123.9,119.2" stroke="#343434" stroke-width="0.45" fill="none"/>
<path d="M130.4,105.5 131.1,106.8 129.3,106.4 128.7,105.1Z" fill="#a1a1a1" stroke="#a1a1a1" stroke-width="0.3"/><path d="M130.4,105.5 L128.7,105.1 M131.1,106.8 L129.3,106.4" stroke="#585858" stroke-width="0.45" fill="none"/>
<path d="M133.6,114.9 135.0,117.7 135.8,116.1 134.4,113.3Z" fill="#a70aa7" stroke="#a70aa7" stroke-width="0.3"/><path d="M133.6,114.9 L134.4,113.3 M135.0,117.7 L135.8,116.1" stroke="#5b055b" stroke-width="0.45" fill="none"/>
<path d="M120.5,112.4 121.9,115.3 122.5,117.5 121.1,114.7Z" fill="#8c8c8c" stroke="#8c8c8c" stroke-width="0.3"/><path d="M120.5,112.4 L121.1,114.7 M121.9,115.3 L122.5,117.5" stroke="#4d4d4d" stroke-width="0.45" fill="none"/>
<path d="M128.6,105.0 129.4,106.6 127.3,107.0 126.5,105.4Z" fill="#bababa" stroke="#bababa" stroke-width="0.3"/><path d="M128.6,105.0 L126.5,105.4 M129.4,106.6 L127.3,107.0" stroke="#666666" stroke-width="0.45" fill="none"/>
<path d="M120.9,110.1 122.3,112.9 121.9,115.3 120.5,112.4Z" fill="#aaaaaa" stroke="#aaaaaa" stroke-width="0.3"/><path d="M120.9,110.1 L120.5,112.4 M122.3,112.9 L121.9,115.3" stroke="#5d5d5d" stroke-width="0.45" fill="none"/>
<path d="M126.4,105.2 127.4,107.2 125.2,108.4 124.2,106.4Z" fill="#c9c9c9" stroke="#c9c9c9" stroke-width="0.3"/><path d="M126.4,105.2 L124.2,106.4 M127.4,107.2 L125.2,108.4" stroke="#6e6e6e" stroke-width="0.45" fill="none"/>
<path d="M134.4,113.3 135.8,116.1 135.6,114.7 134.2,111.9Z" fill="#9a0a9a" stroke="#9a0a9a" stroke-width="0.3"/><path d="M134.4,113.3 L134.2,111.9 M135.8,116.1 L135.6,114.7" stroke="#540554" stroke-width="0.45" fill="none"/>
<path d="M122.2,107.9 123.5,110.5 122.2,112.8 120.9,110.2Z" fill="#c0c0c0" stroke="#c0c0c0" stroke-width="0.3"/><path d="M122.2,107.9 L120.9,110.2 M123.5,110.5 L122.2,112.8" stroke="#696969" stroke-width="0.45" fill="none"/>
<path d="M124.1,106.3 125.2,108.5 123.4,110.4 122.2,108.1Z" fill="#cccccc" stroke="#cccccc" stroke-width="0.3"/><path d="M124.1,106.3 L122.2,108.1 M125.2,108.5 L123.4,110.4" stroke="#707070" stroke-width="0.45" fill="none"/>
<path d="M130.4,124.1 131.8,126.9 134.4,126.4 133.0,123.6Z" fill="#838383" stroke="#838383" stroke-width="0.3"/><path d="M130.4,124.1 L133.0,123.6 M131.8,126.9 L134.4,126.4" stroke="#484848" stroke-width="0.45" fill="none"/>
<path d="M127.8,123.8 129.3,126.6 131.8,126.9 130.4,124.1Z" fill="#7b7b7b" stroke="#7b7b7b" stroke-width="0.3"/><path d="M127.8,123.8 L130.4,124.1 M129.3,126.6 L131.8,126.9" stroke="#434343" stroke-width="0.45" fill="none"/>
<path d="M134.2,111.9 135.6,114.7 134.5,113.7 133.1,110.9Z" fill="#b50ab5" stroke="#b50ab5" stroke-width="0.3"/><path d="M134.2,111.9 L133.1,110.9 M135.6,114.7 L134.5,113.7" stroke="#630563" stroke-width="0.45" fill="none"/>
<path d="M133.0,123.6 134.4,126.4 136.6,125.4 135.2,122.6Z" fill="#838383" stroke="#838383" stroke-width="0.3"/><path d="M133.0,123.6 L135.2,122.6 M134.4,126.4 L136.6,125.4" stroke="#484848" stroke-width="0.45" fill="none"/>
<path d="M125.7,122.7 127.1,125.5 129.3,126.6 127.8,123.8Z" fill="#6f6f6f" stroke="#6f6f6f" stroke-width="0.3"/><path d="M125.7,122.7 L127.8,123.8 M127.1,125.5 L129.3,126.6" stroke="#3d3d3d" stroke-width="0.45" fill="none"/>
<path d="M135.2,122.6 136.6,125.4 138.2,123.9 136.8,121.1Z" fill="#7d7d7d" stroke="#7d7d7d" stroke-width="0.3"/><path d="M135.2,122.6 L136.8,121.1 M136.6,125.4 L138.2,123.9" stroke="#444444" stroke-width="0.45" fill="none"/>
<path d="M124.2,120.9 125.6,123.8 127.1,125.5 125.7,122.7Z" fill="#970a97" stroke="#970a97" stroke-width="0.3"/><path d="M124.2,120.9 L125.7,122.7 M125.6,123.8 L127.1,125.5" stroke="#530553" stroke-width="0.45" fill="none"/>
<path d="M133.1,110.9 134.5,113.7 132.8,113.4 131.4,110.6Z" fill="#d10ad1" stroke="#d10ad1" stroke-width="0.3"/><path d="M133.1,110.9 L131.4,110.6 M134.5,113.7 L132.8,113.4" stroke="#720572" stroke-width="0.45" fill="none"/>
<path d="M136.8,121.1 138.2,123.9 138.9,122.3 137.5,119.5Z" fill="#727272" stroke="#727272" stroke-width="0.3"/><path d="M136.8,121.1 L137.5,119.5 M138.2,123.9 L138.9,122.3" stroke="#3e3e3e" stroke-width="0.45" fill="none"/>
<path d="M123.6,118.8 125.0,121.6 125.6,123.8 124.2,120.9Z" fill="#bd0abd" stroke="#bd0abd" stroke-width="0.3"/><path d="M123.6,118.8 L124.2,120.9 M125.0,121.6 L125.6,123.8" stroke="#670567" stroke-width="0.45" fill="none"/>
<path d="M131.4,110.6 132.8,113.4 130.6,113.9 129.2,111.1Z" fill="#e60ee6" stroke="#e60ee6" stroke-width="0.3"/><path d="M131.4,110.6 L129.2,111.1 M132.8,113.4 L130.6,113.9" stroke="#7e077e" stroke-width="0.45" fill="none"/>
<path d="M124.0,116.4 125.4,119.2 125.0,121.6 123.6,118.8Z" fill="#d70ad7" stroke="#d70ad7" stroke-width="0.3"/><path d="M124.0,116.4 L123.6,118.8 M125.4,119.2 L125.0,121.6" stroke="#760576" stroke-width="0.45" fill="none"/>
<path d="M129.2,111.1 130.6,113.9 128.4,115.1 127.0,112.3Z" fill="#f312f3" stroke="#f312f3" stroke-width="0.3"/><path d="M129.2,111.1 L127.0,112.3 M130.6,113.9 L128.4,115.1" stroke="#850985" stroke-width="0.45" fill="none"/>
<path d="M125.2,114.1 126.6,116.9 125.4,119.2 124.0,116.4Z" fill="#eb10eb" stroke="#eb10eb" stroke-width="0.3"/><path d="M125.2,114.1 L124.0,116.4 M126.6,116.9 L125.4,119.2" stroke="#810881" stroke-width="0.45" fill="none"/>
<path d="M137.5,119.5 138.9,122.3 138.7,120.9 137.3,118.1Z" fill="#636363" stroke="#636363" stroke-width="0.3"/><path d="M137.5,119.5 L137.3,118.1 M138.9,122.3 L138.7,120.9" stroke="#363636" stroke-width="0.45" fill="none"/>
<path d="M127.0,112.3 128.4,115.1 126.6,116.9 125.2,114.1Z" fill="#f513f5" stroke="#f513f5" stroke-width="0.3"/><path d="M127.0,112.3 L125.2,114.1 M128.4,115.1 L126.6,116.9" stroke="#860a86" stroke-width="0.45" fill="none"/>
<path d="M137.3,118.1 138.7,120.9 137.6,119.9 136.2,117.1Z" fill="#838383" stroke="#838383" stroke-width="0.3"/><path d="M137.3,118.1 L136.2,117.1 M138.7,120.9 L137.6,119.9" stroke="#484848" stroke-width="0.45" fill="none"/>
<path d="M127.8,128.2 128.3,129.1 129.8,130.9 129.3,129.9Z" fill="#606060" stroke="#606060" stroke-width="0.3"/><path d="M127.8,128.2 L129.3,129.9 M128.3,129.1 L129.8,130.9" stroke="#343434" stroke-width="0.45" fill="none"/>
<path d="M136.2,117.1 137.6,119.9 135.8,119.6 134.4,116.8Z" fill="#a3a3a3" stroke="#a3a3a3" stroke-width="0.3"/><path d="M136.2,117.1 L134.4,116.8 M137.6,119.9 L135.8,119.6" stroke="#595959" stroke-width="0.45" fill="none"/>
<path d="M127.1,125.8 127.8,127.1 128.4,129.3 127.7,128.0Z" fill="#8a8a8a" stroke="#8a8a8a" stroke-width="0.3"/><path d="M127.1,125.8 L127.7,128.0 M127.8,127.1 L128.4,129.3" stroke="#4b4b4b" stroke-width="0.45" fill="none"/>
<path d="M134.4,116.8 135.8,119.6 133.7,120.1 132.3,117.3Z" fill="#bbbbbb" stroke="#bbbbbb" stroke-width="0.3"/><path d="M134.4,116.8 L132.3,117.3 M135.8,119.6 L133.7,120.1" stroke="#666666" stroke-width="0.45" fill="none"/>
<path d="M127.3,123.3 128.2,124.9 127.8,127.3 127.0,125.6Z" fill="#a8a8a8" stroke="#a8a8a8" stroke-width="0.3"/><path d="M127.3,123.3 L127.0,125.6 M128.2,124.9 L127.8,127.3" stroke="#5c5c5c" stroke-width="0.45" fill="none"/>
<path d="M132.3,117.4 133.6,120.0 131.4,121.3 130.1,118.7Z" fill="#cacaca" stroke="#cacaca" stroke-width="0.3"/><path d="M132.3,117.4 L130.1,118.7 M133.6,120.0 L131.4,121.3" stroke="#6f6f6f" stroke-width="0.45" fill="none"/>
<path d="M128.4,120.8 129.4,122.8 128.2,125.1 127.3,123.1Z" fill="#bfbfbf" stroke="#bfbfbf" stroke-width="0.3"/><path d="M128.4,120.8 L127.3,123.1 M129.4,122.8 L128.2,125.1" stroke="#696969" stroke-width="0.45" fill="none"/>
<path d="M130.2,118.8 131.3,121.1 129.5,123.0 128.4,120.7Z" fill="#cbcbcb" stroke="#cbcbcb" stroke-width="0.3"/><path d="M130.2,118.8 L128.4,120.7 M131.3,121.1 L129.5,123.0" stroke="#6f6f6f" stroke-width="0.45" fill="none"/>
<path d="M179.4,135.2 180.0,139.6 183.2,140.1 182.6,135.6Z" fill="#2626ae" stroke="#2626ae" stroke-width="0.3"/><path d="M179.4,135.2 L182.6,135.6 M180.0,139.6 L183.2,140.1" stroke="#14145f" stroke-width="0.45" fill="none"/>
<path d="M182.6,135.6 183.2,140.1 186.2,139.9 185.7,135.5Z" fill="#2727b1" stroke="#2727b1" stroke-width="0.3"/><path d="M182.6,135.6 L185.7,135.5 M183.2,140.1 L186.2,139.9" stroke="#151561" stroke-width="0.45" fill="none"/>
<path d="M176.5,134.3 177.1,138.7 180.0,139.6 179.4,135.2Z" fill="#777777" stroke="#777777" stroke-width="0.3"/><path d="M176.5,134.3 L179.4,135.2 M177.1,138.7 L180.0,139.6" stroke="#414141" stroke-width="0.45" fill="none"/>
<path d="M185.7,135.5 186.2,139.9 188.7,139.4 188.1,135.0Z" fill="#2525ac" stroke="#2525ac" stroke-width="0.3"/><path d="M185.7,135.5 L188.1,135.0 M186.2,139.9 L188.7,139.4" stroke="#14145e" stroke-width="0.45" fill="none"/>
<path d="M174.4,132.8 175.0,137.2 177.1,138.7 176.5,134.3Z" fill="#676767" stroke="#676767" stroke-width="0.3"/><path d="M174.4,132.8 L176.5,134.3 M175.0,137.2 L177.1,138.7" stroke="#383838" stroke-width="0.45" fill="none"/>
<path d="M188.1,135.0 188.7,139.4 190.2,138.6 189.6,134.2Z" fill="#2323a3" stroke="#2323a3" stroke-width="0.3"/><path d="M188.1,135.0 L189.6,134.2 M188.7,139.4 L190.2,138.6" stroke="#131359" stroke-width="0.45" fill="none"/>
<path d="M173.5,130.9 174.0,135.4 175.0,137.2 174.4,132.8Z" fill="#595959" stroke="#595959" stroke-width="0.3"/><path d="M173.5,130.9 L174.4,132.8 M174.0,135.4 L175.0,137.2" stroke="#303030" stroke-width="0.45" fill="none"/>
<path d="M181.3,145.2 181.9,149.6 185.1,149.9 184.5,145.5Z" fill="#848484" stroke="#848484" stroke-width="0.3"/><path d="M181.3,145.2 L184.5,145.5 M181.9,149.6 L185.1,149.9" stroke="#484848" stroke-width="0.45" fill="none"/>
<path d="M188.8,125.2 189.0,126.7 188.3,126.1 188.1,124.6Z" fill="#767676" stroke="#767676" stroke-width="0.3"/><path d="M188.8,125.2 L188.1,124.6 M189.0,126.7 L188.3,126.1" stroke="#404040" stroke-width="0.45" fill="none"/>
<path d="M178.3,144.3 178.9,148.7 181.9,149.6 181.3,145.2Z" fill="#797979" stroke="#797979" stroke-width="0.3"/><path d="M178.3,144.3 L181.3,145.2 M178.9,148.7 L181.9,149.6" stroke="#424242" stroke-width="0.45" fill="none"/>
<path d="M184.5,145.5 185.1,149.9 188.1,149.7 187.5,145.3Z" fill="#858585" stroke="#858585" stroke-width="0.3"/><path d="M184.5,145.5 L187.5,145.3 M185.1,149.9 L188.1,149.7" stroke="#494949" stroke-width="0.45" fill="none"/>
<path d="M176.1,142.9 176.6,147.4 178.9,148.7 178.3,144.3Z" fill="#6b6b6b" stroke="#6b6b6b" stroke-width="0.3"/><path d="M176.1,142.9 L178.3,144.3 M176.6,147.4 L178.9,148.7" stroke="#3a3a3a" stroke-width="0.45" fill="none"/>
<path d="M173.7,128.9 174.3,133.3 174.0,135.4 173.5,130.9Z" fill="#9a9a9a" stroke="#9a9a9a" stroke-width="0.3"/><path d="M173.7,128.9 L173.5,130.9 M174.3,133.3 L174.0,135.4" stroke="#545454" stroke-width="0.45" fill="none"/>
<path d="M187.5,145.3 188.1,149.7 190.4,149.1 189.8,144.7Z" fill="#7f7f7f" stroke="#7f7f7f" stroke-width="0.3"/><path d="M187.5,145.3 L189.8,144.7 M188.1,149.7 L190.4,149.1" stroke="#454545" stroke-width="0.45" fill="none"/>
<path d="M189.6,134.2 190.2,138.6 190.5,137.9 189.9,133.4Z" fill="#696969" stroke="#696969" stroke-width="0.3"/><path d="M189.6,134.2 L189.9,133.4 M190.2,138.6 L190.5,137.9" stroke="#393939" stroke-width="0.45" fill="none"/>
<path d="M188.1,124.3 188.4,126.4 186.5,126.1 186.3,124.0Z" fill="#909090" stroke="#909090" stroke-width="0.3"/><path d="M188.1,124.3 L186.3,124.0 M188.4,126.4 L186.5,126.1" stroke="#4f4f4f" stroke-width="0.45" fill="none"/>
<path d="M174.8,141.1 175.4,145.6 176.6,147.4 176.1,142.9Z" fill="#5a5a5a" stroke="#5a5a5a" stroke-width="0.3"/><path d="M174.8,141.1 L176.1,142.9 M175.4,145.6 L176.6,147.4" stroke="#313131" stroke-width="0.45" fill="none"/>
<path d="M175.1,126.9 175.7,131.3 174.3,133.3 173.7,128.9Z" fill="#b5b5b5" stroke="#b5b5b5" stroke-width="0.3"/><path d="M175.1,126.9 L173.7,128.9 M175.7,131.3 L174.3,133.3" stroke="#636363" stroke-width="0.45" fill="none"/>
<path d="M189.8,144.7 190.4,149.1 191.6,148.3 191.0,143.9Z" fill="#757575" stroke="#757575" stroke-width="0.3"/><path d="M189.8,144.7 L191.0,143.9 M190.4,149.1 L191.6,148.3" stroke="#404040" stroke-width="0.45" fill="none"/>
<path d="M186.2,123.8 186.6,126.3 183.9,126.6 183.6,124.0Z" fill="#afafaf" stroke="#afafaf" stroke-width="0.3"/><path d="M186.2,123.8 L183.6,124.0 M186.6,126.3 L183.9,126.6" stroke="#606060" stroke-width="0.45" fill="none"/>
<path d="M189.9,133.4 190.5,137.9 189.5,137.3 188.9,132.9Z" fill="#767676" stroke="#767676" stroke-width="0.3"/><path d="M189.9,133.4 L188.9,132.9 M190.5,137.9 L189.5,137.3" stroke="#404040" stroke-width="0.45" fill="none"/>
<path d="M177.5,125.3 178.0,129.4 175.7,131.2 175.1,127.0Z" fill="#c7c7c7" stroke="#c7c7c7" stroke-width="0.3"/><path d="M177.5,125.3 L175.1,127.0 M178.0,129.4 L175.7,131.2" stroke="#6d6d6d" stroke-width="0.45" fill="none"/>
<path d="M174.8,139.1 175.4,143.6 175.4,145.6 174.8,141.1Z" fill="#949494" stroke="#949494" stroke-width="0.3"/><path d="M174.8,139.1 L174.8,141.1 M175.4,143.6 L175.4,145.6" stroke="#515151" stroke-width="0.45" fill="none"/>
<path d="M183.5,123.7 184.0,126.8 180.9,127.6 180.5,124.5Z" fill="#c8c8c8" stroke="#c8c8c8" stroke-width="0.3"/><path d="M183.5,123.7 L180.5,124.5 M184.0,126.8 L180.9,127.6" stroke="#6e6e6e" stroke-width="0.45" fill="none"/>
<path d="M180.5,124.2 181.0,127.9 178.0,129.2 177.5,125.6Z" fill="#d0d0d0" stroke="#d0d0d0" stroke-width="0.3"/><path d="M180.5,124.2 L177.5,125.6 M181.0,127.9 L178.0,129.2" stroke="#727272" stroke-width="0.45" fill="none"/>
<path d="M191.1,144.0 191.6,148.1 191.6,147.4 191.1,143.3Z" fill="#666666" stroke="#666666" stroke-width="0.3"/><path d="M191.1,144.0 L191.1,143.3 M191.6,148.1 L191.6,147.4" stroke="#383838" stroke-width="0.45" fill="none"/>
<path d="M188.9,132.9 189.5,137.3 187.5,137.1 186.9,132.7Z" fill="#969696" stroke="#969696" stroke-width="0.3"/><path d="M188.9,132.9 L186.9,132.7 M189.5,137.3 L187.5,137.1" stroke="#525252" stroke-width="0.45" fill="none"/>
<path d="M176.0,137.1 176.6,141.5 175.4,143.6 174.8,139.1Z" fill="#b0b0b0" stroke="#b0b0b0" stroke-width="0.3"/><path d="M176.0,137.1 L174.8,139.1 M176.6,141.5 L175.4,143.6" stroke="#606060" stroke-width="0.45" fill="none"/>
<path d="M186.9,132.7 187.5,137.1 184.7,137.4 184.2,133.0Z" fill="#b5b5b5" stroke="#b5b5b5" stroke-width="0.3"/><path d="M186.9,132.7 L184.2,133.0 M187.5,137.1 L184.7,137.4" stroke="#636363" stroke-width="0.45" fill="none"/>
<path d="M178.2,135.3 178.8,139.7 176.6,141.5 176.0,137.1Z" fill="#c4c4c4" stroke="#c4c4c4" stroke-width="0.3"/><path d="M178.2,135.3 L176.0,137.1 M178.8,139.7 L176.6,141.5" stroke="#6b6b6b" stroke-width="0.45" fill="none"/>
<path d="M191.1,143.5 191.6,147.1 190.4,146.6 189.9,143.0Z" fill="#7c7c7c" stroke="#7c7c7c" stroke-width="0.3"/><path d="M191.1,143.5 L189.9,143.0 M191.6,147.1 L190.4,146.6" stroke="#444444" stroke-width="0.45" fill="none"/>
<path d="M184.2,133.0 184.7,137.4 181.7,138.3 181.1,133.9Z" fill="#cccccc" stroke="#cccccc" stroke-width="0.3"/><path d="M184.2,133.0 L181.1,133.9 M184.7,137.4 L181.7,138.3" stroke="#707070" stroke-width="0.45" fill="none"/>
<path d="M181.1,133.9 181.7,138.3 178.8,139.7 178.2,135.3Z" fill="#d0d0d0" stroke="#d0d0d0" stroke-width="0.3"/><path d="M181.1,133.9 L178.2,135.3 M181.7,138.3 L178.8,139.7" stroke="#727272" stroke-width="0.45" fill="none"/>
<path d="M190.0,143.3 190.4,146.4 188.2,146.3 187.8,143.2Z" fill="#9d9d9d" stroke="#9d9d9d" stroke-width="0.3"/><path d="M190.0,143.3 L187.8,143.2 M190.4,146.4 L188.2,146.3" stroke="#565656" stroke-width="0.45" fill="none"/>
<path d="M187.8,143.4 188.1,146.0 185.3,146.5 185.0,143.9Z" fill="#bababa" stroke="#bababa" stroke-width="0.3"/><path d="M187.8,143.4 L185.0,143.9 M188.1,146.0 L185.3,146.5" stroke="#666666" stroke-width="0.45" fill="none"/>
<path d="M182.0,145.4 182.2,146.9 179.4,148.4 179.2,146.9Z" fill="#cecece" stroke="#cecece" stroke-width="0.3"/><path d="M182.0,145.4 L179.2,146.9 M182.2,146.9 L179.4,148.4" stroke="#717171" stroke-width="0.45" fill="none"/>
<path d="M185.0,144.1 185.3,146.2 182.2,147.2 181.9,145.1Z" fill="#cecece" stroke="#cecece" stroke-width="0.3"/><path d="M185.0,144.1 L181.9,145.1 M185.3,146.2 L182.2,147.2" stroke="#717171" stroke-width="0.45" fill="none"/>
<path d="M180.3,181.5 182.1,178.8 184.7,175.0 187.6,170.6 190.3,166.5 193.0,162.4 195.9,158.1 199.4,154.8 198.0,150.0 198.0,150.0 193.1,150.6 191.3,155.0 188.4,159.4 185.7,163.5 183.0,167.6 180.1,171.9 177.5,175.8 175.7,178.5Z" fill="#a8a8a8" stroke="#606060" stroke-width="0.45" stroke-linejoin="round"/>
<path d="M187.4,184.4 189.4,181.0 192.2,176.1 195.4,170.6 198.4,165.4 201.4,160.2 204.6,154.7 209.0,150.7 207.0,145.0 207.0,145.0 201.0,146.1 199.8,151.9 196.6,157.4 193.6,162.6 190.6,167.8 187.4,173.3 184.6,178.2 182.6,181.6Z" fill="#b6b6b6" stroke="#666" stroke-width="0.45" stroke-linejoin="round"/>
<path d="M195.3,185.0 196.9,181.2 199.2,175.7 201.8,169.7 204.3,164.0 206.7,158.5 209.3,152.7 213.2,148.3 211.0,143.0 211.0,143.0 205.6,144.9 204.8,150.7 202.2,156.4 199.7,162.0 197.2,167.7 194.6,173.8 192.3,179.2 190.7,183.0Z" fill="#9c9c9c" stroke="#5a5a5a" stroke-width="0.45" stroke-linejoin="round"/>
<path d="M213.3,140.0 213.3,142.9 213.3,147.0 213.3,151.6 213.3,155.9 213.1,160.2 212.8,164.8 211.8,168.9 215.0,172.0 215.0,172.0 218.6,169.4 218.2,165.2 218.5,160.5 218.7,156.1 218.8,151.6 218.8,147.0 218.8,142.9 218.7,140.0Z" fill="#c0c0c0" stroke="#6a6a6a" stroke-width="0.45" stroke-linejoin="round"/>
<path d="M207.4,185.8 205.5,186.3 202.7,187.1 199.3,187.9 195.5,188.8 190.6,189.8 184.8,191.0 179.1,190.6 176.0,195.0 176.0,195.0 180.5,197.9 185.7,195.4 191.5,194.2 196.5,193.2 200.4,192.3 203.8,191.4 206.6,190.7 208.6,190.2Z" fill="#b0b0b0" stroke="#666" stroke-width="0.45" stroke-linejoin="round"/>
<path d="M160.6,194.2 163.4,193.4 167.5,192.4 172.1,191.2 176.5,190.2 181.0,189.3 185.9,188.5 190.4,188.5 193.0,185.0 193.0,185.0 189.4,182.6 185.1,184.0 180.2,184.9 175.5,185.8 171.0,186.8 166.4,188.0 162.3,189.1 159.4,189.8Z" fill="#bcbcbc" stroke="#6a6a6a" stroke-width="0.45" stroke-linejoin="round"/>
<path d="M160.6,200.9 163.5,200.0 167.7,198.7 172.4,197.2 176.6,195.9 180.5,194.8 184.5,193.6 188.1,192.8 190.0,190.0 190.0,190.0 186.9,188.6 183.5,189.8 179.4,190.9 175.4,192.1 171.2,193.4 166.5,194.8 162.3,196.2 159.4,197.1Z" fill="#a4a4a4" stroke="#666" stroke-width="0.45" stroke-linejoin="round"/>
<path d="M171.0,162.0 172.8,161.1 175.4,159.8 178.3,158.4 181.0,157.0 183.7,155.6 186.6,154.2 189.1,152.6 190.0,150.0 190.0,150.0 187.3,149.2 184.6,150.2 181.7,151.6 179.0,153.0 176.3,154.4 173.4,155.8 170.8,157.1 169.0,158.0Z" fill="#9a1e9a" stroke="#600060" stroke-width="0.45" stroke-linejoin="round"/>
<path d="M210.8,137.6 212.2,138.7 214.3,140.2 216.6,142.0 218.8,143.6 221.0,145.2 223.3,147.0 225.6,148.1 228.0,148.0 228.0,148.0 227.5,145.7 225.7,143.8 223.4,142.0 221.2,140.4 219.0,138.8 216.7,137.0 214.6,135.5 213.2,134.4Z" fill="#a8a8a8" stroke="#666" stroke-width="0.45" stroke-linejoin="round"/>
<path d="M172.0,152.0 L172.7,151.8 L173.6,151.5 L174.6,151.1 L175.8,150.7 L176.9,150.4 L178.0,150.0 L179.1,149.6 L180.2,149.3 L181.4,148.9 L182.4,148.5 L183.3,148.2 L184.0,148.0" fill="none" stroke="#c010c0" stroke-width="1.90" stroke-linecap="round" stroke-linejoin="round"/><path d="M172.0,152.0 L172.7,151.8 L173.6,151.5 L174.6,151.1 L175.8,150.7 L176.9,150.4 L178.0,150.0 L179.1,149.6 L180.2,149.3 L181.4,148.9 L182.4,148.5 L183.3,148.2 L184.0,148.0" fill="none" stroke="#f040f0" stroke-width="0.80" stroke-linecap="round" stroke-linejoin="round"/>
<path d="M175.0,186.0 L175.4,185.9 L176.0,185.7 L176.8,185.6 L177.5,185.4 L178.3,185.2 L179.0,185.0 L179.7,184.8 L180.5,184.6 L181.2,184.4 L182.0,184.3 L182.6,184.1 L183.0,184.0" fill="none" stroke="#12129a" stroke-width="1.90" stroke-linecap="round" stroke-linejoin="round"/><path d="M175.0,186.0 L175.4,185.9 L176.0,185.7 L176.8,185.6 L177.5,185.4 L178.3,185.2 L179.0,185.0 L179.7,184.8 L180.5,184.6 L181.2,184.4 L182.0,184.3 L182.6,184.1 L183.0,184.0" fill="none" stroke="#2a2ae8" stroke-width="0.80" stroke-linecap="round" stroke-linejoin="round"/>
<path d="M188.0,187.0 L188.2,187.1 L188.5,187.3 L188.9,187.4 L189.3,187.6 L189.6,187.8 L190.0,188.0 L190.4,188.2 L190.7,188.4 L191.1,188.6 L191.5,188.7 L191.8,188.9 L192.0,189.0" fill="none" stroke="#c010c0" stroke-width="1.70" stroke-linecap="round" stroke-linejoin="round"/><path d="M188.0,187.0 L188.2,187.1 L188.5,187.3 L188.9,187.4 L189.3,187.6 L189.6,187.8 L190.0,188.0 L190.4,188.2 L190.7,188.4 L191.1,188.6 L191.5,188.7 L191.8,188.9 L192.0,189.0" fill="none" stroke="#f040f0" stroke-width="0.70" stroke-linecap="round" stroke-linejoin="round"/>
<path d="M218.5,192.4 222.3,194.6 223.9,193.1 220.1,190.9Z" fill="#868686" stroke="#868686" stroke-width="0.3"/><path d="M218.5,192.4 L220.1,190.9 M222.3,194.6 L223.9,193.1" stroke="#494949" stroke-width="0.45" fill="none"/>
<path d="M220.1,190.9 223.9,193.1 225.3,191.4 221.6,189.3Z" fill="#818181" stroke="#818181" stroke-width="0.3"/><path d="M220.1,190.9 L221.6,189.3 M223.9,193.1 L225.3,191.4" stroke="#464646" stroke-width="0.45" fill="none"/>
<path d="M216.9,193.5 220.6,195.7 222.3,194.6 218.5,192.4Z" fill="#818181" stroke="#818181" stroke-width="0.3"/><path d="M216.9,193.5 L218.5,192.4 M220.6,195.7 L222.3,194.6" stroke="#464646" stroke-width="0.45" fill="none"/>
<path d="M221.6,189.3 225.3,191.4 226.3,190.0 222.6,187.9Z" fill="#737373" stroke="#737373" stroke-width="0.3"/><path d="M221.6,189.3 L222.6,187.9 M225.3,191.4 L226.3,190.0" stroke="#3f3f3f" stroke-width="0.45" fill="none"/>
<path d="M215.4,194.1 219.1,196.2 220.6,195.7 216.9,193.5Z" fill="#797979" stroke="#797979" stroke-width="0.3"/><path d="M215.4,194.1 L216.9,193.5 M219.1,196.2 L220.6,195.7" stroke="#424242" stroke-width="0.45" fill="none"/>
<path d="M226.8,197.2 228.9,198.4 230.5,196.9 228.4,195.7Z" fill="#868686" stroke="#868686" stroke-width="0.3"/><path d="M226.8,197.2 L228.4,195.7 M228.9,198.4 L230.5,196.9" stroke="#494949" stroke-width="0.45" fill="none"/>
<path d="M222.6,187.9 226.3,190.0 226.9,189.0 223.2,186.8Z" fill="#636363" stroke="#636363" stroke-width="0.3"/><path d="M222.6,187.9 L223.2,186.8 M226.3,190.0 L226.9,189.0" stroke="#363636" stroke-width="0.45" fill="none"/>
<path d="M228.6,195.8 230.3,196.7 231.7,195.1 230.0,194.2Z" fill="#818181" stroke="#818181" stroke-width="0.3"/><path d="M228.6,195.8 L230.0,194.2 M230.3,196.7 L231.7,195.1" stroke="#464646" stroke-width="0.45" fill="none"/>
<path d="M225.0,198.2 227.4,199.6 229.1,198.5 226.6,197.1Z" fill="#818181" stroke="#818181" stroke-width="0.3"/><path d="M225.0,198.2 L226.6,197.1 M227.4,199.6 L229.1,198.5" stroke="#464646" stroke-width="0.45" fill="none"/>
<path d="M214.1,193.8 217.9,196.0 219.1,196.2 215.4,194.1Z" fill="#6d6d6d" stroke="#6d6d6d" stroke-width="0.3"/><path d="M214.1,193.8 L215.4,194.1 M217.9,196.0 L219.1,196.2" stroke="#3b3b3b" stroke-width="0.45" fill="none"/>
<path d="M230.2,194.3 231.5,195.0 232.6,193.6 231.3,192.8Z" fill="#737373" stroke="#737373" stroke-width="0.3"/><path d="M230.2,194.3 L231.3,192.8 M231.5,195.0 L232.6,193.6" stroke="#3f3f3f" stroke-width="0.45" fill="none"/>
<path d="M217.1,182.9 218.4,183.6 218.1,183.9 216.8,183.2Z" fill="#9f9f9f" stroke="#9f9f9f" stroke-width="0.3"/><path d="M217.1,182.9 L216.8,183.2 M218.4,183.6 L218.1,183.9" stroke="#575757" stroke-width="0.45" fill="none"/>
<path d="M223.3,198.6 226.1,200.2 227.6,199.7 224.8,198.1Z" fill="#797979" stroke="#797979" stroke-width="0.3"/><path d="M223.3,198.6 L224.8,198.1 M226.1,200.2 L227.6,199.7" stroke="#424242" stroke-width="0.45" fill="none"/>
<path d="M223.2,186.8 226.9,189.0 227.1,188.6 223.3,186.4Z" fill="#595959" stroke="#595959" stroke-width="0.3"/><path d="M223.2,186.8 L223.3,186.4 M226.9,189.0 L227.1,188.6" stroke="#303030" stroke-width="0.45" fill="none"/>
<path d="M213.3,192.9 217.1,195.0 217.9,196.0 214.1,193.8Z" fill="#767676" stroke="#767676" stroke-width="0.3"/><path d="M213.3,192.9 L214.1,193.8 M217.1,195.0 L217.9,196.0" stroke="#404040" stroke-width="0.45" fill="none"/>
<path d="M221.8,198.2 225.1,200.1 226.3,200.3 223.1,198.5Z" fill="#6d6d6d" stroke="#6d6d6d" stroke-width="0.3"/><path d="M221.8,198.2 L223.1,198.5 M225.1,200.1 L226.3,200.3" stroke="#3b3b3b" stroke-width="0.45" fill="none"/>
<path d="M216.6,183.1 218.3,184.0 217.7,185.1 216.0,184.1Z" fill="#b7b7b7" stroke="#b7b7b7" stroke-width="0.3"/><path d="M216.6,183.1 L216.0,184.1 M218.3,184.0 L217.7,185.1" stroke="#646464" stroke-width="0.45" fill="none"/>
<path d="M223.3,186.4 227.1,188.6 226.8,188.9 223.0,186.7Z" fill="#9f9f9f" stroke="#9f9f9f" stroke-width="0.3"/><path d="M223.3,186.4 L223.0,186.7 M227.1,188.6 L226.8,188.9" stroke="#575757" stroke-width="0.45" fill="none"/>
<path d="M213.1,191.4 216.7,193.4 217.0,195.0 213.4,192.9Z" fill="#8b8b8b" stroke="#8b8b8b" stroke-width="0.3"/><path d="M213.1,191.4 L213.4,192.9 M216.7,193.4 L217.0,195.0" stroke="#4c4c4c" stroke-width="0.45" fill="none"/>
<path d="M215.8,184.0 217.9,185.2 217.2,186.8 215.1,185.6Z" fill="#c7c7c7" stroke="#c7c7c7" stroke-width="0.3"/><path d="M215.8,184.0 L215.1,185.6 M217.9,185.2 L217.2,186.8" stroke="#6d6d6d" stroke-width="0.45" fill="none"/>
<path d="M220.9,197.2 224.5,199.3 225.3,200.2 221.7,198.1Z" fill="#767676" stroke="#767676" stroke-width="0.3"/><path d="M220.9,197.2 L221.7,198.1 M224.5,199.3 L225.3,200.2" stroke="#404040" stroke-width="0.45" fill="none"/>
<path d="M213.4,189.5 216.6,191.3 216.5,193.3 213.2,191.5Z" fill="#aaaaaa" stroke="#aaaaaa" stroke-width="0.3"/><path d="M213.4,189.5 L213.2,191.5 M216.6,191.3 L216.5,193.3" stroke="#5d5d5d" stroke-width="0.45" fill="none"/>
<path d="M214.9,185.5 217.4,186.9 216.7,189.0 214.2,187.6Z" fill="#d1d1d1" stroke="#d1d1d1" stroke-width="0.3"/><path d="M214.9,185.5 L214.2,187.6 M217.4,186.9 L216.7,189.0" stroke="#727272" stroke-width="0.45" fill="none"/>
<path d="M223.0,186.7 226.8,188.9 226.2,189.9 222.5,187.8Z" fill="#b7b7b7" stroke="#b7b7b7" stroke-width="0.3"/><path d="M223.0,186.7 L222.5,187.8 M226.8,188.9 L226.2,189.9" stroke="#646464" stroke-width="0.45" fill="none"/>
<path d="M214.0,187.4 216.9,189.1 216.4,191.2 213.6,189.6Z" fill="#c7c7c7" stroke="#c7c7c7" stroke-width="0.3"/><path d="M214.0,187.4 L213.6,189.6 M216.9,189.1 L216.4,191.2" stroke="#6d6d6d" stroke-width="0.45" fill="none"/>
<path d="M220.5,195.6 224.2,197.7 224.5,199.3 220.8,197.2Z" fill="#8b8b8b" stroke="#8b8b8b" stroke-width="0.3"/><path d="M220.5,195.6 L220.8,197.2 M224.2,197.7 L224.5,199.3" stroke="#4c4c4c" stroke-width="0.45" fill="none"/>
<path d="M222.5,187.8 226.2,189.9 225.5,191.6 221.7,189.4Z" fill="#c7c7c7" stroke="#c7c7c7" stroke-width="0.3"/><path d="M222.5,187.8 L221.7,189.4 M226.2,189.9 L225.5,191.6" stroke="#6d6d6d" stroke-width="0.45" fill="none"/>
<path d="M220.6,193.6 224.3,195.8 224.2,197.7 220.5,195.6Z" fill="#aaaaaa" stroke="#aaaaaa" stroke-width="0.3"/><path d="M220.6,193.6 L220.5,195.6 M224.3,195.8 L224.2,197.7" stroke="#5d5d5d" stroke-width="0.45" fill="none"/>
<path d="M221.7,189.4 225.5,191.6 224.8,193.6 221.1,191.5Z" fill="#d1d1d1" stroke="#d1d1d1" stroke-width="0.3"/><path d="M221.7,189.4 L221.1,191.5 M225.5,191.6 L224.8,193.6" stroke="#727272" stroke-width="0.45" fill="none"/>
<path d="M221.1,191.5 224.8,193.6 224.3,195.8 220.6,193.6Z" fill="#c7c7c7" stroke="#c7c7c7" stroke-width="0.3"/><path d="M221.1,191.5 L220.6,193.6 M224.8,193.6 L224.3,195.8" stroke="#6d6d6d" stroke-width="0.45" fill="none"/>
<path d="M144,174 L152,175 L151,186 L144,185Z" fill="#c8c8c8" stroke="#888" stroke-width="0.4"/>
<path d="M158,174 L164,175 L163,180 L158,180Z" fill="#555" />
<path d="M54.9,200.2 63.2,200.9 64.4,198.1 56.1,197.4Z" fill="#868686" stroke="#868686" stroke-width="0.3"/><path d="M54.9,200.2 L56.1,197.4 M63.2,200.9 L64.4,198.1" stroke="#494949" stroke-width="0.45" fill="none"/>
<path d="M56.1,197.4 64.4,198.1 65.4,195.3 57.1,194.6Z" fill="#7d7d7d" stroke="#7d7d7d" stroke-width="0.3"/><path d="M56.1,197.4 L57.1,194.6 M64.4,198.1 L65.4,195.3" stroke="#444444" stroke-width="0.45" fill="none"/>
<path d="M53.7,202.6 62.0,203.3 63.2,200.9 54.9,200.2Z" fill="#848484" stroke="#848484" stroke-width="0.3"/><path d="M53.7,202.6 L54.9,200.2 M62.0,203.3 L63.2,200.9" stroke="#484848" stroke-width="0.45" fill="none"/>
<path d="M68.9,201.2 77.2,201.9 78.3,199.1 70.0,198.4Z" fill="#868686" stroke="#868686" stroke-width="0.3"/><path d="M68.9,201.2 L70.0,198.4 M77.2,201.9 L78.3,199.1" stroke="#494949" stroke-width="0.45" fill="none"/>
<path d="M57.1,194.6 65.4,195.3 66.3,193.0 58.0,192.3Z" fill="#6a6a6a" stroke="#6a6a6a" stroke-width="0.3"/><path d="M57.1,194.6 L58.0,192.3 M65.4,195.3 L66.3,193.0" stroke="#3a3a3a" stroke-width="0.45" fill="none"/>
<path d="M70.0,198.4 78.3,199.1 79.4,196.3 71.0,195.6Z" fill="#7c7c7c" stroke="#7c7c7c" stroke-width="0.3"/><path d="M70.0,198.4 L71.0,195.6 M78.3,199.1 L79.4,196.3" stroke="#444444" stroke-width="0.45" fill="none"/>
<path d="M67.6,203.6 76.0,204.3 77.2,201.9 68.9,201.2Z" fill="#848484" stroke="#848484" stroke-width="0.3"/><path d="M67.6,203.6 L68.9,201.2 M76.0,204.3 L77.2,201.9" stroke="#484848" stroke-width="0.45" fill="none"/>
<path d="M82.8,202.1 91.2,202.8 92.3,200.0 84.0,199.3Z" fill="#868686" stroke="#868686" stroke-width="0.3"/><path d="M82.8,202.1 L84.0,199.3 M91.2,202.8 L92.3,200.0" stroke="#494949" stroke-width="0.45" fill="none"/>
<path d="M52.4,204.2 60.7,204.9 62.0,203.3 53.7,202.6Z" fill="#7f7f7f" stroke="#7f7f7f" stroke-width="0.3"/><path d="M52.4,204.2 L53.7,202.6 M60.7,204.9 L62.0,203.3" stroke="#454545" stroke-width="0.45" fill="none"/>
<path d="M71.0,195.6 79.4,196.3 80.3,194.0 71.9,193.3Z" fill="#696969" stroke="#696969" stroke-width="0.3"/><path d="M71.0,195.6 L71.9,193.3 M79.4,196.3 L80.3,194.0" stroke="#393939" stroke-width="0.45" fill="none"/>
<path d="M84.0,199.3 92.3,200.0 93.3,197.2 85.0,196.6Z" fill="#7a7a7a" stroke="#7a7a7a" stroke-width="0.3"/><path d="M84.0,199.3 L85.0,196.6 M92.3,200.0 L93.3,197.2" stroke="#434343" stroke-width="0.45" fill="none"/>
<path d="M58.0,192.3 66.3,193.0 67.1,191.5 58.7,190.8Z" fill="#595959" stroke="#595959" stroke-width="0.3"/><path d="M58.0,192.3 L58.7,190.8 M66.3,193.0 L67.1,191.5" stroke="#303030" stroke-width="0.45" fill="none"/>
<path d="M81.6,204.6 89.9,205.3 91.2,202.8 82.8,202.1Z" fill="#848484" stroke="#848484" stroke-width="0.3"/><path d="M81.6,204.6 L82.8,202.1 M89.9,205.3 L91.2,202.8" stroke="#484848" stroke-width="0.45" fill="none"/>
<path d="M66.4,205.2 74.7,205.9 76.0,204.3 67.6,203.6Z" fill="#7f7f7f" stroke="#7f7f7f" stroke-width="0.3"/><path d="M66.4,205.2 L67.6,203.6 M74.7,205.9 L76.0,204.3" stroke="#454545" stroke-width="0.45" fill="none"/>
<path d="M96.8,203.1 105.1,203.8 106.3,200.9 97.9,200.3Z" fill="#858585" stroke="#858585" stroke-width="0.3"/><path d="M96.8,203.1 L97.9,200.3 M105.1,203.8 L106.3,200.9" stroke="#494949" stroke-width="0.45" fill="none"/>
<path d="M85.0,196.6 93.3,197.2 94.2,195.0 85.9,194.3Z" fill="#676767" stroke="#676767" stroke-width="0.3"/><path d="M85.0,196.6 L85.9,194.3 M93.3,197.2 L94.2,195.0" stroke="#383838" stroke-width="0.45" fill="none"/>
<path d="M97.9,200.3 106.3,200.9 107.3,198.2 98.9,197.5Z" fill="#ad0aad" stroke="#ad0aad" stroke-width="0.3"/><path d="M97.9,200.3 L98.9,197.5 M106.3,200.9 L107.3,198.2" stroke="#5f055f" stroke-width="0.45" fill="none"/>
<path d="M95.6,205.6 103.9,206.3 105.1,203.8 96.8,203.1Z" fill="#858585" stroke="#858585" stroke-width="0.3"/><path d="M95.6,205.6 L96.8,203.1 M103.9,206.3 L105.1,203.8" stroke="#494949" stroke-width="0.45" fill="none"/>
<path d="M71.9,193.3 80.3,194.0 81.0,192.5 72.7,191.8Z" fill="#595959" stroke="#595959" stroke-width="0.3"/><path d="M71.9,193.3 L72.7,191.8 M80.3,194.0 L81.0,192.5" stroke="#303030" stroke-width="0.45" fill="none"/>
<path d="M80.3,206.3 88.7,207.0 89.9,205.3 81.6,204.6Z" fill="#7f7f7f" stroke="#7f7f7f" stroke-width="0.3"/><path d="M80.3,206.3 L81.6,204.6 M88.7,207.0 L89.9,205.3" stroke="#454545" stroke-width="0.45" fill="none"/>
<path d="M51.2,204.7 59.5,205.4 60.7,204.9 52.4,204.2Z" fill="#767676" stroke="#767676" stroke-width="0.3"/><path d="M51.2,204.7 L52.4,204.2 M59.5,205.4 L60.7,204.9" stroke="#404040" stroke-width="0.45" fill="none"/>
<path d="M98.9,197.5 107.3,198.2 108.1,196.0 99.8,195.3Z" fill="#9d0a9d" stroke="#9d0a9d" stroke-width="0.3"/><path d="M98.9,197.5 L99.8,195.3 M107.3,198.2 L108.1,196.0" stroke="#560556" stroke-width="0.45" fill="none"/>
<path d="M58.7,190.8 67.1,191.5 67.7,191.0 59.4,190.3Z" fill="#595959" stroke="#595959" stroke-width="0.3"/><path d="M58.7,190.8 L59.4,190.3 M67.1,191.5 L67.7,191.0" stroke="#303030" stroke-width="0.45" fill="none"/>
<path d="M94.3,207.4 102.6,208.0 103.9,206.3 95.6,205.6Z" fill="#808080" stroke="#808080" stroke-width="0.3"/><path d="M94.3,207.4 L95.6,205.6 M102.6,208.0 L103.9,206.3" stroke="#464646" stroke-width="0.45" fill="none"/>
<path d="M65.2,205.8 73.5,206.5 74.7,205.9 66.4,205.2Z" fill="#767676" stroke="#767676" stroke-width="0.3"/><path d="M65.2,205.8 L66.4,205.2 M73.5,206.5 L74.7,205.9" stroke="#404040" stroke-width="0.45" fill="none"/>
<path d="M85.9,194.3 94.2,195.0 94.9,193.6 86.6,192.9Z" fill="#595959" stroke="#595959" stroke-width="0.3"/><path d="M85.9,194.3 L86.6,192.9 M94.2,195.0 L94.9,193.6" stroke="#303030" stroke-width="0.45" fill="none"/>
<path d="M48.2,189.4 51.1,189.6 51.6,190.3 48.7,190.0Z" fill="#afafaf" stroke="#afafaf" stroke-width="0.3"/><path d="M48.2,189.4 L48.7,190.0 M51.1,189.6 L51.6,190.3" stroke="#606060" stroke-width="0.45" fill="none"/>
<path d="M79.1,207.0 87.5,207.7 88.7,207.0 80.3,206.3Z" fill="#777777" stroke="#777777" stroke-width="0.3"/><path d="M79.1,207.0 L80.3,206.3 M87.5,207.7 L88.7,207.0" stroke="#414141" stroke-width="0.45" fill="none"/>
<path d="M72.7,191.8 81.0,192.5 81.6,192.2 73.3,191.5Z" fill="#595959" stroke="#595959" stroke-width="0.3"/><path d="M72.7,191.8 L73.3,191.5 M81.0,192.5 L81.6,192.2" stroke="#303030" stroke-width="0.45" fill="none"/>
<path d="M50.3,204.1 58.3,204.7 59.4,205.4 51.4,204.7Z" fill="#767676" stroke="#767676" stroke-width="0.3"/><path d="M50.3,204.1 L51.4,204.7 M58.3,204.7 L59.4,205.4" stroke="#404040" stroke-width="0.45" fill="none"/>
<path d="M100.0,195.3 108.0,196.0 108.7,194.7 100.7,194.0Z" fill="#910a91" stroke="#910a91" stroke-width="0.3"/><path d="M100.0,195.3 L100.7,194.0 M108.0,196.0 L108.7,194.7" stroke="#4f054f" stroke-width="0.45" fill="none"/>
<path d="M93.1,208.1 101.4,208.8 102.6,208.0 94.3,207.4Z" fill="#787878" stroke="#787878" stroke-width="0.3"/><path d="M93.1,208.1 L94.3,207.4 M101.4,208.8 L102.6,208.0" stroke="#424242" stroke-width="0.45" fill="none"/>
<path d="M59.4,190.3 67.7,191.0 68.2,191.7 59.9,191.0Z" fill="#b1b1b1" stroke="#b1b1b1" stroke-width="0.3"/><path d="M59.4,190.3 L59.9,191.0 M67.7,191.0 L68.2,191.7" stroke="#616161" stroke-width="0.45" fill="none"/>
<path d="M64.0,205.3 72.4,206.0 73.5,206.5 65.2,205.8Z" fill="#767676" stroke="#767676" stroke-width="0.3"/><path d="M64.0,205.3 L65.2,205.8 M72.4,206.0 L73.5,206.5" stroke="#404040" stroke-width="0.45" fill="none"/>
<path d="M86.6,192.9 94.9,193.6 95.5,193.3 87.2,192.6Z" fill="#595959" stroke="#595959" stroke-width="0.3"/><path d="M86.6,192.9 L87.2,192.6 M94.9,193.6 L95.5,193.3" stroke="#303030" stroke-width="0.45" fill="none"/>
<path d="M48.3,190.0 52.0,190.3 52.5,192.0 48.8,191.7Z" fill="#c1c1c1" stroke="#c1c1c1" stroke-width="0.3"/><path d="M48.3,190.0 L48.8,191.7 M52.0,190.3 L52.5,192.0" stroke="#6a6a6a" stroke-width="0.45" fill="none"/>
<path d="M78.0,206.5 86.3,207.2 87.5,207.7 79.1,207.0Z" fill="#767676" stroke="#767676" stroke-width="0.3"/><path d="M78.0,206.5 L79.1,207.0 M86.3,207.2 L87.5,207.7" stroke="#404040" stroke-width="0.45" fill="none"/>
<path d="M49.6,202.4 56.9,203.0 57.9,204.7 50.6,204.1Z" fill="#777777" stroke="#777777" stroke-width="0.3"/><path d="M49.6,202.4 L50.6,204.1 M56.9,203.0 L57.9,204.7" stroke="#414141" stroke-width="0.45" fill="none"/>
<path d="M73.3,191.5 81.6,192.2 82.2,192.9 73.8,192.3Z" fill="#b2b2b2" stroke="#b2b2b2" stroke-width="0.3"/><path d="M73.3,191.5 L73.8,192.3 M81.6,192.2 L82.2,192.9" stroke="#616161" stroke-width="0.45" fill="none"/>
<path d="M101.1,194.0 108.3,194.6 108.9,194.4 101.7,193.8Z" fill="#910a91" stroke="#910a91" stroke-width="0.3"/><path d="M101.1,194.0 L101.7,193.8 M108.3,194.6 L108.9,194.4" stroke="#4f054f" stroke-width="0.45" fill="none"/>
<path d="M92.0,207.7 100.3,208.4 101.4,208.8 93.1,208.1Z" fill="#767676" stroke="#767676" stroke-width="0.3"/><path d="M92.0,207.7 L93.1,208.1 M100.3,208.4 L101.4,208.8" stroke="#404040" stroke-width="0.45" fill="none"/>
<path d="M59.9,191.0 68.2,191.7 68.7,193.5 60.4,192.8Z" fill="#c2c2c2" stroke="#c2c2c2" stroke-width="0.3"/><path d="M59.9,191.0 L60.4,192.8 M68.2,191.7 L68.7,193.5" stroke="#6a6a6a" stroke-width="0.45" fill="none"/>
<path d="M63.0,203.7 71.4,204.3 72.4,206.0 64.0,205.3Z" fill="#777777" stroke="#777777" stroke-width="0.3"/><path d="M63.0,203.7 L64.0,205.3 M71.4,204.3 L72.4,206.0" stroke="#414141" stroke-width="0.45" fill="none"/>
<path d="M87.2,192.6 95.5,193.3 96.1,194.2 87.7,193.5Z" fill="#b4b4b4" stroke="#b4b4b4" stroke-width="0.3"/><path d="M87.2,192.6 L87.7,193.5 M95.5,193.3 L96.1,194.2" stroke="#636363" stroke-width="0.45" fill="none"/>
<path d="M48.5,191.7 52.8,192.0 53.3,194.5 49.0,194.2Z" fill="#cccccc" stroke="#cccccc" stroke-width="0.3"/><path d="M48.5,191.7 L49.0,194.2 M52.8,192.0 L53.3,194.5" stroke="#707070" stroke-width="0.45" fill="none"/>
<path d="M49.2,200.0 55.7,200.5 56.5,203.0 50.0,202.5Z" fill="#999999" stroke="#999999" stroke-width="0.3"/><path d="M49.2,200.0 L50.0,202.5 M55.7,200.5 L56.5,203.0" stroke="#545454" stroke-width="0.45" fill="none"/>
<path d="M77.0,204.9 85.3,205.6 86.3,207.2 78.0,206.5Z" fill="#767676" stroke="#767676" stroke-width="0.3"/><path d="M77.0,204.9 L78.0,206.5 M85.3,205.6 L86.3,207.2" stroke="#404040" stroke-width="0.45" fill="none"/>
<path d="M73.8,192.3 82.2,192.9 82.6,194.7 74.3,194.1Z" fill="#c3c3c3" stroke="#c3c3c3" stroke-width="0.3"/><path d="M73.8,192.3 L74.3,194.1 M82.2,192.9 L82.6,194.7" stroke="#6b6b6b" stroke-width="0.45" fill="none"/>
<path d="M48.6,194.1 53.7,194.5 54.3,197.5 49.2,197.1Z" fill="#d1d1d1" stroke="#d1d1d1" stroke-width="0.3"/><path d="M48.6,194.1 L49.2,197.1 M53.7,194.5 L54.3,197.5" stroke="#727272" stroke-width="0.45" fill="none"/>
<path d="M48.8,197.0 54.6,197.5 55.3,200.5 49.5,200.0Z" fill="#bfbfbf" stroke="#bfbfbf" stroke-width="0.3"/><path d="M48.8,197.0 L49.5,200.0 M54.6,197.5 L55.3,200.5" stroke="#696969" stroke-width="0.45" fill="none"/>
<path d="M62.2,201.2 70.5,201.9 71.4,204.3 63.0,203.7Z" fill="#979797" stroke="#979797" stroke-width="0.3"/><path d="M62.2,201.2 L63.0,203.7 M70.5,201.9 L71.4,204.3" stroke="#535353" stroke-width="0.45" fill="none"/>
<path d="M60.4,192.8 68.7,193.5 69.2,196.0 60.9,195.3Z" fill="#cccccc" stroke="#cccccc" stroke-width="0.3"/><path d="M60.4,192.8 L60.9,195.3 M68.7,193.5 L69.2,196.0" stroke="#707070" stroke-width="0.45" fill="none"/>
<path d="M102.0,193.9 108.6,194.4 109.1,195.3 102.5,194.8Z" fill="#e10de1" stroke="#e10de1" stroke-width="0.3"/><path d="M102.0,193.9 L102.5,194.8 M108.6,194.4 L109.1,195.3" stroke="#7b077b" stroke-width="0.45" fill="none"/>
<path d="M90.9,206.2 99.3,206.9 100.3,208.4 92.0,207.7Z" fill="#767676" stroke="#767676" stroke-width="0.3"/><path d="M90.9,206.2 L92.0,207.7 M99.3,206.9 L100.3,208.4" stroke="#404040" stroke-width="0.45" fill="none"/>
<path d="M87.7,193.5 96.1,194.2 96.6,196.0 88.2,195.4Z" fill="#c4c4c4" stroke="#c4c4c4" stroke-width="0.3"/><path d="M87.7,193.5 L88.2,195.4 M96.1,194.2 L96.6,196.0" stroke="#6b6b6b" stroke-width="0.45" fill="none"/>
<path d="M61.5,198.3 69.8,199.0 70.5,201.9 62.2,201.2Z" fill="#bdbdbd" stroke="#bdbdbd" stroke-width="0.3"/><path d="M61.5,198.3 L62.2,201.2 M69.8,199.0 L70.5,201.9" stroke="#676767" stroke-width="0.45" fill="none"/>
<path d="M60.9,195.3 69.2,196.0 69.8,199.0 61.5,198.3Z" fill="#d1d1d1" stroke="#d1d1d1" stroke-width="0.3"/><path d="M60.9,195.3 L61.5,198.3 M69.2,196.0 L69.8,199.0" stroke="#727272" stroke-width="0.45" fill="none"/>
<path d="M76.1,202.5 84.5,203.2 85.3,205.6 77.0,204.9Z" fill="#949494" stroke="#949494" stroke-width="0.3"/><path d="M76.1,202.5 L77.0,204.9 M84.5,203.2 L85.3,205.6" stroke="#515151" stroke-width="0.45" fill="none"/>
<path d="M74.3,194.1 82.6,194.7 83.2,197.3 74.8,196.7Z" fill="#cdcdcd" stroke="#cdcdcd" stroke-width="0.3"/><path d="M74.3,194.1 L74.8,196.7 M82.6,194.7 L83.2,197.3" stroke="#707070" stroke-width="0.45" fill="none"/>
<path d="M75.4,199.6 83.8,200.3 84.5,203.2 76.1,202.5Z" fill="#bababa" stroke="#bababa" stroke-width="0.3"/><path d="M75.4,199.6 L76.1,202.5 M83.8,200.3 L84.5,203.2" stroke="#666666" stroke-width="0.45" fill="none"/>
<path d="M74.8,196.7 83.2,197.3 83.8,200.3 75.4,199.6Z" fill="#d0d0d0" stroke="#d0d0d0" stroke-width="0.3"/><path d="M74.8,196.7 L75.4,199.6 M83.2,197.3 L83.8,200.3" stroke="#727272" stroke-width="0.45" fill="none"/>
<path d="M90.1,203.9 98.4,204.5 99.3,206.9 90.9,206.2Z" fill="#929292" stroke="#929292" stroke-width="0.3"/><path d="M90.1,203.9 L90.9,206.2 M98.4,204.5 L99.3,206.9" stroke="#505050" stroke-width="0.45" fill="none"/>
<path d="M102.9,194.8 108.7,195.3 109.2,197.2 103.4,196.8Z" fill="#ef11ef" stroke="#ef11ef" stroke-width="0.3"/><path d="M102.9,194.8 L103.4,196.8 M108.7,195.3 L109.2,197.2" stroke="#830983" stroke-width="0.45" fill="none"/>
<path d="M88.2,195.4 96.6,196.0 97.1,198.7 88.8,198.0Z" fill="#cdcdcd" stroke="#cdcdcd" stroke-width="0.3"/><path d="M88.2,195.4 L88.8,198.0 M96.6,196.0 L97.1,198.7" stroke="#707070" stroke-width="0.45" fill="none"/>
<path d="M89.4,201.0 97.7,201.6 98.4,204.5 90.1,203.9Z" fill="#b8b8b8" stroke="#b8b8b8" stroke-width="0.3"/><path d="M89.4,201.0 L90.1,203.9 M97.7,201.6 L98.4,204.5" stroke="#656565" stroke-width="0.45" fill="none"/>
<path d="M106.7,205.4 109.6,205.6 110.5,208.0 107.6,207.7Z" fill="#c00ac0" stroke="#c00ac0" stroke-width="0.3"/><path d="M106.7,205.4 L107.6,207.7 M109.6,205.6 L110.5,208.0" stroke="#690569" stroke-width="0.45" fill="none"/>
<path d="M88.8,198.0 97.1,198.7 97.7,201.6 89.4,201.0Z" fill="#d0d0d0" stroke="#d0d0d0" stroke-width="0.3"/><path d="M88.8,198.0 L89.4,201.0 M97.1,198.7 L97.7,201.6" stroke="#727272" stroke-width="0.45" fill="none"/>
<path d="M103.8,196.8 108.9,197.2 109.4,199.9 104.3,199.5Z" fill="#f713f7" stroke="#f713f7" stroke-width="0.3"/><path d="M103.8,196.8 L104.3,199.5 M108.9,197.2 L109.4,199.9" stroke="#870a87" stroke-width="0.45" fill="none"/>
<path d="M105.6,202.5 109.3,202.8 110.0,205.7 106.4,205.4Z" fill="#e20de2" stroke="#e20de2" stroke-width="0.3"/><path d="M105.6,202.5 L106.4,205.4 M109.3,202.8 L110.0,205.7" stroke="#7c077c" stroke-width="0.45" fill="none"/>
<path d="M104.7,199.5 109.0,199.8 109.6,202.8 105.3,202.5Z" fill="#f814f8" stroke="#f814f8" stroke-width="0.3"/><path d="M104.7,199.5 L105.3,202.5 M109.0,199.8 L109.6,202.8" stroke="#880b88" stroke-width="0.45" fill="none"/>
<path d="M48.5,180.4 57.3,182.0 58.9,178.5 50.2,176.9Z" fill="#868686" stroke="#868686" stroke-width="0.3"/><path d="M48.5,180.4 L50.2,176.9 M57.3,182.0 L58.9,178.5" stroke="#494949" stroke-width="0.45" fill="none"/>
<path d="M50.2,176.9 58.9,178.5 60.4,175.1 51.6,173.5Z" fill="#7c7c7c" stroke="#7c7c7c" stroke-width="0.3"/><path d="M50.2,176.9 L51.6,173.5 M58.9,178.5 L60.4,175.1" stroke="#444444" stroke-width="0.45" fill="none"/>
<path d="M46.7,183.4 55.5,185.0 57.3,182.0 48.5,180.4Z" fill="#848484" stroke="#848484" stroke-width="0.3"/><path d="M46.7,183.4 L48.5,180.4 M55.5,185.0 L57.3,182.0" stroke="#484848" stroke-width="0.45" fill="none"/>
<path d="M51.6,173.5 60.4,175.1 61.5,172.3 52.8,170.7Z" fill="#6a6a6a" stroke="#6a6a6a" stroke-width="0.3"/><path d="M51.6,173.5 L52.8,170.7 M60.4,175.1 L61.5,172.3" stroke="#3a3a3a" stroke-width="0.45" fill="none"/>
<path d="M63.5,182.4 72.2,184.0 73.8,180.5 65.1,178.9Z" fill="#858585" stroke="#858585" stroke-width="0.3"/><path d="M63.5,182.4 L65.1,178.9 M72.2,184.0 L73.8,180.5" stroke="#494949" stroke-width="0.45" fill="none"/>
<path d="M65.1,178.9 73.8,180.5 75.2,177.2 66.5,175.6Z" fill="#797979" stroke="#797979" stroke-width="0.3"/><path d="M65.1,178.9 L66.5,175.6 M73.8,180.5 L75.2,177.2" stroke="#424242" stroke-width="0.45" fill="none"/>
<path d="M61.7,185.5 70.4,187.1 72.2,184.0 63.5,182.4Z" fill="#858585" stroke="#858585" stroke-width="0.3"/><path d="M61.7,185.5 L63.5,182.4 M70.4,187.1 L72.2,184.0" stroke="#494949" stroke-width="0.45" fill="none"/>
<path d="M45.0,185.3 53.7,186.9 55.5,185.0 46.7,183.4Z" fill="#7e7e7e" stroke="#7e7e7e" stroke-width="0.3"/><path d="M45.0,185.3 L46.7,183.4 M53.7,186.9 L55.5,185.0" stroke="#454545" stroke-width="0.45" fill="none"/>
<path d="M78.4,184.4 87.1,186.0 88.7,182.5 80.0,180.9Z" fill="#848484" stroke="#848484" stroke-width="0.3"/><path d="M78.4,184.4 L80.0,180.9 M87.1,186.0 L88.7,182.5" stroke="#484848" stroke-width="0.45" fill="none"/>
<path d="M66.5,175.6 75.2,177.2 76.3,174.5 67.5,172.9Z" fill="#666666" stroke="#666666" stroke-width="0.3"/><path d="M66.5,175.6 L67.5,172.9 M75.2,177.2 L76.3,174.5" stroke="#383838" stroke-width="0.45" fill="none"/>
<path d="M76.6,187.6 85.4,189.3 87.1,186.0 78.4,184.4Z" fill="#868686" stroke="#868686" stroke-width="0.3"/><path d="M76.6,187.6 L78.4,184.4 M85.4,189.3 L87.1,186.0" stroke="#494949" stroke-width="0.45" fill="none"/>
<path d="M52.8,170.7 61.5,172.3 62.3,170.6 53.5,168.9Z" fill="#595959" stroke="#595959" stroke-width="0.3"/><path d="M52.8,170.7 L53.5,168.9 M61.5,172.3 L62.3,170.6" stroke="#303030" stroke-width="0.45" fill="none"/>
<path d="M59.9,187.7 68.6,189.3 70.4,187.1 61.7,185.5Z" fill="#7f7f7f" stroke="#7f7f7f" stroke-width="0.3"/><path d="M59.9,187.7 L61.7,185.5 M68.6,189.3 L70.4,187.1" stroke="#454545" stroke-width="0.45" fill="none"/>
<path d="M80.0,180.9 88.7,182.5 90.0,179.3 81.3,177.7Z" fill="#757575" stroke="#757575" stroke-width="0.3"/><path d="M80.0,180.9 L81.3,177.7 M88.7,182.5 L90.0,179.3" stroke="#404040" stroke-width="0.45" fill="none"/>
<path d="M43.4,185.9 52.1,187.5 53.7,186.9 45.0,185.3Z" fill="#757575" stroke="#757575" stroke-width="0.3"/><path d="M43.4,185.9 L45.0,185.3 M52.1,187.5 L53.7,186.9" stroke="#404040" stroke-width="0.45" fill="none"/>
<path d="M94.2,186.6 101.1,187.9 102.7,184.3 95.8,183.1Z" fill="#828282" stroke="#828282" stroke-width="0.3"/><path d="M94.2,186.6 L95.8,183.1 M101.1,187.9 L102.7,184.3" stroke="#474747" stroke-width="0.45" fill="none"/>
<path d="M74.8,190.0 83.6,191.6 85.4,189.3 76.6,187.6Z" fill="#818181" stroke="#818181" stroke-width="0.3"/><path d="M74.8,190.0 L76.6,187.6 M83.6,191.6 L85.4,189.3" stroke="#464646" stroke-width="0.45" fill="none"/>
<path d="M92.1,189.8 99.8,191.2 101.5,187.9 93.8,186.5Z" fill="#868686" stroke="#868686" stroke-width="0.3"/><path d="M92.1,189.8 L93.8,186.5 M99.8,191.2 L101.5,187.9" stroke="#494949" stroke-width="0.45" fill="none"/>
<path d="M81.3,177.7 90.0,179.3 91.0,176.8 82.3,175.2Z" fill="#636363" stroke="#636363" stroke-width="0.3"/><path d="M81.3,177.7 L82.3,175.2 M90.0,179.3 L91.0,176.8" stroke="#363636" stroke-width="0.45" fill="none"/>
<path d="M67.5,172.9 76.3,174.5 77.0,173.0 68.2,171.4Z" fill="#595959" stroke="#595959" stroke-width="0.3"/><path d="M67.5,172.9 L68.2,171.4 M76.3,174.5 L77.0,173.0" stroke="#303030" stroke-width="0.45" fill="none"/>
<path d="M96.1,183.1 102.3,184.3 103.5,181.1 97.4,180.0Z" fill="#717171" stroke="#717171" stroke-width="0.3"/><path d="M96.1,183.1 L97.4,180.0 M102.3,184.3 L103.5,181.1" stroke="#3e3e3e" stroke-width="0.45" fill="none"/>
<path d="M58.2,188.6 67.0,190.2 68.6,189.3 59.9,187.7Z" fill="#777777" stroke="#777777" stroke-width="0.3"/><path d="M58.2,188.6 L59.9,187.7 M67.0,190.2 L68.6,189.3" stroke="#414141" stroke-width="0.45" fill="none"/>
<path d="M53.5,168.9 62.3,170.6 62.7,170.2 54.0,168.6Z" fill="#595959" stroke="#595959" stroke-width="0.3"/><path d="M53.5,168.9 L54.0,168.6 M62.3,170.6 L62.7,170.2" stroke="#303030" stroke-width="0.45" fill="none"/>
<path d="M89.9,192.4 98.4,193.9 100.2,191.3 91.7,189.8Z" fill="#828282" stroke="#828282" stroke-width="0.3"/><path d="M89.9,192.4 L91.7,189.8 M98.4,193.9 L100.2,191.3" stroke="#474747" stroke-width="0.45" fill="none"/>
<path d="M42.2,166.4 45.2,166.9 45.5,167.7 42.4,167.2Z" fill="#acacac" stroke="#acacac" stroke-width="0.3"/><path d="M42.2,166.4 L42.4,167.2 M45.2,166.9 L45.5,167.7" stroke="#5e5e5e" stroke-width="0.45" fill="none"/>
<path d="M73.1,191.2 81.9,192.8 83.6,191.6 74.8,190.0Z" fill="#797979" stroke="#797979" stroke-width="0.3"/><path d="M73.1,191.2 L74.8,190.0 M81.9,192.8 L83.6,191.6" stroke="#424242" stroke-width="0.45" fill="none"/>
<path d="M42.1,185.1 50.6,186.6 52.0,187.5 43.5,185.9Z" fill="#767676" stroke="#767676" stroke-width="0.3"/><path d="M42.1,185.1 L43.5,185.9 M50.6,186.6 L52.0,187.5" stroke="#404040" stroke-width="0.45" fill="none"/>
<path d="M97.8,180.1 103.2,181.1 104.1,178.8 98.7,177.8Z" fill="#970a97" stroke="#970a97" stroke-width="0.3"/><path d="M97.8,180.1 L98.7,177.8 M103.2,181.1 L104.1,178.8" stroke="#530553" stroke-width="0.45" fill="none"/>
<path d="M82.3,175.2 91.0,176.8 91.7,175.6 82.9,174.0Z" fill="#595959" stroke="#595959" stroke-width="0.3"/><path d="M82.3,175.2 L82.9,174.0 M91.0,176.8 L91.7,175.6" stroke="#303030" stroke-width="0.45" fill="none"/>
<path d="M88.0,193.7 96.8,195.3 98.5,193.9 89.8,192.3Z" fill="#7b7b7b" stroke="#7b7b7b" stroke-width="0.3"/><path d="M88.0,193.7 L89.8,192.3 M96.8,195.3 L98.5,193.9" stroke="#434343" stroke-width="0.45" fill="none"/>
<path d="M68.2,171.4 77.0,173.0 77.4,172.9 68.6,171.3Z" fill="#595959" stroke="#595959" stroke-width="0.3"/><path d="M68.2,171.4 L68.6,171.3 M77.0,173.0 L77.4,172.9" stroke="#303030" stroke-width="0.45" fill="none"/>
<path d="M56.8,188.0 65.6,189.6 67.0,190.2 58.2,188.6Z" fill="#767676" stroke="#767676" stroke-width="0.3"/><path d="M56.8,188.0 L58.2,188.6 M65.6,189.6 L67.0,190.2" stroke="#404040" stroke-width="0.45" fill="none"/>
<path d="M54.0,168.6 62.7,170.2 63.0,171.3 54.2,169.6Z" fill="#b1b1b1" stroke="#b1b1b1" stroke-width="0.3"/><path d="M54.0,168.6 L54.2,169.6 M62.7,170.2 L63.0,171.3" stroke="#616161" stroke-width="0.45" fill="none"/>
<path d="M42.0,167.1 45.9,167.8 46.0,170.0 42.1,169.3Z" fill="#bfbfbf" stroke="#bfbfbf" stroke-width="0.3"/><path d="M42.0,167.1 L42.1,169.3 M45.9,167.8 L46.0,170.0" stroke="#696969" stroke-width="0.45" fill="none"/>
<path d="M71.7,190.9 80.4,192.5 81.9,192.8 73.1,191.2Z" fill="#767676" stroke="#767676" stroke-width="0.3"/><path d="M71.7,190.9 L73.1,191.2 M80.4,192.5 L81.9,192.8" stroke="#404040" stroke-width="0.45" fill="none"/>
<path d="M41.5,182.9 49.2,184.3 50.2,186.5 42.5,185.1Z" fill="#797979" stroke="#797979" stroke-width="0.3"/><path d="M41.5,182.9 L42.5,185.1 M49.2,184.3 L50.2,186.5" stroke="#424242" stroke-width="0.45" fill="none"/>
<path d="M99.1,177.9 103.7,178.8 104.3,177.8 99.7,177.0Z" fill="#910a91" stroke="#910a91" stroke-width="0.3"/><path d="M99.1,177.9 L99.7,177.0 M103.7,178.8 L104.3,177.8" stroke="#4f054f" stroke-width="0.45" fill="none"/>
<path d="M82.9,174.0 91.7,175.6 92.0,175.8 83.3,174.2Z" fill="#a2a2a2" stroke="#a2a2a2" stroke-width="0.3"/><path d="M82.9,174.0 L83.3,174.2 M91.7,175.6 L92.0,175.8" stroke="#595959" stroke-width="0.45" fill="none"/>
<path d="M86.5,193.7 95.3,195.3 96.8,195.3 88.0,193.7Z" fill="#707070" stroke="#707070" stroke-width="0.3"/><path d="M86.5,193.7 L88.0,193.7 M95.3,195.3 L96.8,195.3" stroke="#3d3d3d" stroke-width="0.45" fill="none"/>
<path d="M55.7,186.0 64.5,187.6 65.6,189.6 56.8,188.0Z" fill="#767676" stroke="#767676" stroke-width="0.3"/><path d="M55.7,186.0 L56.8,188.0 M64.5,187.6 L65.6,189.6" stroke="#404040" stroke-width="0.45" fill="none"/>
<path d="M68.6,171.3 77.4,172.9 77.6,174.3 68.8,172.7Z" fill="#b5b5b5" stroke="#b5b5b5" stroke-width="0.3"/><path d="M68.6,171.3 L68.8,172.7 M77.4,172.9 L77.6,174.3" stroke="#636363" stroke-width="0.45" fill="none"/>
<path d="M41.7,169.2 46.3,170.0 46.4,173.2 41.8,172.4Z" fill="#cbcbcb" stroke="#cbcbcb" stroke-width="0.3"/><path d="M41.7,169.2 L41.8,172.4 M46.3,170.0 L46.4,173.2" stroke="#6f6f6f" stroke-width="0.45" fill="none"/>
<path d="M54.2,169.6 63.0,171.3 63.0,173.6 54.3,172.0Z" fill="#c2c2c2" stroke="#c2c2c2" stroke-width="0.3"/><path d="M54.2,169.6 L54.3,172.0 M63.0,171.3 L63.0,173.6" stroke="#6a6a6a" stroke-width="0.45" fill="none"/>
<path d="M41.2,179.8 48.1,181.0 48.8,184.3 41.9,183.0Z" fill="#9b9b9b" stroke="#9b9b9b" stroke-width="0.3"/><path d="M41.2,179.8 L41.9,183.0 M48.1,181.0 L48.8,184.3" stroke="#555555" stroke-width="0.45" fill="none"/>
<path d="M70.5,189.2 79.3,190.8 80.4,192.5 71.7,190.9Z" fill="#767676" stroke="#767676" stroke-width="0.3"/><path d="M70.5,189.2 L71.7,190.9 M79.3,190.8 L80.4,192.5" stroke="#404040" stroke-width="0.45" fill="none"/>
<path d="M41.4,172.3 46.8,173.3 46.9,177.1 41.6,176.1Z" fill="#d1d1d1" stroke="#d1d1d1" stroke-width="0.3"/><path d="M41.4,172.3 L41.6,176.1 M46.8,173.3 L46.9,177.1" stroke="#727272" stroke-width="0.45" fill="none"/>
<path d="M41.2,176.0 47.3,177.2 47.7,181.0 41.6,179.8Z" fill="#c0c0c0" stroke="#c0c0c0" stroke-width="0.3"/><path d="M41.2,176.0 L41.6,179.8 M47.3,177.2 L47.7,181.0" stroke="#696969" stroke-width="0.45" fill="none"/>
<path d="M100.1,177.0 103.9,177.7 104.2,178.2 100.4,177.5Z" fill="#d50ad5" stroke="#d50ad5" stroke-width="0.3"/><path d="M100.1,177.0 L100.4,177.5 M103.9,177.7 L104.2,178.2" stroke="#750575" stroke-width="0.45" fill="none"/>
<path d="M55.0,183.0 63.7,184.6 64.5,187.6 55.7,186.0Z" fill="#949494" stroke="#949494" stroke-width="0.3"/><path d="M55.0,183.0 L55.7,186.0 M63.7,184.6 L64.5,187.6" stroke="#515151" stroke-width="0.45" fill="none"/>
<path d="M85.3,192.3 94.0,193.9 95.3,195.3 86.5,193.7Z" fill="#767676" stroke="#767676" stroke-width="0.3"/><path d="M85.3,192.3 L86.5,193.7 M94.0,193.9 L95.3,195.3" stroke="#404040" stroke-width="0.45" fill="none"/>
<path d="M54.3,172.0 63.0,173.6 63.1,177.0 54.3,175.4Z" fill="#cdcdcd" stroke="#cdcdcd" stroke-width="0.3"/><path d="M54.3,172.0 L54.3,175.4 M63.0,173.6 L63.1,177.0" stroke="#707070" stroke-width="0.45" fill="none"/>
<path d="M83.3,174.2 92.0,175.8 92.2,177.4 83.4,175.8Z" fill="#b9b9b9" stroke="#b9b9b9" stroke-width="0.3"/><path d="M83.3,174.2 L83.4,175.8 M92.0,175.8 L92.2,177.4" stroke="#656565" stroke-width="0.45" fill="none"/>
<path d="M68.8,172.7 77.6,174.3 77.6,176.9 68.9,175.3Z" fill="#c5c5c5" stroke="#c5c5c5" stroke-width="0.3"/><path d="M68.8,172.7 L68.9,175.3 M77.6,174.3 L77.6,176.9" stroke="#6c6c6c" stroke-width="0.45" fill="none"/>
<path d="M54.5,179.2 63.3,180.8 63.7,184.6 55.0,183.0Z" fill="#b9b9b9" stroke="#b9b9b9" stroke-width="0.3"/><path d="M54.5,179.2 L55.0,183.0 M63.3,180.8 L63.7,184.6" stroke="#656565" stroke-width="0.45" fill="none"/>
<path d="M69.7,186.3 78.4,187.9 79.3,190.8 70.5,189.2Z" fill="#8d8d8d" stroke="#8d8d8d" stroke-width="0.3"/><path d="M69.7,186.3 L70.5,189.2 M78.4,187.9 L79.3,190.8" stroke="#4d4d4d" stroke-width="0.45" fill="none"/>
<path d="M54.3,175.4 63.1,177.0 63.3,180.8 54.5,179.2Z" fill="#d0d0d0" stroke="#d0d0d0" stroke-width="0.3"/><path d="M54.3,175.4 L54.5,179.2 M63.1,177.0 L63.3,180.8" stroke="#727272" stroke-width="0.45" fill="none"/>
<path d="M68.9,175.3 77.6,176.9 77.7,180.4 68.9,178.8Z" fill="#cfcfcf" stroke="#cfcfcf" stroke-width="0.3"/><path d="M68.9,175.3 L68.9,178.8 M77.6,176.9 L77.7,180.4" stroke="#717171" stroke-width="0.45" fill="none"/>
<path d="M100.7,177.6 103.8,178.1 103.9,180.0 100.9,179.5Z" fill="#e70fe7" stroke="#e70fe7" stroke-width="0.3"/><path d="M100.7,177.6 L100.9,179.5 M103.8,178.1 L103.9,180.0" stroke="#7f087f" stroke-width="0.45" fill="none"/>
<path d="M84.4,189.6 93.2,191.2 94.0,193.9 85.3,192.3Z" fill="#868686" stroke="#868686" stroke-width="0.3"/><path d="M84.4,189.6 L85.3,192.3 M93.2,191.2 L94.0,193.9" stroke="#494949" stroke-width="0.45" fill="none"/>
<path d="M69.2,182.7 77.9,184.3 78.4,187.9 69.7,186.3Z" fill="#b2b2b2" stroke="#b2b2b2" stroke-width="0.3"/><path d="M69.2,182.7 L69.7,186.3 M77.9,184.3 L78.4,187.9" stroke="#616161" stroke-width="0.45" fill="none"/>
<path d="M83.4,175.8 92.2,177.4 92.2,180.2 83.5,178.6Z" fill="#c7c7c7" stroke="#c7c7c7" stroke-width="0.3"/><path d="M83.4,175.8 L83.5,178.6 M92.2,177.4 L92.2,180.2" stroke="#6d6d6d" stroke-width="0.45" fill="none"/>
<path d="M68.9,178.8 77.7,180.4 77.9,184.3 69.2,182.7Z" fill="#cecece" stroke="#cecece" stroke-width="0.3"/><path d="M68.9,178.8 L69.2,182.7 M77.7,180.4 L77.9,184.3" stroke="#717171" stroke-width="0.45" fill="none"/>
<path d="M83.8,186.1 92.6,187.7 93.2,191.2 84.4,189.6Z" fill="#ababab" stroke="#ababab" stroke-width="0.3"/><path d="M83.8,186.1 L84.4,189.6 M92.6,187.7 L93.2,191.2" stroke="#5e5e5e" stroke-width="0.45" fill="none"/>
<path d="M83.5,178.6 92.2,180.2 92.3,183.8 83.6,182.2Z" fill="#d0d0d0" stroke="#d0d0d0" stroke-width="0.3"/><path d="M83.5,178.6 L83.6,182.2 M92.2,180.2 L92.3,183.8" stroke="#727272" stroke-width="0.45" fill="none"/>
<path d="M83.6,182.2 92.3,183.8 92.6,187.7 83.8,186.1Z" fill="#cbcbcb" stroke="#cbcbcb" stroke-width="0.3"/><path d="M83.6,182.2 L83.8,186.1 M92.3,183.8 L92.6,187.7" stroke="#6f6f6f" stroke-width="0.45" fill="none"/>
<path d="M103.0,176.0 L103.5,176.2 L104.3,176.4 L105.2,176.8 L106.1,177.1 L107.1,177.5 L108.0,178.0 L108.9,178.6 L109.9,179.3 L110.8,180.1 L111.7,180.9 L112.5,181.5 L113.0,182.0" fill="none" stroke="#c010c0" stroke-width="2.50" stroke-linecap="round" stroke-linejoin="round"/><path d="M103.0,176.0 L103.5,176.2 L104.3,176.4 L105.2,176.8 L106.1,177.1 L107.1,177.5 L108.0,178.0 L108.9,178.6 L109.9,179.3 L110.8,180.1 L111.7,180.9 L112.5,181.5 L113.0,182.0" fill="none" stroke="#f040f0" stroke-width="1.10" stroke-linecap="round" stroke-linejoin="round"/>
<path d="M94.9,152.2 96.3,153.0 98.4,154.0 100.7,155.1 102.9,156.2 105.1,157.3 106.6,160.0 109.8,158.8 112.0,158.0 112.0,158.0 111.3,155.8 110.4,152.5 107.3,152.9 105.1,151.8 102.9,150.7 100.6,149.5 98.6,148.5 97.1,147.8Z" fill="#a8a8a8" stroke="#5e5e5e" stroke-width="0.45" stroke-linejoin="round"/>
<path d="M98.4,172.2 100.2,171.8 102.8,171.3 105.7,170.8 108.4,170.2 111.2,169.7 114.1,169.1 116.5,168.1 118.0,166.0 118.0,166.0 115.9,164.6 113.2,164.7 110.3,165.2 107.6,165.8 104.8,166.3 101.9,166.9 99.4,167.4 97.6,167.8Z" fill="#b4b4b4" stroke="#666" stroke-width="0.45" stroke-linejoin="round"/>
<path d="M100.4,180.2 102.1,179.9 104.7,179.5 107.6,178.9 110.6,178.2 113.8,177.2 117.4,176.0 120.5,174.9 122.0,172.0 122.0,172.0 119.1,170.7 115.9,171.7 112.5,172.9 109.4,173.8 106.6,174.5 103.8,175.0 101.4,175.5 99.6,175.8Z" fill="#9c9c9c" stroke="#5a5a5a" stroke-width="0.45" stroke-linejoin="round"/>
<path d="M104.7,187.9 106.5,187.1 109.1,186.1 112.0,185.0 114.7,183.9 117.5,182.8 120.4,181.6 122.8,180.2 124.0,178.0 124.0,178.0 121.6,177.2 118.9,177.9 116.0,179.0 113.3,180.1 110.5,181.2 107.6,182.4 105.1,183.4 103.3,184.1Z" fill="#b8b8b8" stroke="#666" stroke-width="0.45" stroke-linejoin="round"/>
<path d="M100,150 108,151 108,155 100,154Z" fill="#e020e0" stroke="#c010c0" stroke-width="0.4"/>
<path d="M126.0,137.0 L128.0,133.5 L132.0,133.5 L134.0,137.0 L132.0,140.5 L128.0,140.5Z" fill="none" stroke="#e830e8" stroke-width="1.2" stroke-linejoin="round"/>
<path d="M115.7,156.0 L117.3,152.4 L120.7,152.4 L122.3,156.0 L120.7,159.6 L117.3,159.6Z" fill="none" stroke="#e830e8" stroke-width="1.2" stroke-linejoin="round"/>
<path d="M123.0,164.5 L125.4,160.5 L130.2,160.5 L132.6,164.5 L130.2,168.5 L125.4,168.5Z" fill="none" stroke="#e830e8" stroke-width="1.2" stroke-linejoin="round"/>
<path d="M134.0,137.0 L139.0,136.0" fill="none" stroke="#e830e8" stroke-width="1.2" stroke-linecap="round" stroke-linejoin="round"/>
<path d="M122.0,156.0 L125.0,160.5" fill="none" stroke="#e830e8" stroke-width="1.2" stroke-linecap="round" stroke-linejoin="round"/>
<path d="M132.5,164.5 L137.0,166.0" fill="none" stroke="#e830e8" stroke-width="1.2" stroke-linecap="round" stroke-linejoin="round"/>
<path d="M116.0,156.0 L112.0,154.0" fill="none" stroke="#e830e8" stroke-width="1.2" stroke-linecap="round" stroke-linejoin="round"/>
<path d="M120.0,134.0 L126.0,137.0 L132.0,135.0 L136.0,140.0 L130.0,144.0 L124.0,142.0" fill="none" stroke="#e830e8" stroke-width="1.3" stroke-linecap="round" stroke-linejoin="round"/>
<path d="M126.0,137.0 L125.0,144.0" fill="none" stroke="#e830e8" stroke-width="1.3" stroke-linecap="round" stroke-linejoin="round"/>
<path d="M136.0,140.0 L142.0,139.0" fill="none" stroke="#e830e8" stroke-width="1.3" stroke-linecap="round" stroke-linejoin="round"/>
<path d="M114.0,150.0 L120.0,154.0 L126.0,152.0 L130.0,158.0 L124.0,162.0" fill="none" stroke="#e830e8" stroke-width="1.3" stroke-linecap="round" stroke-linejoin="round"/>
<path d="M120.0,154.0 L122.0,160.0" fill="none" stroke="#e830e8" stroke-width="1.3" stroke-linecap="round" stroke-linejoin="round"/>
<path d="M126.0,162.0 L130.0,168.0" fill="none" stroke="#e830e8" stroke-width="1.3" stroke-linecap="round" stroke-linejoin="round"/>
<path d="M88.0,140.0 L94.0,143.0 L100.0,141.0" fill="none" stroke="#e830e8" stroke-width="1.3" stroke-linecap="round" stroke-linejoin="round"/>
<path d="M120.0,145.0 L126.0,148.0" fill="none" stroke="#e830e8" stroke-width="1.3" stroke-linecap="round" stroke-linejoin="round"/>
<path d="M110.0,184.0 L116.0,186.0" fill="none" stroke="#e830e8" stroke-width="1.3" stroke-linecap="round" stroke-linejoin="round"/>
<path d="M124.0,140.0 L128.0,133.0" fill="none" stroke="#e830e8" stroke-width="1.3" stroke-linecap="round" stroke-linejoin="round"/>
<path d="M100.0,120.0 L104.0,126.0 L102.0,132.0" fill="none" stroke="#b0b0b0" stroke-width="1.0" stroke-linecap="round" stroke-linejoin="round"/>
<path d="M104.0,126.0 L108.0,128.0" fill="none" stroke="#b0b0b0" stroke-width="1.0" stroke-linecap="round" stroke-linejoin="round"/>
<path d="M104.0,136.0 L108.0,140.0" fill="none" stroke="#b0b0b0" stroke-width="1.0" stroke-linecap="round" stroke-linejoin="round"/>
<rect x="297" y="83.34" width="7.5" height="15.36" fill="#ff7f0e" stroke="#222" stroke-width="0.35"/>
<line x1="297" y1="98.7" x2="297" y2="99.9" stroke="#333" stroke-width="0.35"/>
<text x="297" y="103.5" font-size="3.7" text-anchor="middle" fill="#333">B</text>
<rect x="308.12" y="83.34" width="7.5" height="15.36" fill="#1f77b4" stroke="#222" stroke-width="0.35"/>
<rect x="315.62" y="14.22" width="7.5" height="84.48" fill="#ff7f0e" stroke="#222" stroke-width="0.35"/>
<line x1="315.62" y1="98.7" x2="315.62" y2="99.9" stroke="#333" stroke-width="0.35"/>
<text x="315.62" y="103.5" font-size="3.7" text-anchor="middle" fill="#333">E</text>
<rect x="334.24" y="67.98" width="7.5" height="30.72" fill="#ff7f0e" stroke="#222" stroke-width="0.35"/>
<line x1="334.24" y1="98.7" x2="334.24" y2="99.9" stroke="#333" stroke-width="0.35"/>
<text x="334.24" y="103.5" font-size="3.7" text-anchor="middle" fill="#333">G</text>
<rect x="345.36" y="87.18" width="7.5" height="11.52" fill="#1f77b4" stroke="#222" stroke-width="0.35"/>
<rect x="352.86" y="60.3" width="7.5" height="38.4" fill="#ff7f0e" stroke="#222" stroke-width="0.35"/>
<line x1="352.86" y1="98.7" x2="352.86" y2="99.9" stroke="#333" stroke-width="0.35"/>
<text x="352.86" y="103.5" font-size="3.7" text-anchor="middle" fill="#333">H</text>
<rect x="371.48" y="75.66" width="7.5" height="23.04" fill="#ff7f0e" stroke="#222" stroke-width="0.35"/>
<line x1="371.48" y1="98.7" x2="371.48" y2="99.9" stroke="#333" stroke-width="0.35"/>
<text x="371.48" y="103.5" font-size="3.7" text-anchor="middle" fill="#333">S</text>
<rect x="382.6" y="94.86" width="7.5" height="3.84" fill="#1f77b4" stroke="#222" stroke-width="0.35"/>
<rect x="390.1" y="60.3" width="7.5" height="38.4" fill="#ff7f0e" stroke="#222" stroke-width="0.35"/>
<line x1="390.1" y1="98.7" x2="390.1" y2="99.9" stroke="#333" stroke-width="0.35"/>
<text x="390.1" y="103.5" font-size="3.7" text-anchor="middle" fill="#333">T</text>
<rect x="284.4" y="11.0" width="117.8" height="87.7" fill="none" stroke="#444" stroke-width="0.45"/>
<line x1="283.2" y1="98.7" x2="284.4" y2="98.7" stroke="#333" stroke-width="0.35"/>
<text x="282.6" y="99.9" font-size="3.8" text-anchor="end" fill="#333">0</text>
<line x1="283.2" y1="79.5" x2="284.4" y2="79.5" stroke="#333" stroke-width="0.35"/>
<text x="282.6" y="80.7" font-size="3.8" text-anchor="end" fill="#333">5</text>
<line x1="283.2" y1="60.3" x2="284.4" y2="60.3" stroke="#333" stroke-width="0.35"/>
<text x="282.6" y="61.5" font-size="3.8" text-anchor="end" fill="#333">10</text>
<line x1="283.2" y1="41.1" x2="284.4" y2="41.1" stroke="#333" stroke-width="0.35"/>
<text x="282.6" y="42.3" font-size="3.8" text-anchor="end" fill="#333">15</text>
<line x1="283.2" y1="21.9" x2="284.4" y2="21.9" stroke="#333" stroke-width="0.35"/>
<text x="282.6" y="23.1" font-size="3.8" text-anchor="end" fill="#333">20</text>
<text x="343.4" y="108" font-size="3.7" text-anchor="middle" fill="#333">Secondary_Structure</text>
<text transform="translate(275.6,55) rotate(-90)" font-size="3.7" text-anchor="middle" fill="#333">Count</text>
<rect x="370.9" y="13.2" width="30.3" height="14.8" rx="0.8" fill="#fff" fill-opacity="0.8" stroke="#ddd" stroke-width="0.35"/>
<text x="386" y="16.6" font-size="3.4" text-anchor="middle" fill="#333">ClinVar</text>
<rect x="372.2" y="19.3" width="6.6" height="2.4" fill="#1f77b4" stroke="#222" stroke-width="0.3"/>
<text x="381.3" y="21.6" font-size="3.5" fill="#333">Benign</text>
<rect x="372.2" y="24.2" width="6.6" height="2.4" fill="#ff7f0e" stroke="#222" stroke-width="0.3"/>
<text x="381.3" y="26.5" font-size="3.5" fill="#333">Pathogenic</text>
<line x1="457.2" y1="42.2" x2="457.2" y2="94.5" stroke="#3d3d3d" stroke-width="0.45"/>
<rect x="433.5" y="51.6" width="47.5" height="22.4" fill="#1f77b4" stroke="#3d3d3d" stroke-width="0.45"/>
<line x1="433.5" y1="61.2" x2="481" y2="61.2" stroke="#3d3d3d" stroke-width="0.45"/>
<line x1="445.6" y1="42.2" x2="468.8" y2="42.2" stroke="#3d3d3d" stroke-width="0.45"/>
<line x1="445.6" y1="94.5" x2="468.8" y2="94.5" stroke="#3d3d3d" stroke-width="0.45"/>
<line x1="516.2" y1="81.8" x2="516.2" y2="88.4" stroke="#3d3d3d" stroke-width="0.45"/>
<rect x="493" y="88.4" width="46.3" height="5.8" fill="#ff7f0e" stroke="#3d3d3d" stroke-width="0.45"/>
<line x1="493" y1="93.6" x2="539.3" y2="93.6" stroke="#3d3d3d" stroke-width="0.45"/>
<line x1="504.6" y1="81.8" x2="527.8" y2="81.8" stroke="#3d3d3d" stroke-width="0.45"/>
<line x1="504.6" y1="94.4" x2="527.8" y2="94.4" stroke="#3d3d3d" stroke-width="0.45"/>
<circle cx="516.3" cy="14.9" r="0.95" fill="none" stroke="#3d3d3d" stroke-width="0.35"/>
<circle cx="516.3" cy="54.8" r="0.95" fill="none" stroke="#3d3d3d" stroke-width="0.35"/>
<circle cx="516.3" cy="55.6" r="0.95" fill="none" stroke="#3d3d3d" stroke-width="0.35"/>
<circle cx="516.3" cy="68.8" r="0.95" fill="none" stroke="#3d3d3d" stroke-width="0.35"/>
<circle cx="516.3" cy="71.2" r="0.95" fill="none" stroke="#3d3d3d" stroke-width="0.35"/>
<circle cx="516.3" cy="73.6" r="0.95" fill="none" stroke="#3d3d3d" stroke-width="0.35"/>
<circle cx="516.3" cy="76.0" r="0.95" fill="none" stroke="#3d3d3d" stroke-width="0.35"/>
<rect x="427.3" y="10.8" width="118.2" height="87" fill="none" stroke="#444" stroke-width="0.45"/>
<line x1="426.1" y1="94.5" x2="427.3" y2="94.5" stroke="#333" stroke-width="0.35"/>
<text x="425.5" y="95.7" font-size="3.8" text-anchor="end" fill="#333">0</text>
<line x1="426.1" y1="77.95" x2="427.3" y2="77.95" stroke="#333" stroke-width="0.35"/>
<text x="425.5" y="79.15" font-size="3.8" text-anchor="end" fill="#333">50</text>
<line x1="426.1" y1="61.4" x2="427.3" y2="61.4" stroke="#333" stroke-width="0.35"/>
<text x="425.5" y="62.6" font-size="3.8" text-anchor="end" fill="#333">100</text>
<line x1="426.1" y1="44.85" x2="427.3" y2="44.85" stroke="#333" stroke-width="0.35"/>
<text x="425.5" y="46.05" font-size="3.8" text-anchor="end" fill="#333">150</text>
<line x1="426.1" y1="28.3" x2="427.3" y2="28.3" stroke="#333" stroke-width="0.35"/>
<text x="425.5" y="29.5" font-size="3.8" text-anchor="end" fill="#333">200</text>
<line x1="426.1" y1="11.75" x2="427.3" y2="11.75" stroke="#333" stroke-width="0.35"/>
<text x="425.5" y="12.95" font-size="3.8" text-anchor="end" fill="#333">250</text>
<line x1="457.2" y1="97.8" x2="457.2" y2="99" stroke="#333" stroke-width="0.35"/>
<text x="457.2" y="103" font-size="3.7" text-anchor="middle" fill="#333">Benign</text>
<line x1="516.2" y1="97.8" x2="516.2" y2="99" stroke="#333" stroke-width="0.35"/>
<text x="516.2" y="103" font-size="3.7" text-anchor="middle" fill="#333">Pathogenic</text>
<text x="486.4" y="108.4" font-size="3.7" text-anchor="middle" fill="#333">ClinVar</text>
<rect x="429" y="12.4" width="30" height="15.6" rx="0.8" fill="#fff" fill-opacity="0.8" stroke="#ddd" stroke-width="0.35"/>
<text x="444" y="16.2" font-size="3.4" text-anchor="middle" fill="#333">ClinVar</text>
<rect x="431" y="19" width="7" height="2.2" fill="#1f77b4" stroke="#222" stroke-width="0.3"/>
<text x="440" y="21.3" font-size="3.5" fill="#333">Benign</text>
<rect x="431" y="24" width="7" height="2.2" fill="#ff7f0e" stroke="#222" stroke-width="0.3"/>
<text x="440" y="26.3" font-size="3.5" fill="#333">Pathogenic</text>
<line x1="283.3" y1="157.3" x2="545" y2="157.3" stroke="#c4c4c4" stroke-width="0.5"/>
<line x1="283.3" y1="157.3" x2="283.3" y2="159" stroke="#666" stroke-width="0.4"/>
<text x="283.3" y="161.6" font-size="2.2" text-anchor="middle" fill="#999">0</text>
<line x1="302.53" y1="157.3" x2="302.53" y2="159" stroke="#666" stroke-width="0.4"/>
<text x="302.53" y="161.6" font-size="2.2" text-anchor="middle" fill="#999">50</text>
<line x1="321.76" y1="157.3" x2="321.76" y2="159" stroke="#666" stroke-width="0.4"/>
<text x="321.76" y="161.6" font-size="2.2" text-anchor="middle" fill="#999">100</text>
<line x1="340.99" y1="157.3" x2="340.99" y2="159" stroke="#666" stroke-width="0.4"/>
<text x="340.99" y="161.6" font-size="2.2" text-anchor="middle" fill="#999">150</text>
<line x1="360.22" y1="157.3" x2="360.22" y2="159" stroke="#666" stroke-width="0.4"/>
<text x="360.22" y="161.6" font-size="2.2" text-anchor="middle" fill="#999">200</text>
<line x1="379.45" y1="157.3" x2="379.45" y2="159" stroke="#666" stroke-width="0.4"/>
<text x="379.45" y="161.6" font-size="2.2" text-anchor="middle" fill="#999">250</text>
<line x1="398.68" y1="157.3" x2="398.68" y2="159" stroke="#666" stroke-width="0.4"/>
<text x="398.68" y="161.6" font-size="2.2" text-anchor="middle" fill="#999">300</text>
<line x1="417.91" y1="157.3" x2="417.91" y2="159" stroke="#666" stroke-width="0.4"/>
<text x="417.91" y="161.6" font-size="2.2" text-anchor="middle" fill="#999">350</text>
<line x1="437.14" y1="157.3" x2="437.14" y2="159" stroke="#666" stroke-width="0.4"/>
<text x="437.14" y="161.6" font-size="2.2" text-anchor="middle" fill="#999">400</text>
<line x1="456.37" y1="157.3" x2="456.37" y2="159" stroke="#666" stroke-width="0.4"/>
<text x="456.37" y="161.6" font-size="2.2" text-anchor="middle" fill="#999">450</text>
<line x1="475.6" y1="157.3" x2="475.6" y2="159" stroke="#666" stroke-width="0.4"/>
<text x="475.6" y="161.6" font-size="2.2" text-anchor="middle" fill="#999">500</text>
<line x1="494.83" y1="157.3" x2="494.83" y2="159" stroke="#666" stroke-width="0.4"/>
<text x="494.83" y="161.6" font-size="2.2" text-anchor="middle" fill="#999">550</text>
<line x1="514.06" y1="157.3" x2="514.06" y2="159" stroke="#666" stroke-width="0.4"/>
<text x="514.06" y="161.6" font-size="2.2" text-anchor="middle" fill="#999">600</text>
<line x1="533.29" y1="157.3" x2="533.29" y2="159" stroke="#666" stroke-width="0.4"/>
<text x="533.29" y="161.6" font-size="2.2" text-anchor="middle" fill="#999">650</text>
<line x1="543.6" y1="157.3" x2="543.6" y2="159" stroke="#666" stroke-width="0.4"/>
<text x="543.6" y="161.6" font-size="2.2" text-anchor="middle" fill="#999">677</text>
<line x1="283.2" y1="144.2" x2="283.2" y2="134.2" stroke="#a8a8a8" stroke-width="0.55"/>
<line x1="283.6" y1="144.2" x2="283.6" y2="134.2" stroke="#a8a8a8" stroke-width="0.55"/>
<line x1="286.9" y1="144.2" x2="286.9" y2="134.2" stroke="#a8a8a8" stroke-width="0.55"/>
<line x1="296.8" y1="144.2" x2="296.8" y2="134.2" stroke="#a8a8a8" stroke-width="0.55"/>
<line x1="299.7" y1="144.2" x2="299.7" y2="134.2" stroke="#a8a8a8" stroke-width="0.55"/>
<line x1="302.2" y1="144.2" x2="302.2" y2="133.3" stroke="#a8a8a8" stroke-width="0.55"/>
<line x1="304.1" y1="144.2" x2="304.1" y2="133.3" stroke="#a8a8a8" stroke-width="0.55"/>
<line x1="306" y1="144.2" x2="306" y2="133.3" stroke="#a8a8a8" stroke-width="0.55"/>
<line x1="309.2" y1="144.2" x2="309.2" y2="134.2" stroke="#a8a8a8" stroke-width="0.55"/>
<line x1="315.5" y1="144.2" x2="315.5" y2="134.2" stroke="#a8a8a8" stroke-width="0.55"/>
<line x1="317.2" y1="144.2" x2="317.2" y2="134.2" stroke="#a8a8a8" stroke-width="0.55"/>
<line x1="322.3" y1="144.2" x2="322.3" y2="134.2" stroke="#a8a8a8" stroke-width="0.55"/>
<line x1="324.5" y1="144.2" x2="324.5" y2="134.2" stroke="#a8a8a8" stroke-width="0.55"/>
<line x1="330.4" y1="144.2" x2="330.4" y2="134.2" stroke="#a8a8a8" stroke-width="0.55"/>
<line x1="331.8" y1="144.2" x2="331.8" y2="134.2" stroke="#a8a8a8" stroke-width="0.55"/>
<line x1="335.2" y1="144.2" x2="335.2" y2="134.2" stroke="#a8a8a8" stroke-width="0.55"/>
<line x1="336.6" y1="144.2" x2="336.6" y2="134.2" stroke="#a8a8a8" stroke-width="0.55"/>
<line x1="339.1" y1="144.2" x2="339.1" y2="134.2" stroke="#a8a8a8" stroke-width="0.55"/>
<line x1="340.4" y1="144.2" x2="340.4" y2="132.4" stroke="#a8a8a8" stroke-width="0.55"/>
<line x1="342.6" y1="144.2" x2="342.6" y2="134.2" stroke="#a8a8a8" stroke-width="0.55"/>
<line x1="349.6" y1="144.2" x2="349.6" y2="133.3" stroke="#a8a8a8" stroke-width="0.55"/>
<line x1="354.7" y1="144.2" x2="354.7" y2="134.2" stroke="#a8a8a8" stroke-width="0.55"/>
<line x1="356.2" y1="144.2" x2="356.2" y2="134.2" stroke="#a8a8a8" stroke-width="0.55"/>
<line x1="360.1" y1="144.2" x2="360.1" y2="134.2" stroke="#a8a8a8" stroke-width="0.55"/>
<line x1="363" y1="144.2" x2="363" y2="134.2" stroke="#a8a8a8" stroke-width="0.55"/>
<line x1="374.7" y1="144.2" x2="374.7" y2="134.2" stroke="#a8a8a8" stroke-width="0.55"/>
<line x1="381" y1="144.2" x2="381" y2="134.2" stroke="#a8a8a8" stroke-width="0.55"/>
<line x1="383.9" y1="144.2" x2="383.9" y2="134.2" stroke="#a8a8a8" stroke-width="0.55"/>
<line x1="386.1" y1="144.2" x2="386.1" y2="134.2" stroke="#a8a8a8" stroke-width="0.55"/>
<line x1="387.6" y1="144.2" x2="387.6" y2="134.2" stroke="#a8a8a8" stroke-width="0.55"/>
<line x1="389.7" y1="144.2" x2="389.7" y2="134.2" stroke="#a8a8a8" stroke-width="0.55"/>
<line x1="391.2" y1="144.2" x2="391.2" y2="134.2" stroke="#a8a8a8" stroke-width="0.55"/>
<line x1="398.5" y1="144.2" x2="398.5" y2="134.2" stroke="#a8a8a8" stroke-width="0.55"/>
<line x1="400.2" y1="144.2" x2="400.2" y2="134.2" stroke="#a8a8a8" stroke-width="0.55"/>
<line x1="402.8" y1="144.2" x2="402.8" y2="131.5" stroke="#a8a8a8" stroke-width="0.55"/>
<line x1="406" y1="144.2" x2="406" y2="134.2" stroke="#a8a8a8" stroke-width="0.55"/>
<line x1="410.4" y1="144.2" x2="410.4" y2="134.2" stroke="#a8a8a8" stroke-width="0.55"/>
<line x1="411.9" y1="144.2" x2="411.9" y2="131.5" stroke="#a8a8a8" stroke-width="0.55"/>
<line x1="416.3" y1="144.2" x2="416.3" y2="134.2" stroke="#a8a8a8" stroke-width="0.55"/>
<line x1="432.6" y1="144.2" x2="432.6" y2="134.2" stroke="#a8a8a8" stroke-width="0.55"/>
<line x1="436" y1="144.2" x2="436" y2="134.2" stroke="#a8a8a8" stroke-width="0.55"/>
<line x1="444.5" y1="144.2" x2="444.5" y2="133.3" stroke="#a8a8a8" stroke-width="0.55"/>
<line x1="446.7" y1="144.2" x2="446.7" y2="134.2" stroke="#a8a8a8" stroke-width="0.55"/>
<line x1="450.5" y1="144.2" x2="450.5" y2="134.2" stroke="#a8a8a8" stroke-width="0.55"/>
<line x1="452.3" y1="144.2" x2="452.3" y2="131.5" stroke="#a8a8a8" stroke-width="0.55"/>
<line x1="458.4" y1="144.2" x2="458.4" y2="134.2" stroke="#a8a8a8" stroke-width="0.55"/>
<line x1="460.3" y1="144.2" x2="460.3" y2="134.2" stroke="#a8a8a8" stroke-width="0.55"/>
<line x1="468.1" y1="144.2" x2="468.1" y2="133.3" stroke="#a8a8a8" stroke-width="0.55"/>
<line x1="474.9" y1="144.2" x2="474.9" y2="134.2" stroke="#a8a8a8" stroke-width="0.55"/>
<line x1="476.4" y1="144.2" x2="476.4" y2="134.2" stroke="#a8a8a8" stroke-width="0.55"/>
<line x1="483.2" y1="144.2" x2="483.2" y2="134.2" stroke="#a8a8a8" stroke-width="0.55"/>
<line x1="485.1" y1="144.2" x2="485.1" y2="134.2" stroke="#a8a8a8" stroke-width="0.55"/>
<line x1="487.3" y1="144.2" x2="487.3" y2="134.2" stroke="#a8a8a8" stroke-width="0.55"/>
<line x1="493.9" y1="144.2" x2="493.9" y2="134.2" stroke="#a8a8a8" stroke-width="0.55"/>
<line x1="496.8" y1="144.2" x2="496.8" y2="134.2" stroke="#a8a8a8" stroke-width="0.55"/>
<line x1="500.5" y1="144.2" x2="500.5" y2="134.2" stroke="#a8a8a8" stroke-width="0.55"/>
<line x1="501.9" y1="144.2" x2="501.9" y2="134.2" stroke="#a8a8a8" stroke-width="0.55"/>
<line x1="503" y1="144.2" x2="503" y2="134.2" stroke="#a8a8a8" stroke-width="0.55"/>
<line x1="505.5" y1="144.2" x2="505.5" y2="134.2" stroke="#a8a8a8" stroke-width="0.55"/>
<line x1="509.6" y1="144.2" x2="509.6" y2="131.5" stroke="#a8a8a8" stroke-width="0.55"/>
<line x1="511.8" y1="144.2" x2="511.8" y2="134.2" stroke="#a8a8a8" stroke-width="0.55"/>
<circle cx="283.2" cy="134.2" r="0.85" fill="#2a3cf0"/>
<circle cx="283.6" cy="134.2" r="0.85" fill="#f01818"/>
<circle cx="286.9" cy="134.2" r="0.85" fill="#2a3cf0"/>
<circle cx="296.8" cy="134.2" r="0.85" fill="#f01818"/>
<circle cx="299.7" cy="134.2" r="0.85" fill="#f01818"/>
<circle cx="302.2" cy="134.2" r="0.85" fill="#f01818"/>
<circle cx="302.7" cy="133.1" r="0.85" fill="#f01818"/>
<circle cx="304.1" cy="134.2" r="0.85" fill="#f01818"/>
<circle cx="304.6" cy="133.1" r="0.85" fill="#f01818"/>
<circle cx="306" cy="134.2" r="0.85" fill="#f01818"/>
<circle cx="306.5" cy="133.1" r="0.85" fill="#f01818"/>
<circle cx="309.2" cy="134.2" r="0.85" fill="#f01818"/>
<circle cx="315.5" cy="134.2" r="0.85" fill="#f01818"/>
<circle cx="317.2" cy="134.2" r="0.85" fill="#f01818"/>
<circle cx="322.3" cy="134.2" r="0.85" fill="#f01818"/>
<circle cx="324.5" cy="134.2" r="0.85" fill="#2a3cf0"/>
<circle cx="330.4" cy="134.2" r="0.85" fill="#f01818"/>
<circle cx="331.8" cy="134.2" r="0.85" fill="#f01818"/>
<circle cx="335.2" cy="134.2" r="0.85" fill="#f01818"/>
<circle cx="336.6" cy="134.2" r="0.85" fill="#f01818"/>
<circle cx="339.1" cy="134.2" r="0.85" fill="#f01818"/>
<circle cx="340.4" cy="134.2" r="0.85" fill="#f01818"/>
<circle cx="340.9" cy="133.1" r="0.85" fill="#f01818"/>
<circle cx="341.4" cy="132" r="0.85" fill="#f01818"/>
<circle cx="342.6" cy="134.2" r="0.85" fill="#f01818"/>
<circle cx="349.6" cy="134.2" r="0.85" fill="#f01818"/>
<circle cx="350.1" cy="133.1" r="0.85" fill="#f01818"/>
<circle cx="354.7" cy="134.2" r="0.85" fill="#f01818"/>
<circle cx="356.2" cy="134.2" r="0.85" fill="#f01818"/>
<circle cx="360.1" cy="134.2" r="0.85" fill="#f01818"/>
<circle cx="363" cy="134.2" r="0.85" fill="#f01818"/>
<circle cx="374.7" cy="134.2" r="0.85" fill="#f01818"/>
<circle cx="381" cy="134.2" r="0.85" fill="#f01818"/>
<circle cx="383.9" cy="134.2" r="0.85" fill="#f01818"/>
<circle cx="386.1" cy="134.2" r="0.85" fill="#f01818"/>
<circle cx="387.6" cy="134.2" r="0.85" fill="#f01818"/>
<circle cx="389.7" cy="134.2" r="0.85" fill="#f01818"/>
<circle cx="391.2" cy="134.2" r="0.85" fill="#f01818"/>
<circle cx="398.5" cy="134.2" r="0.85" fill="#f01818"/>
<circle cx="400.2" cy="134.2" r="0.85" fill="#2a3cf0"/>
<circle cx="402.8" cy="134.2" r="0.85" fill="#f01818"/>
<circle cx="403.3" cy="133.1" r="0.85" fill="#f01818"/>
<circle cx="403.8" cy="132" r="0.85" fill="#f01818"/>
<circle cx="404.3" cy="130.9" r="0.85" fill="#f01818"/>
<circle cx="406" cy="134.2" r="0.85" fill="#f01818"/>
<circle cx="410.4" cy="134.2" r="0.85" fill="#f01818"/>
<circle cx="411.9" cy="134.2" r="0.85" fill="#f01818"/>
<circle cx="412.4" cy="133.1" r="0.85" fill="#f01818"/>
<circle cx="412.9" cy="132" r="0.85" fill="#f01818"/>
<circle cx="413.4" cy="130.9" r="0.85" fill="#f01818"/>
<circle cx="416.3" cy="134.2" r="0.85" fill="#f01818"/>
<circle cx="432.6" cy="134.2" r="0.85" fill="#2a3cf0"/>
<circle cx="436" cy="134.2" r="0.85" fill="#2a3cf0"/>
<circle cx="444.5" cy="134.2" r="0.85" fill="#f01818"/>
<circle cx="445" cy="133.1" r="0.85" fill="#f01818"/>
<circle cx="446.7" cy="134.2" r="0.85" fill="#f01818"/>
<circle cx="450.5" cy="134.2" r="0.85" fill="#2a3cf0"/>
<circle cx="452.3" cy="134.2" r="0.85" fill="#f01818"/>
<circle cx="452.8" cy="133.1" r="0.85" fill="#f01818"/>
<circle cx="453.3" cy="132" r="0.85" fill="#f01818"/>
<circle cx="453.8" cy="130.9" r="0.85" fill="#f01818"/>
<circle cx="458.4" cy="134.2" r="0.85" fill="#f01818"/>
<circle cx="460.3" cy="134.2" r="0.85" fill="#f01818"/>
<circle cx="468.1" cy="134.2" r="0.85" fill="#f01818"/>
<circle cx="468.6" cy="133.1" r="0.85" fill="#f01818"/>
<circle cx="474.9" cy="134.2" r="0.85" fill="#f01818"/>
<circle cx="476.4" cy="134.2" r="0.85" fill="#2a3cf0"/>
<circle cx="483.2" cy="134.2" r="0.85" fill="#2a3cf0"/>
<circle cx="485.1" cy="134.2" r="0.85" fill="#2a3cf0"/>
<circle cx="487.3" cy="134.2" r="0.85" fill="#2a3cf0"/>
<circle cx="493.9" cy="134.2" r="0.85" fill="#f01818"/>
<circle cx="496.8" cy="134.2" r="0.85" fill="#f01818"/>
<circle cx="500.5" cy="134.2" r="0.85" fill="#f01818"/>
<circle cx="501.9" cy="134.2" r="0.85" fill="#2a3cf0"/>
<circle cx="503" cy="134.2" r="0.85" fill="#2a3cf0"/>
<circle cx="505.5" cy="134.2" r="0.85" fill="#f01818"/>
<circle cx="509.6" cy="134.2" r="0.85" fill="#f01818"/>
<circle cx="510.1" cy="133.1" r="0.85" fill="#f01818"/>
<circle cx="510.6" cy="132" r="0.85" fill="#f01818"/>
<circle cx="511.1" cy="130.9" r="0.85" fill="#f01818"/>
<circle cx="511.8" cy="134.2" r="0.85" fill="#f01818"/>
<rect x="283.4" y="144.2" width="260.1" height="8.7" fill="#1473ee"/>
<text x="413" y="149.1" font-size="1.8" text-anchor="middle" fill="#cfe3ff">GH35</text>
<line x1="284.3" y1="250.3" x2="543.6" y2="250.3" stroke="#ebebeb" stroke-width="0.45"/>
<line x1="284.3" y1="237.48" x2="543.6" y2="237.48" stroke="#ebebeb" stroke-width="0.45"/>
<line x1="284.3" y1="224.66" x2="543.6" y2="224.66" stroke="#ebebeb" stroke-width="0.45"/>
<line x1="284.3" y1="211.84" x2="543.6" y2="211.84" stroke="#ebebeb" stroke-width="0.45"/>
<line x1="284.3" y1="199.02" x2="543.6" y2="199.02" stroke="#ebebeb" stroke-width="0.45"/>
<line x1="284.3" y1="186.2" x2="543.6" y2="186.2" stroke="#ebebeb" stroke-width="0.45"/>
<line x1="284.3" y1="173.38" x2="543.6" y2="173.38" stroke="#ebebeb" stroke-width="0.45"/>
<line x1="313.8" y1="166" x2="313.8" y2="253.6" stroke="#ebebeb" stroke-width="0.45"/>
<line x1="355.78" y1="166" x2="355.78" y2="253.6" stroke="#ebebeb" stroke-width="0.45"/>
<line x1="397.76" y1="166" x2="397.76" y2="253.6" stroke="#ebebeb" stroke-width="0.45"/>
<line x1="439.74" y1="166" x2="439.74" y2="253.6" stroke="#ebebeb" stroke-width="0.45"/>
<line x1="481.72" y1="166" x2="481.72" y2="253.6" stroke="#ebebeb" stroke-width="0.45"/>
<line x1="523.7" y1="166" x2="523.7" y2="253.6" stroke="#ebebeb" stroke-width="0.45"/>
<line x1="284.3" y1="186.3" x2="543.6" y2="186.3" stroke="#8c8cf5" stroke-width="0.7" stroke-dasharray="1 1.5"/>
<line x1="284.3" y1="191.4" x2="543.6" y2="191.4" stroke="#c82a2a" stroke-width="0.85" stroke-dasharray="1 1.5"/>
<line x1="284.3" y1="197.3" x2="543.6" y2="197.3" stroke="#f2ae3c" stroke-width="0.95" stroke-dasharray="1 1.5"/>
<line x1="284.3" y1="206.0" x2="543.6" y2="206.0" stroke="#2a9e2a" stroke-width="1.05" stroke-dasharray="1.05 1.45"/>
<path d="M283.9,184.5 L284.3,183.9 L284.8,180.6 L285.2,177.9 L285.7,182.1 L286.2,188.9 L286.7,198.1 L287.1,196.8 L287.6,197.2 L288.0,194.9 L288.5,193.9 L289.0,194.8 L289.5,191.9 L289.9,197.7 L290.4,193.8 L290.8,189.5 L291.2,179.9 L291.7,177.9 L292.1,178.9 L292.6,180.1 L293.0,182.2 L293.5,184.7 L294.0,188.5 L294.4,188.8 L294.9,192.7 L295.3,192.4 L295.6,189.1 L296.0,192.8 L296.4,190.7 L296.8,190.8 L297.2,186.0 L297.6,183.3 L298.1,186.2 L298.5,189.4 L299.0,193.8 L299.4,196.1 L299.9,192.6 L300.3,189.0 L300.8,187.6 L301.3,189.9 L301.7,192.2 L302.2,198.9 L302.6,194.8 L303.1,185.7 L303.5,186.9 L304.0,189.6 L304.4,182.3 L304.9,183.0 L305.4,191.4 L305.8,197.5 L306.3,195.5 L306.7,190.5 L307.2,185.6 L307.6,188.1 L308.1,187.6 L308.6,187.0 L309.0,193.5 L309.5,196.5 L309.9,193.3 L310.3,187.7 L310.6,188.8 L311.0,185.2 L311.4,183.0 L311.8,179.0 L312.2,177.1 L312.7,180.2 L313.1,186.7 L313.6,182.7 L314.0,184.0 L314.5,189.7 L314.9,195.8 L315.4,197.2 L315.9,193.4 L316.3,188.8 L316.8,193.0 L317.2,191.3 L317.7,189.0 L318.1,196.2 L318.6,200.8 L319.1,202.0 L319.5,204.4 L320.0,199.5 L320.4,197.0 L320.9,190.5 L321.3,184.5 L321.8,187.8 L322.2,186.3 L322.7,194.5 L323.2,198.9 L323.6,195.1 L324.1,185.9 L324.5,183.7 L325.0,184.2 L325.4,180.8 L325.9,184.2 L326.4,189.1 L326.8,186.3 L327.3,190.9 L327.7,189.6 L328.2,187.1 L328.6,186.9 L329.1,191.0 L329.5,193.3 L330.0,194.4 L330.5,190.1 L330.9,188.5 L331.4,190.7 L331.8,188.6 L332.3,185.1 L332.7,186.2 L333.2,186.3 L333.7,180.4 L334.1,174.7 L334.6,178.2 L335.0,180.6 L335.5,182.3 L335.9,188.0 L336.4,182.8 L336.9,185.7 L337.3,180.3 L337.8,178.9 L338.2,185.6 L338.7,191.5 L339.1,195.8 L339.6,198.8 L340.0,195.9 L340.5,193.5 L341.0,192.3 L341.4,188.9 L341.9,186.5 L342.3,184.4 L342.8,180.4 L343.2,178.8 L343.7,179.5 L344.2,183.6 L344.6,181.5 L345.1,179.5 L345.5,179.4 L346.0,180.6 L346.4,183.7 L346.9,182.3 L347.3,184.3 L347.8,189.2 L348.3,181.5 L348.7,182.8 L349.2,198.4 L349.6,212.2 L350.1,202.7 L350.5,191.7 L351.0,198.2 L351.5,202.6 L351.9,192.9 L352.4,191.3 L352.8,188.0 L353.3,184.3 L353.7,183.6 L354.2,182.6 L354.7,184.7 L355.1,180.5 L355.6,185.4 L356.0,191.7 L356.5,184.8 L356.9,182.8 L357.4,182.1 L357.8,179.5 L358.3,182.6 L358.8,177.2 L359.2,179.3 L359.7,181.0 L360.1,185.4 L360.6,189.3 L361.0,183.3 L361.5,191.2 L362.0,191.6 L362.4,199.3 L362.9,199.6 L363.3,206.2 L363.8,206.7 L364.2,202.0 L364.7,199.4 L365.1,198.1 L365.6,197.8 L366.1,197.6 L366.5,201.7 L367.0,202.4 L367.4,200.7 L367.9,208.0 L368.3,202.5 L368.8,206.2 L369.3,200.5 L369.7,196.8 L370.2,194.3 L370.6,189.9 L371.0,192.0 L371.4,188.1 L371.8,187.3 L372.2,192.4 L372.6,191.1 L373.0,191.0 L373.4,191.5 L373.8,199.1 L374.2,201.8 L374.6,205.5 L375.0,202.5 L375.4,198.7 L375.8,192.0 L376.2,191.3 L376.6,190.3 L377.0,181.4 L377.4,187.5 L377.8,189.6 L378.2,188.9 L378.6,185.9 L379.0,193.9 L379.4,191.7 L379.8,189.3 L380.2,190.2 L380.6,190.0 L381.0,192.0 L381.6,191.1 L382.1,198.4 L382.5,199.2 L382.9,198.6 L383.3,193.8 L383.7,190.1 L384.1,192.0 L384.5,189.3 L384.9,187.1 L385.3,188.2 L385.7,183.5 L386.1,176.0 L386.5,180.2 L386.9,179.5 L387.3,186.6 L387.7,189.1 L388.1,189.0 L388.6,191.7 L389.1,195.9 L389.6,187.9 L390.1,183.4 L390.5,182.7 L390.9,186.1 L391.3,189.3 L391.7,191.8 L392.1,188.4 L392.5,189.8 L392.9,183.7 L393.3,183.2 L393.7,180.7 L394.1,186.5 L394.6,185.4 L395.1,189.2 L395.6,184.3 L396.1,179.7 L396.5,180.2 L396.9,183.3 L397.3,189.0 L397.7,188.1 L398.1,189.9 L398.5,192.6 L398.9,191.9 L399.3,190.2 L399.7,192.3 L400.1,197.9 L400.5,195.0 L400.9,197.7 L401.3,203.6 L401.7,206.5 L402.1,207.0 L402.5,204.3 L402.9,199.3 L403.3,191.8 L403.7,185.7 L404.2,183.1 L404.6,187.6 L405.0,186.0 L405.4,184.9 L405.8,185.1 L406.2,183.7 L406.7,195.8 L407.2,203.9 L407.7,197.3 L408.2,182.6 L408.6,187.3 L409.0,187.0 L409.4,184.2 L409.8,189.6 L410.2,189.5 L410.6,183.6 L411.0,183.8 L411.4,185.8 L411.8,184.0 L412.2,185.4 L412.6,188.7 L413.0,191.2 L413.4,192.9 L413.8,197.4 L414.2,198.9 L414.6,196.6 L415.0,188.9 L415.4,192.0 L415.8,193.0 L416.2,188.6 L416.6,188.0 L417.0,193.9 L417.4,187.9 L417.8,191.5 L418.2,197.8 L418.6,191.6 L419.0,192.9 L419.4,195.8 L419.8,192.0 L420.2,191.9 L420.6,194.6 L421.0,192.6 L421.4,195.0 L421.8,197.8 L422.2,201.2 L422.6,198.8 L423.0,196.9 L423.4,193.7 L423.8,193.5 L424.2,195.6 L424.6,197.7 L425.0,198.1 L425.4,200.1 L425.8,210.6 L426.2,212.7 L426.7,214.3 L427.3,209.3 L427.7,211.5 L428.1,210.4 L428.5,211.2 L428.9,207.1 L429.3,202.9 L429.7,202.8 L430.1,196.6 L430.5,200.8 L430.9,200.1 L431.3,196.9 L431.7,200.6 L432.1,202.8 L432.5,196.1 L432.9,195.3 L433.3,197.1 L433.7,197.4 L434.1,196.0 L434.5,194.0 L434.9,200.4 L435.3,199.9 L435.7,190.7 L436.1,184.5 L436.5,186.8 L436.9,183.3 L437.3,181.4 L437.7,179.4 L438.1,174.6 L438.5,175.2 L438.9,169.6 L439.3,170.6 L439.7,174.3 L440.1,178.0 L440.5,177.5 L440.9,179.7 L441.3,182.9 L441.7,182.6 L442.1,182.8 L442.5,181.4 L442.9,179.3 L443.3,180.8 L443.7,180.4 L444.1,178.6 L444.5,178.9 L444.9,180.8 L445.3,181.6 L445.7,181.5 L446.1,180.6 L446.5,180.1 L446.9,178.7 L447.3,175.1 L447.8,176.7 L448.2,177.9 L448.6,176.0 L449.1,173.1 L449.5,172.7 L449.9,168.5 L450.4,164.0 L450.8,170.0 L451.2,171.6 L451.6,177.6 L452.0,177.3 L452.4,175.3 L452.8,177.3 L453.2,184.1 L453.6,181.9 L454.0,178.9 L454.4,179.2 L454.8,183.9 L455.2,186.5 L455.6,187.7 L456.0,192.2 L456.4,193.1 L456.8,194.7 L457.2,199.1 L457.6,205.4 L458.0,208.4 L458.4,211.9 L458.8,208.3 L459.2,210.0 L459.6,213.4 L460.0,213.0 L460.4,213.0 L460.8,210.2 L461.2,208.3 L461.6,203.3 L462.0,206.2 L462.4,201.9 L462.8,195.0 L463.2,191.2 L463.6,193.5 L464.0,185.5 L464.4,188.6 L464.8,191.3 L465.2,191.2 L465.6,189.8 L466.0,193.8 L466.5,191.8 L466.9,191.0 L467.3,187.9 L467.7,183.1 L468.1,181.4 L468.5,182.9 L468.9,183.9 L469.3,185.1 L469.7,185.9 L470.1,189.6 L470.6,192.2 L471.1,198.1 L471.5,196.2 L471.9,190.1 L472.3,188.3 L472.7,181.9 L473.1,180.6 L473.5,183.8 L473.9,184.6 L474.3,183.2 L474.7,182.1 L475.1,178.7 L475.6,188.1 L476.1,190.4 L476.5,190.0 L476.9,184.4 L477.3,183.2 L477.7,178.1 L478.1,181.3 L478.5,185.1 L478.9,181.1 L479.3,185.1 L479.7,189.3 L480.1,186.4 L480.5,182.4 L480.9,181.3 L481.3,180.5 L481.7,177.0 L482.1,177.7 L482.5,179.0 L482.9,180.2 L483.3,180.6 L483.7,182.5 L484.1,182.2 L484.5,177.7 L484.9,178.8 L485.3,178.7 L485.7,179.4 L486.1,182.7 L486.5,184.0 L486.9,185.9 L487.3,182.0 L487.7,181.7 L488.1,184.7 L488.5,186.0 L488.9,186.7 L489.4,188.0 L489.8,187.4 L490.2,191.1 L490.7,194.8 L491.2,197.4 L491.6,192.7 L492.0,190.2 L492.4,181.5 L492.8,180.6 L493.2,180.6 L493.6,179.7 L494.0,184.4 L494.4,186.9 L494.8,185.4 L495.2,188.4 L495.6,188.4 L496.0,189.9 L496.4,190.5 L496.8,189.0 L497.2,186.3 L497.6,188.4 L498.0,190.0 L498.4,193.3 L498.8,194.2 L499.2,192.9 L499.6,191.4 L500.0,193.7 L500.4,194.1 L500.8,194.0 L501.2,196.7 L501.6,194.5 L502.0,193.8 L502.4,193.2 L502.8,189.6 L503.2,193.3 L503.7,197.2 L504.2,207.1 L504.6,204.7 L505.0,205.6 L505.4,197.4 L505.8,197.7 L506.2,199.6 L506.6,204.0 L507.0,211.2 L507.4,210.8 L507.8,214.5 L508.2,216.4 L508.6,213.9 L509.0,210.3 L509.4,205.9 L509.8,204.1 L510.2,198.2 L510.6,199.4 L511.0,192.9 L511.4,191.7 L511.9,193.8 L512.3,187.3 L512.7,186.6 L513.1,189.0 L513.5,187.2 L513.9,184.6 L514.3,186.2 L514.7,189.1 L515.1,191.4 L515.5,189.9 L515.9,196.2 L516.3,199.3 L516.7,197.2 L517.1,197.8 L517.5,197.2 L517.9,202.0 L518.3,199.6 L518.7,197.9 L519.1,192.3 L519.5,187.5 L519.9,186.7 L520.3,185.5 L520.7,182.3 L521.1,178.9 L521.5,180.5 L521.9,178.5 L522.3,177.9 L522.7,183.1 L523.1,185.4 L523.5,183.9 L523.9,191.2 L524.3,190.0 L524.7,194.6 L525.1,195.5 L525.5,199.9 L525.9,200.1 L526.3,210.9 L526.7,210.7 L527.1,203.6 L527.5,199.4 L527.9,196.7 L528.3,201.1 L528.7,197.4 L529.1,195.8 L529.5,193.3 L529.9,191.6 L530.3,187.4 L530.7,188.8 L531.1,185.7 L531.5,187.5 L531.9,188.7 L532.3,189.3 L532.7,187.6 L533.1,185.2 L533.5,186.5 L533.9,185.3 L534.3,189.3 L534.8,188.2 L535.2,185.2 L535.6,182.9 L536.0,181.0 L536.4,179.3 L536.8,181.1 L537.2,183.8 L537.6,185.7 L538.0,187.0 L538.4,191.5 L538.8,189.2 L539.2,191.9 L539.6,201.0 L540.0,195.3 L540.4,198.3 L540.8,201.5 L541.2,203.6 L541.6,206.0 L542.0,206.4 L542.4,209.0 L542.9,198.6 L543.4,188.1" fill="none" stroke="#3c3c3c" stroke-width="0.55" stroke-linejoin="round"/>
<line x1="284.3" y1="166" x2="284.3" y2="253.6" stroke="#8a8a8a" stroke-width="0.7"/>
<line x1="284.3" y1="253.6" x2="543.6" y2="253.6" stroke="#8a8a8a" stroke-width="0.7"/>
<line x1="282.5" y1="250.3" x2="284.3" y2="250.3" stroke="#555" stroke-width="0.45"/>
<text x="281.4" y="251.3" font-size="2.8" text-anchor="end" fill="#666">0</text>
<line x1="282.5" y1="237.48" x2="284.3" y2="237.48" stroke="#555" stroke-width="0.45"/>
<text x="281.4" y="238.48" font-size="2.8" text-anchor="end" fill="#666">0.2</text>
<line x1="282.5" y1="224.66" x2="284.3" y2="224.66" stroke="#555" stroke-width="0.45"/>
<text x="281.4" y="225.66" font-size="2.8" text-anchor="end" fill="#666">0.4</text>
<line x1="282.5" y1="211.84" x2="284.3" y2="211.84" stroke="#555" stroke-width="0.45"/>
<text x="281.4" y="212.84" font-size="2.8" text-anchor="end" fill="#666">0.6</text>
<line x1="282.5" y1="199.02" x2="284.3" y2="199.02" stroke="#555" stroke-width="0.45"/>
<text x="281.4" y="200.02" font-size="2.8" text-anchor="end" fill="#666">0.8</text>
<line x1="282.5" y1="186.2" x2="284.3" y2="186.2" stroke="#555" stroke-width="0.45"/>
<text x="281.4" y="187.2" font-size="2.8" text-anchor="end" fill="#666">1</text>
<line x1="282.5" y1="173.38" x2="284.3" y2="173.38" stroke="#555" stroke-width="0.45"/>
<text x="281.4" y="174.38" font-size="2.8" text-anchor="end" fill="#666">1.2</text>
<line x1="313.8" y1="253.6" x2="313.8" y2="254.9" stroke="#333" stroke-width="0.6"/>
<text x="313.8" y="258.8" font-size="2.6" text-anchor="middle" fill="#666">100</text>
<line x1="355.78" y1="253.6" x2="355.78" y2="254.9" stroke="#333" stroke-width="0.6"/>
<text x="355.78" y="258.8" font-size="2.6" text-anchor="middle" fill="#666">200</text>
<line x1="397.76" y1="253.6" x2="397.76" y2="254.9" stroke="#333" stroke-width="0.6"/>
<text x="397.76" y="258.8" font-size="2.6" text-anchor="middle" fill="#666">300</text>
<line x1="439.74" y1="253.6" x2="439.74" y2="254.9" stroke="#333" stroke-width="0.6"/>
<text x="439.74" y="258.8" font-size="2.6" text-anchor="middle" fill="#666">400</text>
<line x1="481.72" y1="253.6" x2="481.72" y2="254.9" stroke="#333" stroke-width="0.6"/>
<text x="481.72" y="258.8" font-size="2.6" text-anchor="middle" fill="#666">500</text>
<line x1="523.7" y1="253.6" x2="523.7" y2="254.9" stroke="#333" stroke-width="0.6"/>
<text x="523.7" y="258.8" font-size="2.6" text-anchor="middle" fill="#666">600</text>
<text x="414" y="268.4" font-size="3.0" text-anchor="middle" fill="#444" font-style="italic">Amino Acid Position</text>
<text transform="translate(269.2,209.4) rotate(-90)" font-size="3.0" text-anchor="middle" fill="#555">MTR3D</text>
</svg></body></html>
